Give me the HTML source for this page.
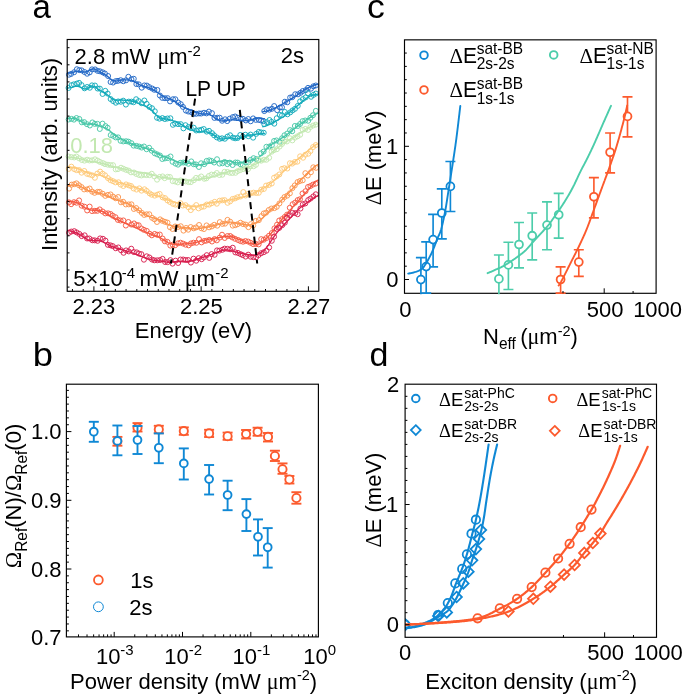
<!DOCTYPE html>
<html><head><meta charset="utf-8"><style>
html,body{margin:0;padding:0;background:#fff;}
body{width:685px;height:694px;overflow:hidden;}
svg{display:block;will-change:transform;}
text{font-family:"Liberation Sans", sans-serif;}
</style></head><body>
<svg width="685" height="694" viewBox="0 0 685 694">
<rect width="685" height="694" fill="#fff"/>
<polyline points="67.6,73.19 68.4,73.16 69.2,73.11 70,73.02 70.8,72.91 71.6,72.76 72.4,72.55 73.2,72.28 74,72.02 74.8,71.77 75.6,71.58 76.4,71.44 77.2,71.34 78,71.3 78.8,71.31 79.6,71.37 80.4,71.48 81.2,71.64 82,71.83 82.8,71.99 83.6,72.06 84.4,72.06 85.2,71.99 86,71.83 86.8,71.6 87.6,71.29 88.4,70.9 89.2,70.44 90,69.94 90.8,69.52 91.6,69.22 92.4,69.03 93.2,68.96 94,69 94.8,69.16 95.6,69.43 96.4,69.81 97.2,70.29 98,70.78 98.8,71.26 99.6,71.73 100.4,72.18 101.2,72.62 102,73.04 102.8,73.45 103.6,73.85 104.4,74.28 105.2,74.75 106,75.27 106.8,75.83 107.6,76.43 108.4,77.08 109.2,77.78 110,78.49 110.8,79.15 111.6,79.71 112.4,80.18 113.2,80.54 114,80.8 114.8,80.95 115.6,81 116.4,80.95 117.2,80.82 118,80.69 118.8,80.56 119.6,80.43 120.4,80.3 121.2,80.17 122,80.05 122.8,79.96 123.6,79.9 124.4,79.86 125.2,79.84 126,79.85 126.8,79.89 127.6,79.94 128.4,80.03 129.2,80.12 130,80.25 130.8,80.43 131.6,80.65 132.4,80.92 133.2,81.24 134,81.6 134.8,82 135.6,82.45 136.4,82.95 137.2,83.45 138,83.91 138.8,84.35 139.6,84.74 140.4,85.11 141.2,85.44 142,85.74 142.8,86 143.6,86.24 144.4,86.44 145.2,86.65 146,86.88 146.8,87.13 147.6,87.4 148.4,87.7 149.2,88.02 150,88.35 150.8,88.72 151.6,89.1 152.4,89.5 153.2,89.91 154,90.35 154.8,90.8 155.6,91.28 156.4,91.78 157.2,92.31 158,92.86 158.8,93.43 159.6,94.02 160.4,94.63 161.2,95.2 162,95.72 162.8,96.2 163.6,96.64 164.4,97.03 165.2,97.37 166,97.67 166.8,97.92 167.6,98.13 168.4,98.32 169.2,98.56 170,98.84 170.8,99.17 171.6,99.55 172.4,99.97 173.2,100.43 174,100.94 174.8,101.49 175.6,102.09 176.4,102.68 177.2,103.25 178,103.81 178.8,104.33 179.6,104.84 180.4,105.33 181.2,105.79 182,106.23 182.8,106.65 183.6,107.05 184.4,107.45 185.2,107.83 186,108.2 186.8,108.56 187.6,108.91 188.4,109.25 189.2,109.58 190,109.9 190.8,110.2 191.6,110.5 192.4,110.8 193.2,111.11 194,111.44 194.8,111.77 195.6,112.11 196.4,112.45 197.2,112.77 198,113.04 198.8,113.29 199.6,113.5 200.4,113.66 201.2,113.78 202,113.86 202.8,113.9 203.6,113.9 204.4,113.9 205.2,113.9 206,113.91 206.8,113.99 207.6,114.12 208.4,114.31 209.2,114.57 210,114.88 210.8,115.25 211.6,115.68 212.4,116.17 213.2,116.7 214,117.23 214.8,117.77 215.6,118.3 216.4,118.83 217.2,119.37 218,119.82 218.8,120.2 219.6,120.5 220.4,120.73 221.2,120.88 222,120.95 222.8,120.94 223.6,120.86 224.4,120.7 225.2,120.54 226,120.38 226.8,120.22 227.6,120.09 228.4,119.99 229.2,119.91 230,119.86 230.8,119.83 231.6,119.84 232.4,119.86 233.2,119.92 234,119.99 234.8,120.07 235.6,120.15 236.4,120.22 237.2,120.28 238,120.34 238.8,120.39 239.6,120.43 240.4,120.46 241.2,120.48 242,120.49 242.8,120.5 243.6,120.5 244.4,120.5 245.2,120.5 246,120.49 246.8,120.45 247.6,120.38 248.4,120.29 249.2,120.17 250,120.03 250.8,119.86 251.6,119.66 252.4,119.44 253.2,119.2 254,118.97 254.8,118.73 255.6,118.52 256.4,118.36 257.2,118.24 258,118.16 258.8,118.12 259.6,118.13 260.4,118.18 261.2,118.28 262,118.4 262.8,118.52 263.6,118.62 264.4,118.71" fill="none" stroke="#2368c6" stroke-width="1.4" stroke-linejoin="round" stroke-linecap="round" />
<polyline points="262.8,111.69 263.6,111.6 264.4,111.47 265.2,111.32 266,111.14 266.8,110.94 267.6,110.73 268.4,110.5 269.2,110.27 270,110.03 270.8,109.78 271.6,109.51 272.4,109.21 273.2,108.9 274,108.56 274.8,108.2 275.6,107.81 276.4,107.4 277.2,106.97 278,106.54 278.8,106.1 279.6,105.66 280.4,105.22 281.2,104.77 282,104.32 282.8,103.86 283.6,103.4 284.4,102.93 285.2,102.46 286,101.98 286.8,101.5 287.6,101.02 288.4,100.53 289.2,100.04 290,99.55 290.8,99.05 291.6,98.56 292.4,98.06 293.2,97.56 294,97.05 294.8,96.55 295.6,96.04 296.4,95.54 297.2,95.03 298,94.51 298.8,93.98 299.6,93.45 300.4,92.9 301.2,92.34 302,91.78 302.8,91.2 303.6,90.62 304.4,90.03 305.2,89.47 306,88.94 306.8,88.45 307.6,87.99 308.4,87.56 309.2,87.16 310,86.8 310.8,86.47 311.6,86.17 312.4,85.87 313.2,85.58 314,85.29 314.8,85.01 315.6,84.77 316.4,84.56 317.2,84.39 318,84.24" fill="none" stroke="#2368c6" stroke-width="1.4" stroke-linejoin="round" stroke-linecap="round" />
<polyline points="67.6,88.05 68.4,87.99 69.2,87.9 70,87.78 70.8,87.63 71.6,87.44 72.4,87.21 73.2,86.93 74,86.66 74.8,86.42 75.6,86.27 76.4,86.2 77.2,86.21 78,86.31 78.8,86.5 79.6,86.77 80.4,87.13 81.2,87.57 82,88.07 82.8,88.5 83.6,88.8 84.4,88.97 85.2,89 86,88.91 86.8,88.69 87.6,88.33 88.4,87.85 89.2,87.23 90,86.7 90.8,86.32 91.6,86.09 92.4,86.01 93.2,86.08 94,86.3 94.8,86.67 95.6,87.19 96.4,87.85 97.2,88.48 98,89.08 98.8,89.65 99.6,90.19 100.4,90.7 101.2,91.18 102,91.63 102.8,92.05 103.6,92.45 104.4,92.88 105.2,93.35 106,93.87 106.8,94.43 107.6,95.03 108.4,95.68 109.2,96.38 110,97.09 110.8,97.77 111.6,98.37 112.4,98.88 113.2,99.3 114,99.63 114.8,99.88 115.6,100.03 116.4,100.1 117.2,100.1 118,100.1 118.8,100.1 119.6,100.1 120.4,100.1 121.2,100.1 122,100.11 122.8,100.13 123.6,100.16 124.4,100.2 125.2,100.25 126,100.31 126.8,100.39 127.6,100.48 128.4,100.57 129.2,100.68 130,100.8 130.8,100.94 131.6,101.11 132.4,101.29 133.2,101.5 134,101.73 134.8,101.98 135.6,102.26 136.4,102.55 137.2,102.85 138,103.15 138.8,103.46 139.6,103.78 140.4,104.1 141.2,104.43 142,104.77 142.8,105.11 143.6,105.46 144.4,105.82 145.2,106.18 146,106.56 146.8,106.98 147.6,107.41 148.4,107.87 149.2,108.36 150,108.89 150.8,109.5 151.6,110.19 152.4,110.96 153.2,111.79 154,112.66 154.8,113.52 155.6,114.38 156.4,115.23 157.2,116.04 158,116.73 158.8,117.3 159.6,117.76 160.4,118.1 161.2,118.34 162,118.52 162.8,118.66 163.6,118.73 164.4,118.79 165.2,118.86 166,118.96 166.8,119.08 167.6,119.22 168.4,119.39 169.2,119.58 170,119.8 170.8,120.04 171.6,120.3 172.4,120.57 173.2,120.85 174,121.15 174.8,121.46 175.6,121.78 176.4,122.12 177.2,122.48 178,122.85 178.8,123.23 179.6,123.62 180.4,124.02 181.2,124.44 182,124.87 182.8,125.32 183.6,125.79 184.4,126.27 185.2,126.77 186,127.29 186.8,127.82 187.6,128.32 188.4,128.78 189.2,129.2 190,129.57 190.8,129.9 191.6,130.19 192.4,130.44 193.2,130.64 194,130.8 194.8,130.96 195.6,131.12 196.4,131.28 197.2,131.42 198,131.54 198.8,131.64 199.6,131.73 200.4,131.8 201.2,131.85 202,131.88 202.8,131.9 203.6,131.9 204.4,131.9 205.2,131.9 206,131.91 206.8,131.99 207.6,132.12 208.4,132.31 209.2,132.57 210,132.88 210.8,133.25 211.6,133.68 212.4,134.17 213.2,134.7 214,135.23 214.8,135.77 215.6,136.3 216.4,136.83 217.2,137.37 218,137.82 218.8,138.2 219.6,138.5 220.4,138.73 221.2,138.88 222,138.95 222.8,138.94 223.6,138.86 224.4,138.7 225.2,138.54 226,138.38 226.8,138.23 227.6,138.11 228.4,138.04 229.2,138 230,138.01 230.8,138.05 231.6,138.14 232.4,138.27 233.2,138.44 234,138.64 234.8,138.79 235.6,138.88 236.4,138.9 237.2,138.85 238,138.73 238.8,138.55 239.6,138.3 240.4,137.98 241.2,137.6 242,137.21 242.8,136.85 243.6,136.53 244.4,136.24 245.2,135.98 246,135.76 246.8,135.57 247.6,135.42 248.4,135.3 249.2,135.2 250,135.1 250.8,135 251.6,134.89 252.4,134.77 253.2,134.65 254,134.53 254.8,134.39 255.6,134.26 256.4,134.11 257.2,133.97 258,133.82 258.8,133.68 259.6,133.53 260.4,133.44 261.2,133.43 262,133.43 262.8,133.45 263.6,133.49 264.4,133.54" fill="none" stroke="#14abba" stroke-width="1.4" stroke-linejoin="round" stroke-linecap="round" />
<polyline points="262.8,126.67 263.6,126.54 264.4,126.36 265.2,126.15 266,125.89 266.8,125.59 267.6,125.26 268.4,124.9 269.2,124.53 270,124.15 270.8,123.77 271.6,123.37 272.4,122.97 273.2,122.56 274,122.14 274.8,121.71 275.6,121.27 276.4,120.82 277.2,120.36 278,119.89 278.8,119.43 279.6,118.97 280.4,118.5 281.2,118.01 282,117.51 282.8,117 283.6,116.47 284.4,115.93 285.2,115.38 286,114.82 286.8,114.24 287.6,113.66 288.4,113.08 289.2,112.5 290,111.9 290.8,111.29 291.6,110.67 292.4,110.03 293.2,109.38 294,108.71 294.8,108.02 295.6,107.32 296.4,106.61 297.2,105.89 298,105.18 298.8,104.46 299.6,103.76 300.4,103.07 301.2,102.39 302,101.73 302.8,101.08 303.6,100.44 304.4,99.81 305.2,99.2 306,98.6 306.8,98.02 307.6,97.49 308.4,97 309.2,96.56 310,96.17 310.8,95.82 311.6,95.51 312.4,95.25 313.2,95.03 314,94.84 314.8,94.66 315.6,94.51 316.4,94.37 317.2,94.25 318,94.16" fill="none" stroke="#14abba" stroke-width="1.4" stroke-linejoin="round" stroke-linecap="round" />
<polyline points="67.6,118.52 68.4,118.53 69.2,118.54 70,118.55 70.8,118.56 71.6,118.58 72.4,118.6 73.2,118.61 74,118.63 74.8,118.67 75.6,118.77 76.4,118.94 77.2,119.18 78,119.47 78.8,119.84 79.6,120.26 80.4,120.76 81.2,121.31 82,121.91 82.8,122.47 83.6,122.95 84.4,123.35 85.2,123.68 86,123.93 86.8,124.1 87.6,124.19 88.4,124.2 89.2,124.14 90,124.04 90.8,123.97 91.6,123.94 92.4,123.96 93.2,124.03 94,124.13 94.8,124.29 95.6,124.48 96.4,124.73 97.2,125.01 98,125.31 98.8,125.6 99.6,125.9 100.4,126.19 101.2,126.47 102,126.75 102.8,127.03 103.6,127.31 104.4,127.61 105.2,127.96 106,128.36 106.8,128.8 107.6,129.29 108.4,129.83 109.2,130.41 110,131.05 110.8,131.73 111.6,132.42 112.4,133.1 113.2,133.77 114,134.41 114.8,135.03 115.6,135.64 116.4,136.21 117.2,136.76 118,137.27 118.8,137.74 119.6,138.2 120.4,138.65 121.2,139.08 122,139.5 122.8,139.9 123.6,140.3 124.4,140.7 125.2,141.1 126,141.5 126.8,141.9 127.6,142.28 128.4,142.65 129.2,143 130,143.33 130.8,143.64 131.6,143.94 132.4,144.22 133.2,144.48 134,144.73 134.8,144.98 135.6,145.22 136.4,145.47 137.2,145.72 138,145.96 138.8,146.21 139.6,146.45 140.4,146.7 141.2,146.95 142,147.19 142.8,147.44 143.6,147.68 144.4,147.93 145.2,148.18 146,148.42 146.8,148.68 147.6,148.96 148.4,149.25 149.2,149.56 150,149.89 150.8,150.24 151.6,150.61 152.4,151 153.2,151.4 154,151.81 154.8,152.23 155.6,152.64 156.4,153.05 157.2,153.45 158,153.85 158.8,154.24 159.6,154.61 160.4,154.98 161.2,155.33 162,155.67 162.8,156.01 163.6,156.33 164.4,156.65 165.2,156.96 166,157.28 166.8,157.6 167.6,157.92 168.4,158.23 169.2,158.55 170,158.87 170.8,159.19 171.6,159.51 172.4,159.82 173.2,160.14 174,160.46 174.8,160.78 175.6,161.09 176.4,161.41 177.2,161.71 178,161.98 178.8,162.21 179.6,162.42 180.4,162.59 181.2,162.74 182,162.85 182.8,162.93 183.6,162.98 184.4,163.02 185.2,163.06 186,163.1 186.8,163.14 187.6,163.19 188.4,163.26 189.2,163.34 190,163.43 190.8,163.54 191.6,163.66 192.4,163.79 193.2,163.94 194,164.1 194.8,164.26 195.6,164.42 196.4,164.58 197.2,164.7 198,164.78 198.8,164.83 199.6,164.84 200.4,164.82 201.2,164.76 202,164.67 202.8,164.54 203.6,164.38 204.4,164.22 205.2,164.06 206,163.9 206.8,163.74 207.6,163.58 208.4,163.42 209.2,163.26 210,163.1 210.8,162.94 211.6,162.78 212.4,162.62 213.2,162.46 214,162.3 214.8,162.14 215.6,161.98 216.4,161.83 217.2,161.69 218,161.56 218.8,161.44 219.6,161.33 220.4,161.22 221.2,161.12 222,161.03 222.8,160.95 223.6,160.86 224.4,160.78 225.2,160.71 226,160.68 226.8,160.69 227.6,160.74 228.4,160.82 229.2,160.94 230,161.09 230.8,161.28 231.6,161.51 232.4,161.76 233.2,162 234,162.25 234.8,162.46 235.6,162.63 236.4,162.75 237.2,162.83 238,162.86 238.8,162.85 239.6,162.79 240.4,162.69 241.2,162.54 242,162.38 242.8,162.22 243.6,162.06 244.4,161.89 245.2,161.71 246,161.53 246.8,161.33 247.6,161.13 248.4,160.91 249.2,160.69 250,160.45 250.8,160.21 251.6,159.97 252.4,159.72 253.2,159.48 254,159.22 254.8,158.96 255.6,158.68 256.4,158.4 257.2,158.07 258,157.66 258.8,157.16 259.6,156.57 260.4,155.91 261.2,155.17 262,154.37 262.8,153.51 263.6,152.58 264.4,151.62 265.2,150.68 266,149.74 266.8,148.83 267.6,147.98 268.4,147.18 269.2,146.44 270,145.74 270.8,145.09 271.6,144.48 272.4,143.93 273.2,143.43 274,142.95 274.8,142.48 275.6,141.99 276.4,141.5 277.2,141.01 278,140.51 278.8,140 279.6,139.49 280.4,138.98 281.2,138.45 282,137.93 282.8,137.41 283.6,136.89 284.4,136.35 285.2,135.8 286,135.23 286.8,134.65 287.6,134.05 288.4,133.44 289.2,132.81 290,132.17 290.8,131.52 291.6,130.86 292.4,130.2 293.2,129.55 294,128.9 294.8,128.27 295.6,127.64 296.4,127.03 297.2,126.42 298,125.83 298.8,125.25 299.6,124.67 300.4,124.11 301.2,123.54 302,122.98 302.8,122.42 303.6,121.86 304.4,121.31 305.2,120.77 306,120.24 306.8,119.71 307.6,119.19 308.4,118.68 309.2,118.18 310,117.68 310.8,117.18 311.6,116.68 312.4,116.18 313.2,115.68 314,115.18 314.8,114.72 315.6,114.31 316.4,113.96 317.2,113.66 318,113.42" fill="none" stroke="#48c7a8" stroke-width="1.4" stroke-linejoin="round" stroke-linecap="round" />
<polyline points="67.6,157.1 68.4,157.14 69.2,157.2 70,157.26 70.8,157.33 71.6,157.41 72.4,157.49 73.2,157.58 74,157.66 74.8,157.75 75.6,157.86 76.4,157.98 77.2,158.12 78,158.28 78.8,158.45 79.6,158.64 80.4,158.85 81.2,159.07 82,159.29 82.8,159.52 83.6,159.74 84.4,159.96 85.2,160.19 86,160.41 86.8,160.61 87.6,160.81 88.4,160.99 89.2,161.16 90,161.31 90.8,161.46 91.6,161.59 92.4,161.71 93.2,161.82 94,161.93 94.8,162.04 95.6,162.15 96.4,162.27 97.2,162.38 98,162.51 98.8,162.65 99.6,162.81 100.4,162.98 101.2,163.16 102,163.35 102.8,163.56 103.6,163.78 104.4,164.01 105.2,164.24 106,164.47 106.8,164.7 107.6,164.93 108.4,165.16 109.2,165.39 110,165.62 110.8,165.85 111.6,166.07 112.4,166.28 113.2,166.5 114,166.7 114.8,166.9 115.6,167.1 116.4,167.29 117.2,167.47 118,167.65 118.8,167.84 119.6,168.02 120.4,168.2 121.2,168.39 122,168.57 122.8,168.75 123.6,168.93 124.4,169.12 125.2,169.3 126,169.48 126.8,169.67 127.6,169.85 128.4,170.02 129.2,170.19 130,170.36 130.8,170.52 131.6,170.67 132.4,170.82 133.2,170.97 134,171.11 134.8,171.26 135.6,171.4 136.4,171.54 137.2,171.68 138,171.83 138.8,171.97 139.6,172.11 140.4,172.25 141.2,172.4 142,172.54 142.8,172.69 143.6,172.84 144.4,173 145.2,173.17 146,173.35 146.8,173.53 147.6,173.72 148.4,173.92 149.2,174.13 150,174.34 150.8,174.56 151.6,174.77 152.4,174.98 153.2,175.19 154,175.41 154.8,175.62 155.6,175.83 156.4,176.04 157.2,176.25 158,176.44 158.8,176.62 159.6,176.79 160.4,176.94 161.2,177.08 162,177.21 162.8,177.32 163.6,177.42 164.4,177.52 165.2,177.61 166,177.71 166.8,177.8 167.6,177.9 168.4,177.99 169.2,178.09 170,178.18 170.8,178.27 171.6,178.37 172.4,178.46 173.2,178.56 174,178.66 174.8,178.75 175.6,178.85 176.4,178.96 177.2,179.06 178,179.17 178.8,179.27 179.6,179.38 180.4,179.49 181.2,179.6 182,179.71 182.8,179.82 183.6,179.93 184.4,180.04 185.2,180.15 186,180.26 186.8,180.37 187.6,180.45 188.4,180.51 189.2,180.53 190,180.54 190.8,180.52 191.6,180.47 192.4,180.39 193.2,180.29 194,180.17 194.8,180.04 195.6,179.92 196.4,179.8 197.2,179.67 198,179.55 198.8,179.43 199.6,179.3 200.4,179.18 201.2,179.06 202,178.93 202.8,178.81 203.6,178.69 204.4,178.56 205.2,178.44 206,178.32 206.8,178.19 207.6,178.05 208.4,177.9 209.2,177.73 210,177.55 210.8,177.35 211.6,177.13 212.4,176.9 213.2,176.65 214,176.39 214.8,176.13 215.6,175.86 216.4,175.6 217.2,175.34 218,175.08 218.8,174.82 219.6,174.55 220.4,174.29 221.2,174.03 222,173.77 222.8,173.5 223.6,173.24 224.4,172.98 225.2,172.72 226,172.48 226.8,172.24 227.6,172.02 228.4,171.81 229.2,171.61 230,171.42 230.8,171.24 231.6,171.08 232.4,170.92 233.2,170.75 234,170.59 234.8,170.43 235.6,170.27 236.4,170.11 237.2,169.95 238,169.79 238.8,169.63 239.6,169.47 240.4,169.31 241.2,169.15 242,168.99 242.8,168.82 243.6,168.66 244.4,168.48 245.2,168.28 246,168.06 246.8,167.81 247.6,167.55 248.4,167.26 249.2,166.95 250,166.62 250.8,166.27 251.6,165.91 252.4,165.56 253.2,165.2 254,164.84 254.8,164.49 255.6,164.13 256.4,163.78 257.2,163.42 258,163.07 258.8,162.71 259.6,162.36 260.4,162 261.2,161.62 262,161.19 262.8,160.71 263.6,160.18 264.4,159.6 265.2,158.98 266,158.3 266.8,157.58 267.6,156.8 268.4,156 269.2,155.2 270,154.4 270.8,153.61 271.6,152.85 272.4,152.11 273.2,151.39 274,150.7 274.8,150.02 275.6,149.37 276.4,148.75 277.2,148.14 278,147.54 278.8,146.95 279.6,146.35 280.4,145.76 281.2,145.16 282,144.57 282.8,143.99 283.6,143.43 284.4,142.88 285.2,142.34 286,141.82 286.8,141.31 287.6,140.82 288.4,140.34 289.2,139.87 290,139.4 290.8,138.93 291.6,138.46 292.4,137.99 293.2,137.52 294,137.04 294.8,136.56 295.6,136.07 296.4,135.57 297.2,135.06 298,134.55 298.8,134.03 299.6,133.5 300.4,132.97 301.2,132.43 302,131.9 302.8,131.37 303.6,130.83 304.4,130.3 305.2,129.78 306,129.28 306.8,128.79 307.6,128.32 308.4,127.87 309.2,127.44 310,127.02 310.8,126.62 311.6,126.23 312.4,125.85 313.2,125.46 314,125.08 314.8,124.72 315.6,124.41 316.4,124.14 317.2,123.91 318,123.72" fill="none" stroke="#c2e8b0" stroke-width="1.4" stroke-linejoin="round" stroke-linecap="round" />
<polyline points="67.6,166.67 68.4,166.75 69.2,166.84 70,166.94 70.8,167.07 71.6,167.2 72.4,167.34 73.2,167.48 74,167.62 74.8,167.77 75.6,167.95 76.4,168.16 77.2,168.39 78,168.65 78.8,168.93 79.6,169.24 80.4,169.57 81.2,169.93 82,170.3 82.8,170.66 83.6,171.03 84.4,171.39 85.2,171.76 86,172.11 86.8,172.43 87.6,172.73 88.4,173 89.2,173.24 90,173.46 90.8,173.64 91.6,173.8 92.4,173.94 93.2,174.06 94,174.18 94.8,174.29 95.6,174.41 96.4,174.53 97.2,174.66 98,174.81 98.8,174.99 99.6,175.19 100.4,175.41 101.2,175.66 102,175.94 102.8,176.24 103.6,176.57 104.4,176.91 105.2,177.26 106,177.6 106.8,177.95 107.6,178.3 108.4,178.64 109.2,178.99 110,179.33 110.8,179.67 111.6,179.99 112.4,180.3 113.2,180.59 114,180.88 114.8,181.15 115.6,181.4 116.4,181.65 117.2,181.88 118,182.1 118.8,182.33 119.6,182.56 120.4,182.78 121.2,183.01 122,183.23 122.8,183.46 123.6,183.69 124.4,183.91 125.2,184.14 126,184.37 126.8,184.59 127.6,184.83 128.4,185.07 129.2,185.32 130,185.57 130.8,185.83 131.6,186.1 132.4,186.38 133.2,186.66 134,186.95 134.8,187.24 135.6,187.53 136.4,187.82 137.2,188.11 138,188.4 138.8,188.69 139.6,188.99 140.4,189.28 141.2,189.57 142,189.86 142.8,190.16 143.6,190.49 144.4,190.85 145.2,191.24 146,191.66 146.8,192.11 147.6,192.55 148.4,192.98 149.2,193.39 150,193.78 150.8,194.13 151.6,194.44 152.4,194.71 153.2,194.94 154,195.12 154.8,195.3 155.6,195.49 156.4,195.67 157.2,195.87 158,196.08 158.8,196.31 159.6,196.56 160.4,196.83 161.2,197.11 162,197.42 162.8,197.74 163.6,198.08 164.4,198.44 165.2,198.79 166,199.14 166.8,199.49 167.6,199.83 168.4,200.15 169.2,200.45 170,200.74 170.8,201.02 171.6,201.27 172.4,201.51 173.2,201.74 174,201.95 174.8,202.17 175.6,202.38 176.4,202.6 177.2,202.82 178,203.04 178.8,203.26 179.6,203.48 180.4,203.71 181.2,203.93 182,204.16 182.8,204.39 183.6,204.62 184.4,204.86 185.2,205.1 186,205.34 186.8,205.58 187.6,205.8 188.4,205.99 189.2,206.16 190,206.29 190.8,206.38 191.6,206.45 192.4,206.49 193.2,206.48 194,206.43 194.8,206.35 195.6,206.25 196.4,206.14 197.2,206 198,205.85 198.8,205.67 199.6,205.47 200.4,205.27 201.2,205.06 202,204.86 202.8,204.65 203.6,204.45 204.4,204.24 205.2,204.03 206,203.83 206.8,203.62 207.6,203.43 208.4,203.24 209.2,203.07 210,202.9 210.8,202.74 211.6,202.6 212.4,202.46 213.2,202.34 214,202.22 214.8,202.1 215.6,201.99 216.4,201.87 217.2,201.76 218,201.64 218.8,201.52 219.6,201.41 220.4,201.29 221.2,201.18 222,201.06 222.8,200.94 223.6,200.83 224.4,200.71 225.2,200.6 226,200.48 226.8,200.36 227.6,200.24 228.4,200.11 229.2,199.97 230,199.82 230.8,199.66 231.6,199.5 232.4,199.33 233.2,199.15 234,198.96 234.8,198.77 235.6,198.58 236.4,198.4 237.2,198.21 238,198.02 238.8,197.83 239.6,197.64 240.4,197.46 241.2,197.27 242,197.08 242.8,196.89 243.6,196.7 244.4,196.52 245.2,196.33 246,196.14 246.8,195.95 247.6,195.74 248.4,195.5 249.2,195.24 250,194.96 250.8,194.65 251.6,194.32 252.4,193.96 253.2,193.58 254,193.17 254.8,192.77 255.6,192.36 256.4,191.96 257.2,191.55 258,191.15 258.8,190.74 259.6,190.34 260.4,189.93 261.2,189.53 262,189.11 262.8,188.68 263.6,188.22 264.4,187.75 265.2,187.25 266,186.72 266.8,186.18 267.6,185.61 268.4,185.02 269.2,184.41 270,183.8 270.8,183.19 271.6,182.58 272.4,181.96 273.2,181.31 274,180.64 274.8,179.95 275.6,179.24 276.4,178.5 277.2,177.74 278,176.96 278.8,176.16 279.6,175.35 280.4,174.55 281.2,173.74 282,172.93 282.8,172.15 283.6,171.37 284.4,170.62 285.2,169.87 286,169.15 286.8,168.43 287.6,167.74 288.4,167.05 289.2,166.38 290,165.71 290.8,165.03 291.6,164.36 292.4,163.68 293.2,163.01 294,162.34 294.8,161.67 295.6,160.99 296.4,160.32 297.2,159.65 298,158.99 298.8,158.32 299.6,157.65 300.4,156.98 301.2,156.32 302,155.65 302.8,154.98 303.6,154.32 304.4,153.65 305.2,152.99 306,152.33 306.8,151.68 307.6,151.03 308.4,150.39 309.2,149.75 310,149.12 310.8,148.5 311.6,147.88 312.4,147.26 313.2,146.63 314,146.01 314.8,145.44 315.6,144.93 316.4,144.49 317.2,144.12 318,143.82" fill="none" stroke="#fec979" stroke-width="1.4" stroke-linejoin="round" stroke-linecap="round" />
<polyline points="67.6,185.41 68.4,185.37 69.2,185.32 70,185.26 70.8,185.2 71.6,185.13 72.4,185.05 73.2,184.98 74,184.91 74.8,184.88 75.6,184.91 76.4,185 77.2,185.15 78,185.36 78.8,185.63 79.6,185.96 80.4,186.35 81.2,186.8 82,187.26 82.8,187.73 83.6,188.19 84.4,188.65 85.2,189.12 86,189.56 86.8,189.97 87.6,190.34 88.4,190.68 89.2,190.97 90,191.24 90.8,191.46 91.6,191.65 92.4,191.8 93.2,191.93 94,192.07 94.8,192.2 95.6,192.33 96.4,192.47 97.2,192.61 98,192.77 98.8,192.96 99.6,193.16 100.4,193.4 101.2,193.66 102,193.94 102.8,194.24 103.6,194.57 104.4,194.91 105.2,195.26 106,195.6 106.8,195.95 107.6,196.3 108.4,196.64 109.2,196.99 110,197.33 110.8,197.67 111.6,198 112.4,198.33 113.2,198.64 114,198.95 114.8,199.25 115.6,199.54 116.4,199.83 117.2,200.1 118,200.38 118.8,200.65 119.6,200.93 120.4,201.2 121.2,201.48 122,201.75 122.8,202.03 123.6,202.3 124.4,202.58 125.2,202.85 126,203.13 126.8,203.4 127.6,203.7 128.4,204.04 129.2,204.4 130,204.79 130.8,205.21 131.6,205.66 132.4,206.13 133.2,206.64 134,207.18 134.8,207.71 135.6,208.25 136.4,208.78 137.2,209.32 138,209.85 138.8,210.39 139.6,210.92 140.4,211.46 141.2,211.99 142,212.53 142.8,213.05 143.6,213.56 144.4,214.06 145.2,214.53 146,214.99 146.8,215.42 147.6,215.83 148.4,216.19 149.2,216.52 150,216.83 150.8,217.11 151.6,217.38 152.4,217.63 153.2,217.86 154,218.08 154.8,218.3 155.6,218.51 156.4,218.73 157.2,218.96 158,219.22 158.8,219.5 159.6,219.81 160.4,220.15 161.2,220.52 162,220.92 162.8,221.34 163.6,221.79 164.4,222.25 165.2,222.72 166,223.18 166.8,223.64 167.6,224.07 168.4,224.46 169.2,224.81 170,225.12 170.8,225.39 171.6,225.62 172.4,225.82 173.2,225.97 174,226.09 174.8,226.21 175.6,226.32 176.4,226.44 177.2,226.56 178,226.67 178.8,226.79 179.6,226.9 180.4,227.02 181.2,227.13 182,227.25 182.8,227.36 183.6,227.48 184.4,227.59 185.2,227.71 186,227.82 186.8,227.94 187.6,228.05 188.4,228.17 189.2,228.28 190,228.39 190.8,228.5 191.6,228.61 192.4,228.72 193.2,228.81 194,228.88 194.8,228.91 195.6,228.91 196.4,228.89 197.2,228.84 198,228.76 198.8,228.65 199.6,228.51 200.4,228.35 201.2,228.2 202,228.04 202.8,227.89 203.6,227.73 204.4,227.58 205.2,227.43 206,227.27 206.8,227.12 207.6,226.96 208.4,226.8 209.2,226.63 210,226.46 210.8,226.29 211.6,226.11 212.4,225.93 213.2,225.75 214,225.56 214.8,225.37 215.6,225.18 216.4,225 217.2,224.81 218,224.62 218.8,224.43 219.6,224.24 220.4,224.06 221.2,223.87 222,223.68 222.8,223.49 223.6,223.3 224.4,223.12 225.2,222.93 226,222.74 226.8,222.55 227.6,222.4 228.4,222.29 229.2,222.21 230,222.17 230.8,222.17 231.6,222.21 232.4,222.28 233.2,222.39 234,222.54 234.8,222.69 235.6,222.84 236.4,222.98 237.2,223.13 238,223.28 238.8,223.43 239.6,223.58 240.4,223.72 241.2,223.87 242,224.02 242.8,224.17 243.6,224.32 244.4,224.46 245.2,224.61 246,224.76 246.8,224.91 247.6,225 248.4,225.03 249.2,225 250,224.92 250.8,224.77 251.6,224.57 252.4,224.31 253.2,224 254,223.62 254.8,223.24 255.6,222.87 256.4,222.49 257.2,222.09 258,221.64 258.8,221.14 259.6,220.58 260.4,219.98 261.2,219.32 262,218.62 262.8,217.86 263.6,217.06 264.4,216.22 265.2,215.39 266,214.56 266.8,213.73 267.6,212.91 268.4,212.12 269.2,211.34 270,210.58 270.8,209.83 271.6,209.11 272.4,208.4 273.2,207.71 274,207.04 274.8,206.37 275.6,205.7 276.4,205.02 277.2,204.34 278,203.64 278.8,202.92 279.6,202.19 280.4,201.43 281.2,200.66 282,199.86 282.8,199.05 283.6,198.22 284.4,197.38 285.2,196.54 286,195.7 286.8,194.86 287.6,194.02 288.4,193.17 289.2,192.32 290,191.46 290.8,190.61 291.6,189.75 292.4,188.88 293.2,188.01 294,187.14 294.8,186.27 295.6,185.4 296.4,184.52 297.2,183.66 298,182.81 298.8,181.96 299.6,181.14 300.4,180.32 301.2,179.52 302,178.73 302.8,177.95 303.6,177.19 304.4,176.43 305.2,175.67 306,174.91 306.8,174.15 307.6,173.39 308.4,172.63 309.2,171.87 310,171.11 310.8,170.36 311.6,169.6 312.4,168.84 313.2,168.08 314,167.32 314.8,166.61 315.6,165.99 316.4,165.45 317.2,165 318,164.63" fill="none" stroke="#fb954f" stroke-width="1.4" stroke-linejoin="round" stroke-linecap="round" />
<polyline points="67.6,200.89 68.4,200.98 69.2,201.08 70,201.2 70.8,201.33 71.6,201.49 72.4,201.64 73.2,201.79 74,201.95 74.8,202.13 75.6,202.36 76.4,202.63 77.2,202.94 78,203.3 78.8,203.69 79.6,204.13 80.4,204.61 81.2,205.13 82,205.67 82.8,206.2 83.6,206.73 84.4,207.27 85.2,207.8 86,208.3 86.8,208.75 87.6,209.13 88.4,209.46 89.2,209.73 90,209.93 90.8,210.08 91.6,210.17 92.4,210.2 93.2,210.2 94,210.2 94.8,210.2 95.6,210.2 96.4,210.2 97.2,210.21 98,210.28 98.8,210.39 99.6,210.56 100.4,210.78 101.2,211.04 102,211.36 102.8,211.74 103.6,212.16 104.4,212.62 105.2,213.08 106,213.54 106.8,214 107.6,214.46 108.4,214.92 109.2,215.38 110,215.84 110.8,216.3 111.6,216.74 112.4,217.17 113.2,217.59 114,218 114.8,218.4 115.6,218.79 116.4,219.17 117.2,219.54 118,219.91 118.8,220.27 119.6,220.64 120.4,221 121.2,221.37 122,221.74 122.8,222.1 123.6,222.47 124.4,222.84 125.2,223.2 126,223.57 126.8,223.93 127.6,224.3 128.4,224.66 129.2,225.01 130,225.37 130.8,225.72 131.6,226.06 132.4,226.41 133.2,226.75 134,227.08 134.8,227.42 135.6,227.75 136.4,228.09 137.2,228.43 138,228.76 138.8,229.1 139.6,229.44 140.4,229.77 141.2,230.11 142,230.44 142.8,230.78 143.6,231.12 144.4,231.47 145.2,231.82 146,232.17 146.8,232.53 147.6,232.88 148.4,233.23 149.2,233.57 150,233.9 150.8,234.22 151.6,234.53 152.4,234.83 153.2,235.12 154,235.4 154.8,235.68 155.6,235.96 156.4,236.24 157.2,236.53 158,236.85 158.8,237.2 159.6,237.57 160.4,237.97 161.2,238.4 162,238.85 162.8,239.33 163.6,239.84 164.4,240.36 165.2,240.88 166,241.4 166.8,241.92 167.6,242.39 168.4,242.81 169.2,243.18 170,243.49 170.8,243.76 171.6,243.97 172.4,244.13 173.2,244.22 174,244.26 174.8,244.28 175.6,244.29 176.4,244.28 177.2,244.27 178,244.24 178.8,244.2 179.6,244.16 180.4,244.12 181.2,244.07 182,244.03 182.8,243.99 183.6,243.94 184.4,243.9 185.2,243.86 186,243.81 186.8,243.77 187.6,243.72 188.4,243.65 189.2,243.57 190,243.48 190.8,243.38 191.6,243.27 192.4,243.15 193.2,243.01 194,242.85 194.8,242.69 195.6,242.52 196.4,242.34 197.2,242.15 198,241.96 198.8,241.76 199.6,241.55 200.4,241.34 201.2,241.13 202,240.91 202.8,240.7 203.6,240.49 204.4,240.28 205.2,240.07 206,239.86 206.8,239.65 207.6,239.45 208.4,239.26 209.2,239.08 210,238.91 210.8,238.75 211.6,238.61 212.4,238.48 213.2,238.35 214,238.24 214.8,238.13 215.6,238.02 216.4,237.9 217.2,237.79 218,237.68 218.8,237.57 219.6,237.46 220.4,237.34 221.2,237.23 222,237.12 222.8,237.01 223.6,236.9 224.4,236.78 225.2,236.67 226,236.56 226.8,236.45 227.6,236.38 228.4,236.36 229.2,236.39 230,236.46 230.8,236.58 231.6,236.75 232.4,236.96 233.2,237.22 234,237.52 234.8,237.82 235.6,238.13 236.4,238.43 237.2,238.74 238,239.04 238.8,239.34 239.6,239.65 240.4,239.95 241.2,240.26 242,240.56 242.8,240.86 243.6,241.17 244.4,241.47 245.2,241.78 246,242.08 246.8,242.38 247.6,242.66 248.4,242.91 249.2,243.14 250,243.34 250.8,243.52 251.6,243.67 252.4,243.79 253.2,243.89 254,243.96 254.8,244.03 255.6,244.1 256.4,244.18 257.2,244.2 258,244.14 258.8,243.98 259.6,243.72 260.4,243.38 261.2,242.94 262,242.42 262.8,241.79 263.6,241.08 264.4,240.32 265.2,239.56 266,238.8 266.8,238.04 267.6,237.24 268.4,236.41 269.2,235.55 270,234.64 270.8,233.71 271.6,232.73 272.4,231.72 273.2,230.68 274,229.6 274.8,228.52 275.6,227.44 276.4,226.36 277.2,225.29 278,224.24 278.8,223.21 279.6,222.2 280.4,221.21 281.2,220.24 282,219.29 282.8,218.36 283.6,217.45 284.4,216.55 285.2,215.65 286,214.75 286.8,213.85 287.6,212.95 288.4,212.05 289.2,211.15 290,210.25 290.8,209.35 291.6,208.45 292.4,207.55 293.2,206.65 294,205.75 294.8,204.85 295.6,203.95 296.4,203.05 297.2,202.15 298,201.25 298.8,200.35 299.6,199.45 300.4,198.56 301.2,197.66 302,196.76 302.8,195.86 303.6,194.97 304.4,194.07 305.2,193.18 306,192.28 306.8,191.38 307.6,190.49 308.4,189.59 309.2,188.7 310,187.8 310.8,186.9 311.6,186.01 312.4,185.11 313.2,184.22 314,183.32 314.8,182.49 315.6,181.75 316.4,181.12 317.2,180.58 318,180.15" fill="none" stroke="#f55a43" stroke-width="1.4" stroke-linejoin="round" stroke-linecap="round" />
<polyline points="67.6,230.39 68.4,230.52 69.2,230.68 70,230.86 70.8,231.07 71.6,231.3 72.4,231.54 73.2,231.77 74,232 74.8,232.26 75.6,232.56 76.4,232.88 77.2,233.24 78,233.63 78.8,234.06 79.6,234.52 80.4,235.01 81.2,235.53 82,236.07 82.8,236.6 83.6,237.13 84.4,237.67 85.2,238.2 86,238.7 86.8,239.15 87.6,239.53 88.4,239.86 89.2,240.13 90,240.33 90.8,240.48 91.6,240.57 92.4,240.6 93.2,240.6 94,240.6 94.8,240.6 95.6,240.6 96.4,240.6 97.2,240.61 98,240.67 98.8,240.77 99.6,240.91 100.4,241.1 101.2,241.33 102,241.61 102.8,241.93 103.6,242.3 104.4,242.7 105.2,243.1 106,243.5 106.8,243.9 107.6,244.3 108.4,244.7 109.2,245.1 110,245.5 110.8,245.89 111.6,246.25 112.4,246.6 113.2,246.93 114,247.24 114.8,247.53 115.6,247.81 116.4,248.06 117.2,248.3 118,248.53 118.8,248.76 119.6,248.99 120.4,249.22 121.2,249.46 122,249.69 122.8,249.92 123.6,250.15 124.4,250.38 125.2,250.61 126,250.84 126.8,251.07 127.6,251.31 128.4,251.56 129.2,251.82 130,252.08 130.8,252.35 131.6,252.64 132.4,252.92 133.2,253.22 134,253.53 134.8,253.83 135.6,254.14 136.4,254.44 137.2,254.75 138,255.06 138.8,255.36 139.6,255.67 140.4,255.97 141.2,256.28 142,256.58 142.8,256.89 143.6,257.19 144.4,257.5 145.2,257.81 146,258.11 146.8,258.41 147.6,258.7 148.4,258.96 149.2,259.2 150,259.42 150.8,259.62 151.6,259.8 152.4,259.96 153.2,260.09 154,260.21 154.8,260.33 155.6,260.45 156.4,260.57 157.2,260.69 158,260.81 158.8,260.93 159.6,261.05 160.4,261.17 161.2,261.29 162,261.41 162.8,261.53 163.6,261.64 164.4,261.76 165.2,261.88 166,262 166.8,262.12 167.6,262.21 168.4,262.26 169.2,262.29 170,262.28 170.8,262.23 171.6,262.16 172.4,262.06 173.2,261.95 174,261.83 174.8,261.73 175.6,261.65 176.4,261.59 177.2,261.55 178,261.53 178.8,261.52 179.6,261.53 180.4,261.54 181.2,261.54 182,261.55 182.8,261.55 183.6,261.56 184.4,261.56 185.2,261.57 186,261.57 186.8,261.58 187.6,261.55 188.4,261.5 189.2,261.41 190,261.3 190.8,261.15 191.6,260.98 192.4,260.77 193.2,260.53 194,260.27 194.8,260 195.6,259.74 196.4,259.47 197.2,259.21 198,258.94 198.8,258.68 199.6,258.42 200.4,258.15 201.2,257.89 202,257.63 202.8,257.37 203.6,257.1 204.4,256.84 205.2,256.58 206,256.31 206.8,256.05 207.6,255.78 208.4,255.51 209.2,255.24 210,254.95 210.8,254.67 211.6,254.38 212.4,254.08 213.2,253.78 214,253.48 214.8,253.18 215.6,252.87 216.4,252.57 217.2,252.26 218,251.96 218.8,251.66 219.6,251.35 220.4,251.05 221.2,250.74 222,250.45 222.8,250.22 223.6,250.04 224.4,249.92 225.2,249.86 226,249.85 226.8,249.9 227.6,250 228.4,250.16 229.2,250.36 230,250.57 230.8,250.77 231.6,250.97 232.4,251.17 233.2,251.38 234,251.58 234.8,251.78 235.6,251.99 236.4,252.19 237.2,252.39 238,252.58 238.8,252.77 239.6,252.95 240.4,253.13 241.2,253.3 242,253.46 242.8,253.62 243.6,253.77 244.4,253.92 245.2,254.07 246,254.22 246.8,254.37 247.6,254.52 248.4,254.67 249.2,254.82 250,254.97 250.8,255.12 251.6,255.27 252.4,255.36 253.2,255.4 254,255.36 254.8,255.26 255.6,255.09 256.4,254.85 257.2,254.55 258,254.17 258.8,253.73 259.6,253.28 260.4,252.82 261.2,252.37 262,251.89 262.8,251.33 263.6,250.68 264.4,249.95 265.2,249.14 266,248.24 266.8,247.25 267.6,246.18 268.4,245.03 269.2,243.82 270,242.6 270.8,241.38 271.6,240.17 272.4,238.97 273.2,237.81 274,236.67 274.8,235.56 275.6,234.48 276.4,233.43 277.2,232.41 278,231.43 278.8,230.49 279.6,229.57 280.4,228.66 281.2,227.77 282,226.88 282.8,226.01 283.6,225.15 284.4,224.29 285.2,223.44 286,222.58 286.8,221.72 287.6,220.87 288.4,220.01 289.2,219.16 290,218.3 290.8,217.44 291.6,216.59 292.4,215.73 293.2,214.88 294,214.02 294.8,213.16 295.6,212.31 296.4,211.45 297.2,210.61 298,209.81 298.8,209.03 299.6,208.29 300.4,207.58 301.2,206.9 302,206.26 302.8,205.65 303.6,205.07 304.4,204.51 305.2,203.95 306,203.38 306.8,202.82 307.6,202.26 308.4,201.7 309.2,201.13 310,200.57 310.8,200.01 311.6,199.45 312.4,198.88 313.2,198.32 314,197.76 314.8,197.24 315.6,196.78 316.4,196.38 317.2,196.04 318,195.77" fill="none" stroke="#d8204f" stroke-width="1.4" stroke-linejoin="round" stroke-linecap="round" />
<circle cx="68.95" cy="74.74" r="2.5" fill="none" stroke="#2368c6" stroke-width="0.95"/>
<circle cx="71.14" cy="73.9" r="2.5" fill="none" stroke="#2368c6" stroke-width="0.95"/>
<circle cx="74.15" cy="72.22" r="2.5" fill="none" stroke="#2368c6" stroke-width="0.95"/>
<circle cx="76.87" cy="69.22" r="2.5" fill="none" stroke="#2368c6" stroke-width="0.95"/>
<circle cx="79.26" cy="70.11" r="2.5" fill="none" stroke="#2368c6" stroke-width="0.95"/>
<circle cx="81.67" cy="70.36" r="2.5" fill="none" stroke="#2368c6" stroke-width="0.95"/>
<circle cx="84.5" cy="72.04" r="2.5" fill="none" stroke="#2368c6" stroke-width="0.95"/>
<circle cx="87.13" cy="73.73" r="2.5" fill="none" stroke="#2368c6" stroke-width="0.95"/>
<circle cx="89.69" cy="72.37" r="2.5" fill="none" stroke="#2368c6" stroke-width="0.95"/>
<circle cx="91.99" cy="69.36" r="2.5" fill="none" stroke="#2368c6" stroke-width="0.95"/>
<circle cx="95.08" cy="69.41" r="2.5" fill="none" stroke="#2368c6" stroke-width="0.95"/>
<circle cx="97.67" cy="70.91" r="2.5" fill="none" stroke="#2368c6" stroke-width="0.95"/>
<circle cx="99.95" cy="71.29" r="2.5" fill="none" stroke="#2368c6" stroke-width="0.95"/>
<circle cx="102.66" cy="72.32" r="2.5" fill="none" stroke="#2368c6" stroke-width="0.95"/>
<circle cx="104.92" cy="73.51" r="2.5" fill="none" stroke="#2368c6" stroke-width="0.95"/>
<circle cx="108.09" cy="76" r="2.5" fill="none" stroke="#2368c6" stroke-width="0.95"/>
<circle cx="110.59" cy="82" r="2.5" fill="none" stroke="#2368c6" stroke-width="0.95"/>
<circle cx="113.08" cy="82.57" r="2.5" fill="none" stroke="#2368c6" stroke-width="0.95"/>
<circle cx="115.76" cy="81.12" r="2.5" fill="none" stroke="#2368c6" stroke-width="0.95"/>
<circle cx="118.01" cy="80.85" r="2.5" fill="none" stroke="#2368c6" stroke-width="0.95"/>
<circle cx="120.68" cy="80.21" r="2.5" fill="none" stroke="#2368c6" stroke-width="0.95"/>
<circle cx="123.25" cy="81.25" r="2.5" fill="none" stroke="#2368c6" stroke-width="0.95"/>
<circle cx="126.06" cy="80.33" r="2.5" fill="none" stroke="#2368c6" stroke-width="0.95"/>
<circle cx="128.36" cy="76.79" r="2.5" fill="none" stroke="#2368c6" stroke-width="0.95"/>
<circle cx="131.44" cy="79.17" r="2.5" fill="none" stroke="#2368c6" stroke-width="0.95"/>
<circle cx="133.78" cy="78.77" r="2.5" fill="none" stroke="#2368c6" stroke-width="0.95"/>
<circle cx="136.37" cy="84.06" r="2.5" fill="none" stroke="#2368c6" stroke-width="0.95"/>
<circle cx="138.76" cy="84.35" r="2.5" fill="none" stroke="#2368c6" stroke-width="0.95"/>
<circle cx="141.71" cy="87.69" r="2.5" fill="none" stroke="#2368c6" stroke-width="0.95"/>
<circle cx="144.39" cy="85.42" r="2.5" fill="none" stroke="#2368c6" stroke-width="0.95"/>
<circle cx="146.88" cy="85.57" r="2.5" fill="none" stroke="#2368c6" stroke-width="0.95"/>
<circle cx="149.25" cy="87.11" r="2.5" fill="none" stroke="#2368c6" stroke-width="0.95"/>
<circle cx="152.17" cy="88.5" r="2.5" fill="none" stroke="#2368c6" stroke-width="0.95"/>
<circle cx="154.39" cy="89.81" r="2.5" fill="none" stroke="#2368c6" stroke-width="0.95"/>
<circle cx="157.4" cy="89.99" r="2.5" fill="none" stroke="#2368c6" stroke-width="0.95"/>
<circle cx="159.85" cy="95.5" r="2.5" fill="none" stroke="#2368c6" stroke-width="0.95"/>
<circle cx="162.27" cy="97.89" r="2.5" fill="none" stroke="#2368c6" stroke-width="0.95"/>
<circle cx="165.01" cy="98.23" r="2.5" fill="none" stroke="#2368c6" stroke-width="0.95"/>
<circle cx="167.68" cy="98.17" r="2.5" fill="none" stroke="#2368c6" stroke-width="0.95"/>
<circle cx="170.06" cy="101.4" r="2.5" fill="none" stroke="#2368c6" stroke-width="0.95"/>
<circle cx="173.01" cy="99.22" r="2.5" fill="none" stroke="#2368c6" stroke-width="0.95"/>
<circle cx="175.35" cy="99.24" r="2.5" fill="none" stroke="#2368c6" stroke-width="0.95"/>
<circle cx="178.24" cy="102.52" r="2.5" fill="none" stroke="#2368c6" stroke-width="0.95"/>
<circle cx="180.8" cy="104.16" r="2.5" fill="none" stroke="#2368c6" stroke-width="0.95"/>
<circle cx="182.96" cy="106.89" r="2.5" fill="none" stroke="#2368c6" stroke-width="0.95"/>
<circle cx="185.89" cy="110.57" r="2.5" fill="none" stroke="#2368c6" stroke-width="0.95"/>
<circle cx="188.29" cy="111.53" r="2.5" fill="none" stroke="#2368c6" stroke-width="0.95"/>
<circle cx="191.15" cy="112.02" r="2.5" fill="none" stroke="#2368c6" stroke-width="0.95"/>
<circle cx="193.63" cy="113.86" r="2.5" fill="none" stroke="#2368c6" stroke-width="0.95"/>
<circle cx="196.17" cy="113.77" r="2.5" fill="none" stroke="#2368c6" stroke-width="0.95"/>
<circle cx="199.04" cy="113.46" r="2.5" fill="none" stroke="#2368c6" stroke-width="0.95"/>
<circle cx="201.13" cy="113.56" r="2.5" fill="none" stroke="#2368c6" stroke-width="0.95"/>
<circle cx="204.03" cy="112.76" r="2.5" fill="none" stroke="#2368c6" stroke-width="0.95"/>
<circle cx="206.5" cy="113.39" r="2.5" fill="none" stroke="#2368c6" stroke-width="0.95"/>
<circle cx="208.92" cy="111.59" r="2.5" fill="none" stroke="#2368c6" stroke-width="0.95"/>
<circle cx="211.95" cy="113.13" r="2.5" fill="none" stroke="#2368c6" stroke-width="0.95"/>
<circle cx="214.44" cy="117.93" r="2.5" fill="none" stroke="#2368c6" stroke-width="0.95"/>
<circle cx="217.24" cy="117.73" r="2.5" fill="none" stroke="#2368c6" stroke-width="0.95"/>
<circle cx="219.66" cy="117.68" r="2.5" fill="none" stroke="#2368c6" stroke-width="0.95"/>
<circle cx="222.1" cy="120.75" r="2.5" fill="none" stroke="#2368c6" stroke-width="0.95"/>
<circle cx="225.09" cy="119.31" r="2.5" fill="none" stroke="#2368c6" stroke-width="0.95"/>
<circle cx="227.17" cy="121.09" r="2.5" fill="none" stroke="#2368c6" stroke-width="0.95"/>
<circle cx="229.73" cy="118.7" r="2.5" fill="none" stroke="#2368c6" stroke-width="0.95"/>
<circle cx="232.74" cy="117.11" r="2.5" fill="none" stroke="#2368c6" stroke-width="0.95"/>
<circle cx="235.12" cy="116.48" r="2.5" fill="none" stroke="#2368c6" stroke-width="0.95"/>
<circle cx="237.72" cy="117.7" r="2.5" fill="none" stroke="#2368c6" stroke-width="0.95"/>
<circle cx="240.63" cy="118.92" r="2.5" fill="none" stroke="#2368c6" stroke-width="0.95"/>
<circle cx="242.9" cy="118.8" r="2.5" fill="none" stroke="#2368c6" stroke-width="0.95"/>
<circle cx="245.83" cy="120.45" r="2.5" fill="none" stroke="#2368c6" stroke-width="0.95"/>
<circle cx="248.29" cy="119.05" r="2.5" fill="none" stroke="#2368c6" stroke-width="0.95"/>
<circle cx="250.7" cy="121.28" r="2.5" fill="none" stroke="#2368c6" stroke-width="0.95"/>
<circle cx="253.14" cy="118.4" r="2.5" fill="none" stroke="#2368c6" stroke-width="0.95"/>
<circle cx="255.85" cy="119.88" r="2.5" fill="none" stroke="#2368c6" stroke-width="0.95"/>
<circle cx="258.88" cy="119.94" r="2.5" fill="none" stroke="#2368c6" stroke-width="0.95"/>
<circle cx="261.14" cy="120.54" r="2.5" fill="none" stroke="#2368c6" stroke-width="0.95"/>
<circle cx="263.6" cy="121.2" r="2.5" fill="none" stroke="#2368c6" stroke-width="0.95"/>
<circle cx="264.27" cy="111.07" r="2.5" fill="none" stroke="#2368c6" stroke-width="0.95"/>
<circle cx="266.59" cy="109.46" r="2.5" fill="none" stroke="#2368c6" stroke-width="0.95"/>
<circle cx="269.29" cy="109.65" r="2.5" fill="none" stroke="#2368c6" stroke-width="0.95"/>
<circle cx="271.94" cy="108.76" r="2.5" fill="none" stroke="#2368c6" stroke-width="0.95"/>
<circle cx="274.17" cy="106.05" r="2.5" fill="none" stroke="#2368c6" stroke-width="0.95"/>
<circle cx="277.2" cy="110.18" r="2.5" fill="none" stroke="#2368c6" stroke-width="0.95"/>
<circle cx="279.85" cy="107.56" r="2.5" fill="none" stroke="#2368c6" stroke-width="0.95"/>
<circle cx="281.99" cy="107.38" r="2.5" fill="none" stroke="#2368c6" stroke-width="0.95"/>
<circle cx="284.83" cy="101.72" r="2.5" fill="none" stroke="#2368c6" stroke-width="0.95"/>
<circle cx="287.27" cy="102.31" r="2.5" fill="none" stroke="#2368c6" stroke-width="0.95"/>
<circle cx="290.14" cy="97.57" r="2.5" fill="none" stroke="#2368c6" stroke-width="0.95"/>
<circle cx="292.32" cy="97.16" r="2.5" fill="none" stroke="#2368c6" stroke-width="0.95"/>
<circle cx="295.21" cy="94.22" r="2.5" fill="none" stroke="#2368c6" stroke-width="0.95"/>
<circle cx="297.98" cy="94.34" r="2.5" fill="none" stroke="#2368c6" stroke-width="0.95"/>
<circle cx="300.54" cy="92.81" r="2.5" fill="none" stroke="#2368c6" stroke-width="0.95"/>
<circle cx="302.76" cy="91.02" r="2.5" fill="none" stroke="#2368c6" stroke-width="0.95"/>
<circle cx="305.8" cy="90.11" r="2.5" fill="none" stroke="#2368c6" stroke-width="0.95"/>
<circle cx="308.04" cy="87.87" r="2.5" fill="none" stroke="#2368c6" stroke-width="0.95"/>
<circle cx="310.98" cy="88.69" r="2.5" fill="none" stroke="#2368c6" stroke-width="0.95"/>
<circle cx="313.4" cy="86.31" r="2.5" fill="none" stroke="#2368c6" stroke-width="0.95"/>
<circle cx="315.8" cy="85.49" r="2.5" fill="none" stroke="#2368c6" stroke-width="0.95"/>
<circle cx="68.57" cy="87.96" r="2.5" fill="none" stroke="#14abba" stroke-width="0.95"/>
<circle cx="71.57" cy="85.15" r="2.5" fill="none" stroke="#14abba" stroke-width="0.95"/>
<circle cx="73.87" cy="84.34" r="2.5" fill="none" stroke="#14abba" stroke-width="0.95"/>
<circle cx="76.87" cy="83.56" r="2.5" fill="none" stroke="#14abba" stroke-width="0.95"/>
<circle cx="79.14" cy="82.87" r="2.5" fill="none" stroke="#14abba" stroke-width="0.95"/>
<circle cx="81.59" cy="85.08" r="2.5" fill="none" stroke="#14abba" stroke-width="0.95"/>
<circle cx="84.52" cy="88.32" r="2.5" fill="none" stroke="#14abba" stroke-width="0.95"/>
<circle cx="87.14" cy="86.98" r="2.5" fill="none" stroke="#14abba" stroke-width="0.95"/>
<circle cx="89.83" cy="87.74" r="2.5" fill="none" stroke="#14abba" stroke-width="0.95"/>
<circle cx="91.98" cy="85.37" r="2.5" fill="none" stroke="#14abba" stroke-width="0.95"/>
<circle cx="94.97" cy="85.53" r="2.5" fill="none" stroke="#14abba" stroke-width="0.95"/>
<circle cx="97.62" cy="88.52" r="2.5" fill="none" stroke="#14abba" stroke-width="0.95"/>
<circle cx="99.88" cy="88.64" r="2.5" fill="none" stroke="#14abba" stroke-width="0.95"/>
<circle cx="102.57" cy="93.96" r="2.5" fill="none" stroke="#14abba" stroke-width="0.95"/>
<circle cx="105.27" cy="90.82" r="2.5" fill="none" stroke="#14abba" stroke-width="0.95"/>
<circle cx="107.65" cy="93.56" r="2.5" fill="none" stroke="#14abba" stroke-width="0.95"/>
<circle cx="110.62" cy="99.04" r="2.5" fill="none" stroke="#14abba" stroke-width="0.95"/>
<circle cx="113.12" cy="101.06" r="2.5" fill="none" stroke="#14abba" stroke-width="0.95"/>
<circle cx="115.81" cy="102.72" r="2.5" fill="none" stroke="#14abba" stroke-width="0.95"/>
<circle cx="118.17" cy="101.44" r="2.5" fill="none" stroke="#14abba" stroke-width="0.95"/>
<circle cx="120.81" cy="101.75" r="2.5" fill="none" stroke="#14abba" stroke-width="0.95"/>
<circle cx="123.22" cy="100.66" r="2.5" fill="none" stroke="#14abba" stroke-width="0.95"/>
<circle cx="125.89" cy="104.57" r="2.5" fill="none" stroke="#14abba" stroke-width="0.95"/>
<circle cx="128.74" cy="101.61" r="2.5" fill="none" stroke="#14abba" stroke-width="0.95"/>
<circle cx="131.48" cy="101.63" r="2.5" fill="none" stroke="#14abba" stroke-width="0.95"/>
<circle cx="133.59" cy="102.23" r="2.5" fill="none" stroke="#14abba" stroke-width="0.95"/>
<circle cx="136.13" cy="99.23" r="2.5" fill="none" stroke="#14abba" stroke-width="0.95"/>
<circle cx="138.74" cy="101.14" r="2.5" fill="none" stroke="#14abba" stroke-width="0.95"/>
<circle cx="141.56" cy="103.21" r="2.5" fill="none" stroke="#14abba" stroke-width="0.95"/>
<circle cx="144.38" cy="100.49" r="2.5" fill="none" stroke="#14abba" stroke-width="0.95"/>
<circle cx="146.63" cy="103.82" r="2.5" fill="none" stroke="#14abba" stroke-width="0.95"/>
<circle cx="149.39" cy="106.93" r="2.5" fill="none" stroke="#14abba" stroke-width="0.95"/>
<circle cx="152.01" cy="108.22" r="2.5" fill="none" stroke="#14abba" stroke-width="0.95"/>
<circle cx="154.8" cy="111.27" r="2.5" fill="none" stroke="#14abba" stroke-width="0.95"/>
<circle cx="157" cy="117.75" r="2.5" fill="none" stroke="#14abba" stroke-width="0.95"/>
<circle cx="159.51" cy="118.67" r="2.5" fill="none" stroke="#14abba" stroke-width="0.95"/>
<circle cx="162.4" cy="118.07" r="2.5" fill="none" stroke="#14abba" stroke-width="0.95"/>
<circle cx="164.91" cy="119.03" r="2.5" fill="none" stroke="#14abba" stroke-width="0.95"/>
<circle cx="167.48" cy="118.47" r="2.5" fill="none" stroke="#14abba" stroke-width="0.95"/>
<circle cx="170.36" cy="118.25" r="2.5" fill="none" stroke="#14abba" stroke-width="0.95"/>
<circle cx="172.91" cy="124.81" r="2.5" fill="none" stroke="#14abba" stroke-width="0.95"/>
<circle cx="175.15" cy="123.52" r="2.5" fill="none" stroke="#14abba" stroke-width="0.95"/>
<circle cx="178.03" cy="124.12" r="2.5" fill="none" stroke="#14abba" stroke-width="0.95"/>
<circle cx="180.78" cy="124.17" r="2.5" fill="none" stroke="#14abba" stroke-width="0.95"/>
<circle cx="183.45" cy="128.35" r="2.5" fill="none" stroke="#14abba" stroke-width="0.95"/>
<circle cx="185.5" cy="125.2" r="2.5" fill="none" stroke="#14abba" stroke-width="0.95"/>
<circle cx="188.58" cy="126.91" r="2.5" fill="none" stroke="#14abba" stroke-width="0.95"/>
<circle cx="190.73" cy="127.91" r="2.5" fill="none" stroke="#14abba" stroke-width="0.95"/>
<circle cx="193.71" cy="127.68" r="2.5" fill="none" stroke="#14abba" stroke-width="0.95"/>
<circle cx="196.26" cy="130.48" r="2.5" fill="none" stroke="#14abba" stroke-width="0.95"/>
<circle cx="199.07" cy="130.31" r="2.5" fill="none" stroke="#14abba" stroke-width="0.95"/>
<circle cx="201.48" cy="129.75" r="2.5" fill="none" stroke="#14abba" stroke-width="0.95"/>
<circle cx="203.74" cy="129.02" r="2.5" fill="none" stroke="#14abba" stroke-width="0.95"/>
<circle cx="206.7" cy="131.6" r="2.5" fill="none" stroke="#14abba" stroke-width="0.95"/>
<circle cx="209.05" cy="130.84" r="2.5" fill="none" stroke="#14abba" stroke-width="0.95"/>
<circle cx="212" cy="133.14" r="2.5" fill="none" stroke="#14abba" stroke-width="0.95"/>
<circle cx="214.12" cy="135.33" r="2.5" fill="none" stroke="#14abba" stroke-width="0.95"/>
<circle cx="216.89" cy="137.42" r="2.5" fill="none" stroke="#14abba" stroke-width="0.95"/>
<circle cx="219.71" cy="138.77" r="2.5" fill="none" stroke="#14abba" stroke-width="0.95"/>
<circle cx="221.99" cy="138.28" r="2.5" fill="none" stroke="#14abba" stroke-width="0.95"/>
<circle cx="224.89" cy="138.74" r="2.5" fill="none" stroke="#14abba" stroke-width="0.95"/>
<circle cx="227.52" cy="136.58" r="2.5" fill="none" stroke="#14abba" stroke-width="0.95"/>
<circle cx="230.14" cy="135.27" r="2.5" fill="none" stroke="#14abba" stroke-width="0.95"/>
<circle cx="232.83" cy="137.64" r="2.5" fill="none" stroke="#14abba" stroke-width="0.95"/>
<circle cx="235.15" cy="138.31" r="2.5" fill="none" stroke="#14abba" stroke-width="0.95"/>
<circle cx="237.59" cy="138" r="2.5" fill="none" stroke="#14abba" stroke-width="0.95"/>
<circle cx="240.26" cy="134.99" r="2.5" fill="none" stroke="#14abba" stroke-width="0.95"/>
<circle cx="242.93" cy="136.53" r="2.5" fill="none" stroke="#14abba" stroke-width="0.95"/>
<circle cx="245.33" cy="134.73" r="2.5" fill="none" stroke="#14abba" stroke-width="0.95"/>
<circle cx="248.33" cy="136.19" r="2.5" fill="none" stroke="#14abba" stroke-width="0.95"/>
<circle cx="250.54" cy="134.57" r="2.5" fill="none" stroke="#14abba" stroke-width="0.95"/>
<circle cx="253.13" cy="137.66" r="2.5" fill="none" stroke="#14abba" stroke-width="0.95"/>
<circle cx="256.26" cy="133.83" r="2.5" fill="none" stroke="#14abba" stroke-width="0.95"/>
<circle cx="258.78" cy="131.9" r="2.5" fill="none" stroke="#14abba" stroke-width="0.95"/>
<circle cx="261.05" cy="132.39" r="2.5" fill="none" stroke="#14abba" stroke-width="0.95"/>
<circle cx="263.71" cy="132.75" r="2.5" fill="none" stroke="#14abba" stroke-width="0.95"/>
<circle cx="264.25" cy="124.09" r="2.5" fill="none" stroke="#14abba" stroke-width="0.95"/>
<circle cx="266.72" cy="122.1" r="2.5" fill="none" stroke="#14abba" stroke-width="0.95"/>
<circle cx="269.45" cy="120.02" r="2.5" fill="none" stroke="#14abba" stroke-width="0.95"/>
<circle cx="271.67" cy="121.9" r="2.5" fill="none" stroke="#14abba" stroke-width="0.95"/>
<circle cx="274.3" cy="123.7" r="2.5" fill="none" stroke="#14abba" stroke-width="0.95"/>
<circle cx="276.74" cy="118.25" r="2.5" fill="none" stroke="#14abba" stroke-width="0.95"/>
<circle cx="279.82" cy="114.88" r="2.5" fill="none" stroke="#14abba" stroke-width="0.95"/>
<circle cx="281.99" cy="115.27" r="2.5" fill="none" stroke="#14abba" stroke-width="0.95"/>
<circle cx="284.83" cy="111.94" r="2.5" fill="none" stroke="#14abba" stroke-width="0.95"/>
<circle cx="287.41" cy="114.31" r="2.5" fill="none" stroke="#14abba" stroke-width="0.95"/>
<circle cx="290.19" cy="112.38" r="2.5" fill="none" stroke="#14abba" stroke-width="0.95"/>
<circle cx="292.53" cy="110.43" r="2.5" fill="none" stroke="#14abba" stroke-width="0.95"/>
<circle cx="294.99" cy="108.82" r="2.5" fill="none" stroke="#14abba" stroke-width="0.95"/>
<circle cx="297.73" cy="105.91" r="2.5" fill="none" stroke="#14abba" stroke-width="0.95"/>
<circle cx="300.13" cy="101.34" r="2.5" fill="none" stroke="#14abba" stroke-width="0.95"/>
<circle cx="302.88" cy="99.1" r="2.5" fill="none" stroke="#14abba" stroke-width="0.95"/>
<circle cx="305.68" cy="97.4" r="2.5" fill="none" stroke="#14abba" stroke-width="0.95"/>
<circle cx="307.93" cy="93.3" r="2.5" fill="none" stroke="#14abba" stroke-width="0.95"/>
<circle cx="311.09" cy="96.77" r="2.5" fill="none" stroke="#14abba" stroke-width="0.95"/>
<circle cx="313.42" cy="94.9" r="2.5" fill="none" stroke="#14abba" stroke-width="0.95"/>
<circle cx="315.88" cy="93.54" r="2.5" fill="none" stroke="#14abba" stroke-width="0.95"/>
<circle cx="68.66" cy="119.47" r="2.5" fill="none" stroke="#48c7a8" stroke-width="0.95"/>
<circle cx="71.54" cy="118.85" r="2.5" fill="none" stroke="#48c7a8" stroke-width="0.95"/>
<circle cx="73.98" cy="119.65" r="2.5" fill="none" stroke="#48c7a8" stroke-width="0.95"/>
<circle cx="76.53" cy="118" r="2.5" fill="none" stroke="#48c7a8" stroke-width="0.95"/>
<circle cx="79.29" cy="118.93" r="2.5" fill="none" stroke="#48c7a8" stroke-width="0.95"/>
<circle cx="81.82" cy="122.34" r="2.5" fill="none" stroke="#48c7a8" stroke-width="0.95"/>
<circle cx="84.22" cy="122.14" r="2.5" fill="none" stroke="#48c7a8" stroke-width="0.95"/>
<circle cx="86.95" cy="124.17" r="2.5" fill="none" stroke="#48c7a8" stroke-width="0.95"/>
<circle cx="89.87" cy="125.49" r="2.5" fill="none" stroke="#48c7a8" stroke-width="0.95"/>
<circle cx="92.38" cy="122.44" r="2.5" fill="none" stroke="#48c7a8" stroke-width="0.95"/>
<circle cx="94.81" cy="123.86" r="2.5" fill="none" stroke="#48c7a8" stroke-width="0.95"/>
<circle cx="97.5" cy="123.83" r="2.5" fill="none" stroke="#48c7a8" stroke-width="0.95"/>
<circle cx="99.79" cy="128.97" r="2.5" fill="none" stroke="#48c7a8" stroke-width="0.95"/>
<circle cx="102.55" cy="123.61" r="2.5" fill="none" stroke="#48c7a8" stroke-width="0.95"/>
<circle cx="105.44" cy="126.05" r="2.5" fill="none" stroke="#48c7a8" stroke-width="0.95"/>
<circle cx="107.61" cy="127.74" r="2.5" fill="none" stroke="#48c7a8" stroke-width="0.95"/>
<circle cx="110.69" cy="135.1" r="2.5" fill="none" stroke="#48c7a8" stroke-width="0.95"/>
<circle cx="113.21" cy="135.92" r="2.5" fill="none" stroke="#48c7a8" stroke-width="0.95"/>
<circle cx="115.71" cy="137.43" r="2.5" fill="none" stroke="#48c7a8" stroke-width="0.95"/>
<circle cx="118.12" cy="137.36" r="2.5" fill="none" stroke="#48c7a8" stroke-width="0.95"/>
<circle cx="120.56" cy="140.81" r="2.5" fill="none" stroke="#48c7a8" stroke-width="0.95"/>
<circle cx="123.28" cy="141.42" r="2.5" fill="none" stroke="#48c7a8" stroke-width="0.95"/>
<circle cx="126.14" cy="141.22" r="2.5" fill="none" stroke="#48c7a8" stroke-width="0.95"/>
<circle cx="128.55" cy="141.66" r="2.5" fill="none" stroke="#48c7a8" stroke-width="0.95"/>
<circle cx="131.38" cy="143.16" r="2.5" fill="none" stroke="#48c7a8" stroke-width="0.95"/>
<circle cx="133.63" cy="145.63" r="2.5" fill="none" stroke="#48c7a8" stroke-width="0.95"/>
<circle cx="136.59" cy="145.9" r="2.5" fill="none" stroke="#48c7a8" stroke-width="0.95"/>
<circle cx="139.22" cy="146.56" r="2.5" fill="none" stroke="#48c7a8" stroke-width="0.95"/>
<circle cx="141.73" cy="147.56" r="2.5" fill="none" stroke="#48c7a8" stroke-width="0.95"/>
<circle cx="144.02" cy="146.49" r="2.5" fill="none" stroke="#48c7a8" stroke-width="0.95"/>
<circle cx="146.63" cy="149.24" r="2.5" fill="none" stroke="#48c7a8" stroke-width="0.95"/>
<circle cx="149.14" cy="147.76" r="2.5" fill="none" stroke="#48c7a8" stroke-width="0.95"/>
<circle cx="151.73" cy="150.66" r="2.5" fill="none" stroke="#48c7a8" stroke-width="0.95"/>
<circle cx="154.74" cy="153.29" r="2.5" fill="none" stroke="#48c7a8" stroke-width="0.95"/>
<circle cx="157.19" cy="154.39" r="2.5" fill="none" stroke="#48c7a8" stroke-width="0.95"/>
<circle cx="159.96" cy="155.54" r="2.5" fill="none" stroke="#48c7a8" stroke-width="0.95"/>
<circle cx="162.27" cy="159.01" r="2.5" fill="none" stroke="#48c7a8" stroke-width="0.95"/>
<circle cx="164.91" cy="158.42" r="2.5" fill="none" stroke="#48c7a8" stroke-width="0.95"/>
<circle cx="167.84" cy="158.07" r="2.5" fill="none" stroke="#48c7a8" stroke-width="0.95"/>
<circle cx="170.5" cy="156.49" r="2.5" fill="none" stroke="#48c7a8" stroke-width="0.95"/>
<circle cx="172.56" cy="161.82" r="2.5" fill="none" stroke="#48c7a8" stroke-width="0.95"/>
<circle cx="175.57" cy="163.61" r="2.5" fill="none" stroke="#48c7a8" stroke-width="0.95"/>
<circle cx="178.03" cy="164.65" r="2.5" fill="none" stroke="#48c7a8" stroke-width="0.95"/>
<circle cx="180.3" cy="162.83" r="2.5" fill="none" stroke="#48c7a8" stroke-width="0.95"/>
<circle cx="183.27" cy="162.54" r="2.5" fill="none" stroke="#48c7a8" stroke-width="0.95"/>
<circle cx="185.67" cy="162.55" r="2.5" fill="none" stroke="#48c7a8" stroke-width="0.95"/>
<circle cx="188.31" cy="163.79" r="2.5" fill="none" stroke="#48c7a8" stroke-width="0.95"/>
<circle cx="191.28" cy="161.41" r="2.5" fill="none" stroke="#48c7a8" stroke-width="0.95"/>
<circle cx="193.75" cy="164.26" r="2.5" fill="none" stroke="#48c7a8" stroke-width="0.95"/>
<circle cx="195.93" cy="164.42" r="2.5" fill="none" stroke="#48c7a8" stroke-width="0.95"/>
<circle cx="198.91" cy="166.97" r="2.5" fill="none" stroke="#48c7a8" stroke-width="0.95"/>
<circle cx="201.11" cy="163.25" r="2.5" fill="none" stroke="#48c7a8" stroke-width="0.95"/>
<circle cx="204.23" cy="164.15" r="2.5" fill="none" stroke="#48c7a8" stroke-width="0.95"/>
<circle cx="206.66" cy="160.9" r="2.5" fill="none" stroke="#48c7a8" stroke-width="0.95"/>
<circle cx="209.28" cy="160.32" r="2.5" fill="none" stroke="#48c7a8" stroke-width="0.95"/>
<circle cx="211.51" cy="160.93" r="2.5" fill="none" stroke="#48c7a8" stroke-width="0.95"/>
<circle cx="214.15" cy="162.5" r="2.5" fill="none" stroke="#48c7a8" stroke-width="0.95"/>
<circle cx="217.02" cy="159.24" r="2.5" fill="none" stroke="#48c7a8" stroke-width="0.95"/>
<circle cx="219.53" cy="163.61" r="2.5" fill="none" stroke="#48c7a8" stroke-width="0.95"/>
<circle cx="222.39" cy="163.31" r="2.5" fill="none" stroke="#48c7a8" stroke-width="0.95"/>
<circle cx="224.67" cy="161.94" r="2.5" fill="none" stroke="#48c7a8" stroke-width="0.95"/>
<circle cx="227.34" cy="164.14" r="2.5" fill="none" stroke="#48c7a8" stroke-width="0.95"/>
<circle cx="229.77" cy="162.65" r="2.5" fill="none" stroke="#48c7a8" stroke-width="0.95"/>
<circle cx="232.6" cy="165.01" r="2.5" fill="none" stroke="#48c7a8" stroke-width="0.95"/>
<circle cx="235.47" cy="162.49" r="2.5" fill="none" stroke="#48c7a8" stroke-width="0.95"/>
<circle cx="237.66" cy="162.6" r="2.5" fill="none" stroke="#48c7a8" stroke-width="0.95"/>
<circle cx="240.57" cy="164.27" r="2.5" fill="none" stroke="#48c7a8" stroke-width="0.95"/>
<circle cx="242.8" cy="165.08" r="2.5" fill="none" stroke="#48c7a8" stroke-width="0.95"/>
<circle cx="245.83" cy="162.35" r="2.5" fill="none" stroke="#48c7a8" stroke-width="0.95"/>
<circle cx="248.21" cy="162.39" r="2.5" fill="none" stroke="#48c7a8" stroke-width="0.95"/>
<circle cx="250.58" cy="159.92" r="2.5" fill="none" stroke="#48c7a8" stroke-width="0.95"/>
<circle cx="253.57" cy="158.16" r="2.5" fill="none" stroke="#48c7a8" stroke-width="0.95"/>
<circle cx="256.23" cy="159.04" r="2.5" fill="none" stroke="#48c7a8" stroke-width="0.95"/>
<circle cx="258.39" cy="160.19" r="2.5" fill="none" stroke="#48c7a8" stroke-width="0.95"/>
<circle cx="260.97" cy="153.37" r="2.5" fill="none" stroke="#48c7a8" stroke-width="0.95"/>
<circle cx="263.65" cy="151.57" r="2.5" fill="none" stroke="#48c7a8" stroke-width="0.95"/>
<circle cx="266.41" cy="146.75" r="2.5" fill="none" stroke="#48c7a8" stroke-width="0.95"/>
<circle cx="269.27" cy="146.6" r="2.5" fill="none" stroke="#48c7a8" stroke-width="0.95"/>
<circle cx="271.82" cy="145.34" r="2.5" fill="none" stroke="#48c7a8" stroke-width="0.95"/>
<circle cx="274.09" cy="140.94" r="2.5" fill="none" stroke="#48c7a8" stroke-width="0.95"/>
<circle cx="276.52" cy="140.43" r="2.5" fill="none" stroke="#48c7a8" stroke-width="0.95"/>
<circle cx="279.46" cy="141.78" r="2.5" fill="none" stroke="#48c7a8" stroke-width="0.95"/>
<circle cx="282.04" cy="138.27" r="2.5" fill="none" stroke="#48c7a8" stroke-width="0.95"/>
<circle cx="284.44" cy="135.28" r="2.5" fill="none" stroke="#48c7a8" stroke-width="0.95"/>
<circle cx="287.26" cy="133.54" r="2.5" fill="none" stroke="#48c7a8" stroke-width="0.95"/>
<circle cx="290.09" cy="130.11" r="2.5" fill="none" stroke="#48c7a8" stroke-width="0.95"/>
<circle cx="292.19" cy="131.26" r="2.5" fill="none" stroke="#48c7a8" stroke-width="0.95"/>
<circle cx="294.89" cy="125.95" r="2.5" fill="none" stroke="#48c7a8" stroke-width="0.95"/>
<circle cx="297.81" cy="126.01" r="2.5" fill="none" stroke="#48c7a8" stroke-width="0.95"/>
<circle cx="300" cy="124.03" r="2.5" fill="none" stroke="#48c7a8" stroke-width="0.95"/>
<circle cx="302.58" cy="121.12" r="2.5" fill="none" stroke="#48c7a8" stroke-width="0.95"/>
<circle cx="305.2" cy="120.5" r="2.5" fill="none" stroke="#48c7a8" stroke-width="0.95"/>
<circle cx="308.16" cy="120.77" r="2.5" fill="none" stroke="#48c7a8" stroke-width="0.95"/>
<circle cx="310.38" cy="117.79" r="2.5" fill="none" stroke="#48c7a8" stroke-width="0.95"/>
<circle cx="312.95" cy="115.25" r="2.5" fill="none" stroke="#48c7a8" stroke-width="0.95"/>
<circle cx="315.88" cy="110.83" r="2.5" fill="none" stroke="#48c7a8" stroke-width="0.95"/>
<circle cx="68.6" cy="156.53" r="2.5" fill="none" stroke="#c2e8b0" stroke-width="0.95"/>
<circle cx="71.43" cy="157.09" r="2.5" fill="none" stroke="#c2e8b0" stroke-width="0.95"/>
<circle cx="74.22" cy="157.45" r="2.5" fill="none" stroke="#c2e8b0" stroke-width="0.95"/>
<circle cx="76.45" cy="156.55" r="2.5" fill="none" stroke="#c2e8b0" stroke-width="0.95"/>
<circle cx="79.14" cy="158.33" r="2.5" fill="none" stroke="#c2e8b0" stroke-width="0.95"/>
<circle cx="81.84" cy="160.01" r="2.5" fill="none" stroke="#c2e8b0" stroke-width="0.95"/>
<circle cx="84.49" cy="160.64" r="2.5" fill="none" stroke="#c2e8b0" stroke-width="0.95"/>
<circle cx="87.13" cy="159.73" r="2.5" fill="none" stroke="#c2e8b0" stroke-width="0.95"/>
<circle cx="89.49" cy="160.46" r="2.5" fill="none" stroke="#c2e8b0" stroke-width="0.95"/>
<circle cx="92.12" cy="160.31" r="2.5" fill="none" stroke="#c2e8b0" stroke-width="0.95"/>
<circle cx="95.02" cy="159.34" r="2.5" fill="none" stroke="#c2e8b0" stroke-width="0.95"/>
<circle cx="97.64" cy="160.59" r="2.5" fill="none" stroke="#c2e8b0" stroke-width="0.95"/>
<circle cx="99.95" cy="161.92" r="2.5" fill="none" stroke="#c2e8b0" stroke-width="0.95"/>
<circle cx="102.9" cy="163.08" r="2.5" fill="none" stroke="#c2e8b0" stroke-width="0.95"/>
<circle cx="105.01" cy="164.15" r="2.5" fill="none" stroke="#c2e8b0" stroke-width="0.95"/>
<circle cx="107.99" cy="164.72" r="2.5" fill="none" stroke="#c2e8b0" stroke-width="0.95"/>
<circle cx="110.65" cy="165.11" r="2.5" fill="none" stroke="#c2e8b0" stroke-width="0.95"/>
<circle cx="113.04" cy="165.16" r="2.5" fill="none" stroke="#c2e8b0" stroke-width="0.95"/>
<circle cx="115.72" cy="169.36" r="2.5" fill="none" stroke="#c2e8b0" stroke-width="0.95"/>
<circle cx="117.94" cy="169.15" r="2.5" fill="none" stroke="#c2e8b0" stroke-width="0.95"/>
<circle cx="121.01" cy="167.73" r="2.5" fill="none" stroke="#c2e8b0" stroke-width="0.95"/>
<circle cx="123.51" cy="168.77" r="2.5" fill="none" stroke="#c2e8b0" stroke-width="0.95"/>
<circle cx="126.05" cy="169.85" r="2.5" fill="none" stroke="#c2e8b0" stroke-width="0.95"/>
<circle cx="128.65" cy="170.6" r="2.5" fill="none" stroke="#c2e8b0" stroke-width="0.95"/>
<circle cx="131" cy="172.35" r="2.5" fill="none" stroke="#c2e8b0" stroke-width="0.95"/>
<circle cx="134.01" cy="172.49" r="2.5" fill="none" stroke="#c2e8b0" stroke-width="0.95"/>
<circle cx="136.42" cy="174.01" r="2.5" fill="none" stroke="#c2e8b0" stroke-width="0.95"/>
<circle cx="139.06" cy="174.96" r="2.5" fill="none" stroke="#c2e8b0" stroke-width="0.95"/>
<circle cx="141.4" cy="175.46" r="2.5" fill="none" stroke="#c2e8b0" stroke-width="0.95"/>
<circle cx="144.28" cy="174.81" r="2.5" fill="none" stroke="#c2e8b0" stroke-width="0.95"/>
<circle cx="146.64" cy="175.08" r="2.5" fill="none" stroke="#c2e8b0" stroke-width="0.95"/>
<circle cx="149.56" cy="175.18" r="2.5" fill="none" stroke="#c2e8b0" stroke-width="0.95"/>
<circle cx="151.72" cy="173.75" r="2.5" fill="none" stroke="#c2e8b0" stroke-width="0.95"/>
<circle cx="154.37" cy="176.42" r="2.5" fill="none" stroke="#c2e8b0" stroke-width="0.95"/>
<circle cx="157.03" cy="179.67" r="2.5" fill="none" stroke="#c2e8b0" stroke-width="0.95"/>
<circle cx="159.74" cy="176.87" r="2.5" fill="none" stroke="#c2e8b0" stroke-width="0.95"/>
<circle cx="162.62" cy="176.4" r="2.5" fill="none" stroke="#c2e8b0" stroke-width="0.95"/>
<circle cx="164.7" cy="178.16" r="2.5" fill="none" stroke="#c2e8b0" stroke-width="0.95"/>
<circle cx="167.63" cy="176.79" r="2.5" fill="none" stroke="#c2e8b0" stroke-width="0.95"/>
<circle cx="169.92" cy="176.99" r="2.5" fill="none" stroke="#c2e8b0" stroke-width="0.95"/>
<circle cx="172.73" cy="181.15" r="2.5" fill="none" stroke="#c2e8b0" stroke-width="0.95"/>
<circle cx="175.28" cy="181.54" r="2.5" fill="none" stroke="#c2e8b0" stroke-width="0.95"/>
<circle cx="177.8" cy="182.39" r="2.5" fill="none" stroke="#c2e8b0" stroke-width="0.95"/>
<circle cx="180.59" cy="180.46" r="2.5" fill="none" stroke="#c2e8b0" stroke-width="0.95"/>
<circle cx="183.11" cy="181.4" r="2.5" fill="none" stroke="#c2e8b0" stroke-width="0.95"/>
<circle cx="185.66" cy="181.42" r="2.5" fill="none" stroke="#c2e8b0" stroke-width="0.95"/>
<circle cx="188.47" cy="182.07" r="2.5" fill="none" stroke="#c2e8b0" stroke-width="0.95"/>
<circle cx="190.85" cy="182.15" r="2.5" fill="none" stroke="#c2e8b0" stroke-width="0.95"/>
<circle cx="193.88" cy="180.16" r="2.5" fill="none" stroke="#c2e8b0" stroke-width="0.95"/>
<circle cx="196.05" cy="177.88" r="2.5" fill="none" stroke="#c2e8b0" stroke-width="0.95"/>
<circle cx="199.09" cy="178.21" r="2.5" fill="none" stroke="#c2e8b0" stroke-width="0.95"/>
<circle cx="201.2" cy="176.47" r="2.5" fill="none" stroke="#c2e8b0" stroke-width="0.95"/>
<circle cx="204.27" cy="178.78" r="2.5" fill="none" stroke="#c2e8b0" stroke-width="0.95"/>
<circle cx="206.34" cy="178.32" r="2.5" fill="none" stroke="#c2e8b0" stroke-width="0.95"/>
<circle cx="208.9" cy="175.93" r="2.5" fill="none" stroke="#c2e8b0" stroke-width="0.95"/>
<circle cx="211.56" cy="174.59" r="2.5" fill="none" stroke="#c2e8b0" stroke-width="0.95"/>
<circle cx="214.52" cy="174.75" r="2.5" fill="none" stroke="#c2e8b0" stroke-width="0.95"/>
<circle cx="216.84" cy="173.03" r="2.5" fill="none" stroke="#c2e8b0" stroke-width="0.95"/>
<circle cx="219.47" cy="175.03" r="2.5" fill="none" stroke="#c2e8b0" stroke-width="0.95"/>
<circle cx="222.3" cy="174.76" r="2.5" fill="none" stroke="#c2e8b0" stroke-width="0.95"/>
<circle cx="224.52" cy="171.82" r="2.5" fill="none" stroke="#c2e8b0" stroke-width="0.95"/>
<circle cx="227.42" cy="171.97" r="2.5" fill="none" stroke="#c2e8b0" stroke-width="0.95"/>
<circle cx="229.94" cy="172.79" r="2.5" fill="none" stroke="#c2e8b0" stroke-width="0.95"/>
<circle cx="232.4" cy="173" r="2.5" fill="none" stroke="#c2e8b0" stroke-width="0.95"/>
<circle cx="235.45" cy="172.82" r="2.5" fill="none" stroke="#c2e8b0" stroke-width="0.95"/>
<circle cx="237.72" cy="171.11" r="2.5" fill="none" stroke="#c2e8b0" stroke-width="0.95"/>
<circle cx="240.27" cy="170.12" r="2.5" fill="none" stroke="#c2e8b0" stroke-width="0.95"/>
<circle cx="243.12" cy="169.07" r="2.5" fill="none" stroke="#c2e8b0" stroke-width="0.95"/>
<circle cx="245.81" cy="168.32" r="2.5" fill="none" stroke="#c2e8b0" stroke-width="0.95"/>
<circle cx="248.04" cy="169.1" r="2.5" fill="none" stroke="#c2e8b0" stroke-width="0.95"/>
<circle cx="250.58" cy="166.36" r="2.5" fill="none" stroke="#c2e8b0" stroke-width="0.95"/>
<circle cx="253.68" cy="166.22" r="2.5" fill="none" stroke="#c2e8b0" stroke-width="0.95"/>
<circle cx="255.96" cy="164.79" r="2.5" fill="none" stroke="#c2e8b0" stroke-width="0.95"/>
<circle cx="258.62" cy="159.86" r="2.5" fill="none" stroke="#c2e8b0" stroke-width="0.95"/>
<circle cx="261.17" cy="160.69" r="2.5" fill="none" stroke="#c2e8b0" stroke-width="0.95"/>
<circle cx="264" cy="159.67" r="2.5" fill="none" stroke="#c2e8b0" stroke-width="0.95"/>
<circle cx="266.36" cy="159.78" r="2.5" fill="none" stroke="#c2e8b0" stroke-width="0.95"/>
<circle cx="269.15" cy="157.75" r="2.5" fill="none" stroke="#c2e8b0" stroke-width="0.95"/>
<circle cx="271.61" cy="151.71" r="2.5" fill="none" stroke="#c2e8b0" stroke-width="0.95"/>
<circle cx="273.95" cy="150.16" r="2.5" fill="none" stroke="#c2e8b0" stroke-width="0.95"/>
<circle cx="276.81" cy="149.24" r="2.5" fill="none" stroke="#c2e8b0" stroke-width="0.95"/>
<circle cx="279.61" cy="146.56" r="2.5" fill="none" stroke="#c2e8b0" stroke-width="0.95"/>
<circle cx="282.02" cy="143.96" r="2.5" fill="none" stroke="#c2e8b0" stroke-width="0.95"/>
<circle cx="284.54" cy="141.37" r="2.5" fill="none" stroke="#c2e8b0" stroke-width="0.95"/>
<circle cx="286.92" cy="141.47" r="2.5" fill="none" stroke="#c2e8b0" stroke-width="0.95"/>
<circle cx="289.92" cy="138.27" r="2.5" fill="none" stroke="#c2e8b0" stroke-width="0.95"/>
<circle cx="292.34" cy="140.36" r="2.5" fill="none" stroke="#c2e8b0" stroke-width="0.95"/>
<circle cx="294.89" cy="137.69" r="2.5" fill="none" stroke="#c2e8b0" stroke-width="0.95"/>
<circle cx="297.52" cy="136.31" r="2.5" fill="none" stroke="#c2e8b0" stroke-width="0.95"/>
<circle cx="300.15" cy="134.77" r="2.5" fill="none" stroke="#c2e8b0" stroke-width="0.95"/>
<circle cx="302.7" cy="129.87" r="2.5" fill="none" stroke="#c2e8b0" stroke-width="0.95"/>
<circle cx="305.28" cy="128.95" r="2.5" fill="none" stroke="#c2e8b0" stroke-width="0.95"/>
<circle cx="307.98" cy="129.91" r="2.5" fill="none" stroke="#c2e8b0" stroke-width="0.95"/>
<circle cx="310.33" cy="127.04" r="2.5" fill="none" stroke="#c2e8b0" stroke-width="0.95"/>
<circle cx="313.04" cy="125.56" r="2.5" fill="none" stroke="#c2e8b0" stroke-width="0.95"/>
<circle cx="315.76" cy="124.63" r="2.5" fill="none" stroke="#c2e8b0" stroke-width="0.95"/>
<circle cx="68.75" cy="168.88" r="2.5" fill="none" stroke="#fec979" stroke-width="0.95"/>
<circle cx="71.33" cy="166.65" r="2.5" fill="none" stroke="#fec979" stroke-width="0.95"/>
<circle cx="74.28" cy="169.14" r="2.5" fill="none" stroke="#fec979" stroke-width="0.95"/>
<circle cx="76.46" cy="170.12" r="2.5" fill="none" stroke="#fec979" stroke-width="0.95"/>
<circle cx="79.13" cy="170.12" r="2.5" fill="none" stroke="#fec979" stroke-width="0.95"/>
<circle cx="81.59" cy="172.69" r="2.5" fill="none" stroke="#fec979" stroke-width="0.95"/>
<circle cx="84.3" cy="170.99" r="2.5" fill="none" stroke="#fec979" stroke-width="0.95"/>
<circle cx="87.05" cy="173.82" r="2.5" fill="none" stroke="#fec979" stroke-width="0.95"/>
<circle cx="89.42" cy="174.47" r="2.5" fill="none" stroke="#fec979" stroke-width="0.95"/>
<circle cx="92.16" cy="175.33" r="2.5" fill="none" stroke="#fec979" stroke-width="0.95"/>
<circle cx="94.87" cy="177.78" r="2.5" fill="none" stroke="#fec979" stroke-width="0.95"/>
<circle cx="97.33" cy="173.58" r="2.5" fill="none" stroke="#fec979" stroke-width="0.95"/>
<circle cx="100.15" cy="171.63" r="2.5" fill="none" stroke="#fec979" stroke-width="0.95"/>
<circle cx="102.61" cy="173.7" r="2.5" fill="none" stroke="#fec979" stroke-width="0.95"/>
<circle cx="105.1" cy="175.32" r="2.5" fill="none" stroke="#fec979" stroke-width="0.95"/>
<circle cx="107.93" cy="178.07" r="2.5" fill="none" stroke="#fec979" stroke-width="0.95"/>
<circle cx="110.43" cy="180.14" r="2.5" fill="none" stroke="#fec979" stroke-width="0.95"/>
<circle cx="112.97" cy="181.17" r="2.5" fill="none" stroke="#fec979" stroke-width="0.95"/>
<circle cx="115.4" cy="182.39" r="2.5" fill="none" stroke="#fec979" stroke-width="0.95"/>
<circle cx="118.49" cy="182.29" r="2.5" fill="none" stroke="#fec979" stroke-width="0.95"/>
<circle cx="120.6" cy="184.59" r="2.5" fill="none" stroke="#fec979" stroke-width="0.95"/>
<circle cx="123.33" cy="186.01" r="2.5" fill="none" stroke="#fec979" stroke-width="0.95"/>
<circle cx="126.05" cy="184.41" r="2.5" fill="none" stroke="#fec979" stroke-width="0.95"/>
<circle cx="128.86" cy="185.39" r="2.5" fill="none" stroke="#fec979" stroke-width="0.95"/>
<circle cx="131.08" cy="186.05" r="2.5" fill="none" stroke="#fec979" stroke-width="0.95"/>
<circle cx="133.57" cy="188.48" r="2.5" fill="none" stroke="#fec979" stroke-width="0.95"/>
<circle cx="136.52" cy="189.56" r="2.5" fill="none" stroke="#fec979" stroke-width="0.95"/>
<circle cx="139.27" cy="188.38" r="2.5" fill="none" stroke="#fec979" stroke-width="0.95"/>
<circle cx="141.57" cy="190.65" r="2.5" fill="none" stroke="#fec979" stroke-width="0.95"/>
<circle cx="144.5" cy="189.28" r="2.5" fill="none" stroke="#fec979" stroke-width="0.95"/>
<circle cx="146.69" cy="190.93" r="2.5" fill="none" stroke="#fec979" stroke-width="0.95"/>
<circle cx="149.63" cy="193.38" r="2.5" fill="none" stroke="#fec979" stroke-width="0.95"/>
<circle cx="151.7" cy="194.71" r="2.5" fill="none" stroke="#fec979" stroke-width="0.95"/>
<circle cx="154.71" cy="195.64" r="2.5" fill="none" stroke="#fec979" stroke-width="0.95"/>
<circle cx="157.43" cy="194.62" r="2.5" fill="none" stroke="#fec979" stroke-width="0.95"/>
<circle cx="159.67" cy="193.92" r="2.5" fill="none" stroke="#fec979" stroke-width="0.95"/>
<circle cx="162.61" cy="197.39" r="2.5" fill="none" stroke="#fec979" stroke-width="0.95"/>
<circle cx="165.06" cy="198.09" r="2.5" fill="none" stroke="#fec979" stroke-width="0.95"/>
<circle cx="167.49" cy="200.43" r="2.5" fill="none" stroke="#fec979" stroke-width="0.95"/>
<circle cx="169.93" cy="201.99" r="2.5" fill="none" stroke="#fec979" stroke-width="0.95"/>
<circle cx="172.9" cy="203.81" r="2.5" fill="none" stroke="#fec979" stroke-width="0.95"/>
<circle cx="175.33" cy="204.63" r="2.5" fill="none" stroke="#fec979" stroke-width="0.95"/>
<circle cx="178.03" cy="204.7" r="2.5" fill="none" stroke="#fec979" stroke-width="0.95"/>
<circle cx="180.42" cy="203.15" r="2.5" fill="none" stroke="#fec979" stroke-width="0.95"/>
<circle cx="182.91" cy="205.53" r="2.5" fill="none" stroke="#fec979" stroke-width="0.95"/>
<circle cx="185.56" cy="205.15" r="2.5" fill="none" stroke="#fec979" stroke-width="0.95"/>
<circle cx="188.48" cy="207.24" r="2.5" fill="none" stroke="#fec979" stroke-width="0.95"/>
<circle cx="190.78" cy="210.08" r="2.5" fill="none" stroke="#fec979" stroke-width="0.95"/>
<circle cx="193.48" cy="207.45" r="2.5" fill="none" stroke="#fec979" stroke-width="0.95"/>
<circle cx="196.26" cy="205.09" r="2.5" fill="none" stroke="#fec979" stroke-width="0.95"/>
<circle cx="198.66" cy="208.39" r="2.5" fill="none" stroke="#fec979" stroke-width="0.95"/>
<circle cx="201.38" cy="206.96" r="2.5" fill="none" stroke="#fec979" stroke-width="0.95"/>
<circle cx="203.95" cy="206.58" r="2.5" fill="none" stroke="#fec979" stroke-width="0.95"/>
<circle cx="206.77" cy="204.5" r="2.5" fill="none" stroke="#fec979" stroke-width="0.95"/>
<circle cx="209.14" cy="204.64" r="2.5" fill="none" stroke="#fec979" stroke-width="0.95"/>
<circle cx="211.67" cy="203.26" r="2.5" fill="none" stroke="#fec979" stroke-width="0.95"/>
<circle cx="214.69" cy="201.85" r="2.5" fill="none" stroke="#fec979" stroke-width="0.95"/>
<circle cx="216.8" cy="203.73" r="2.5" fill="none" stroke="#fec979" stroke-width="0.95"/>
<circle cx="219.68" cy="200.69" r="2.5" fill="none" stroke="#fec979" stroke-width="0.95"/>
<circle cx="222.27" cy="200.33" r="2.5" fill="none" stroke="#fec979" stroke-width="0.95"/>
<circle cx="224.71" cy="200.16" r="2.5" fill="none" stroke="#fec979" stroke-width="0.95"/>
<circle cx="227.55" cy="202.82" r="2.5" fill="none" stroke="#fec979" stroke-width="0.95"/>
<circle cx="230.15" cy="201.33" r="2.5" fill="none" stroke="#fec979" stroke-width="0.95"/>
<circle cx="232.59" cy="198.96" r="2.5" fill="none" stroke="#fec979" stroke-width="0.95"/>
<circle cx="235.09" cy="198.4" r="2.5" fill="none" stroke="#fec979" stroke-width="0.95"/>
<circle cx="237.57" cy="197.24" r="2.5" fill="none" stroke="#fec979" stroke-width="0.95"/>
<circle cx="240.62" cy="196.47" r="2.5" fill="none" stroke="#fec979" stroke-width="0.95"/>
<circle cx="243.29" cy="192.09" r="2.5" fill="none" stroke="#fec979" stroke-width="0.95"/>
<circle cx="245.47" cy="195.51" r="2.5" fill="none" stroke="#fec979" stroke-width="0.95"/>
<circle cx="248.09" cy="193.9" r="2.5" fill="none" stroke="#fec979" stroke-width="0.95"/>
<circle cx="250.89" cy="193.34" r="2.5" fill="none" stroke="#fec979" stroke-width="0.95"/>
<circle cx="253.57" cy="192.63" r="2.5" fill="none" stroke="#fec979" stroke-width="0.95"/>
<circle cx="256.21" cy="192.98" r="2.5" fill="none" stroke="#fec979" stroke-width="0.95"/>
<circle cx="258.76" cy="192.81" r="2.5" fill="none" stroke="#fec979" stroke-width="0.95"/>
<circle cx="261.31" cy="189.63" r="2.5" fill="none" stroke="#fec979" stroke-width="0.95"/>
<circle cx="263.87" cy="188.98" r="2.5" fill="none" stroke="#fec979" stroke-width="0.95"/>
<circle cx="266.11" cy="185.58" r="2.5" fill="none" stroke="#fec979" stroke-width="0.95"/>
<circle cx="268.99" cy="184.91" r="2.5" fill="none" stroke="#fec979" stroke-width="0.95"/>
<circle cx="271.73" cy="183.52" r="2.5" fill="none" stroke="#fec979" stroke-width="0.95"/>
<circle cx="274.08" cy="177.69" r="2.5" fill="none" stroke="#fec979" stroke-width="0.95"/>
<circle cx="276.65" cy="176.4" r="2.5" fill="none" stroke="#fec979" stroke-width="0.95"/>
<circle cx="279.35" cy="174.44" r="2.5" fill="none" stroke="#fec979" stroke-width="0.95"/>
<circle cx="282.03" cy="168.84" r="2.5" fill="none" stroke="#fec979" stroke-width="0.95"/>
<circle cx="284.31" cy="168.19" r="2.5" fill="none" stroke="#fec979" stroke-width="0.95"/>
<circle cx="287.35" cy="168.51" r="2.5" fill="none" stroke="#fec979" stroke-width="0.95"/>
<circle cx="289.93" cy="163.18" r="2.5" fill="none" stroke="#fec979" stroke-width="0.95"/>
<circle cx="292.23" cy="163.61" r="2.5" fill="none" stroke="#fec979" stroke-width="0.95"/>
<circle cx="294.85" cy="161.99" r="2.5" fill="none" stroke="#fec979" stroke-width="0.95"/>
<circle cx="297.4" cy="161.7" r="2.5" fill="none" stroke="#fec979" stroke-width="0.95"/>
<circle cx="300.15" cy="156.32" r="2.5" fill="none" stroke="#fec979" stroke-width="0.95"/>
<circle cx="303.08" cy="157.74" r="2.5" fill="none" stroke="#fec979" stroke-width="0.95"/>
<circle cx="305.33" cy="154.69" r="2.5" fill="none" stroke="#fec979" stroke-width="0.95"/>
<circle cx="308.26" cy="153.73" r="2.5" fill="none" stroke="#fec979" stroke-width="0.95"/>
<circle cx="310.41" cy="151.09" r="2.5" fill="none" stroke="#fec979" stroke-width="0.95"/>
<circle cx="313.04" cy="147.07" r="2.5" fill="none" stroke="#fec979" stroke-width="0.95"/>
<circle cx="315.8" cy="145.04" r="2.5" fill="none" stroke="#fec979" stroke-width="0.95"/>
<circle cx="69.09" cy="188.58" r="2.5" fill="none" stroke="#fb954f" stroke-width="0.95"/>
<circle cx="71.61" cy="184.68" r="2.5" fill="none" stroke="#fb954f" stroke-width="0.95"/>
<circle cx="74.28" cy="184.21" r="2.5" fill="none" stroke="#fb954f" stroke-width="0.95"/>
<circle cx="76.53" cy="183.37" r="2.5" fill="none" stroke="#fb954f" stroke-width="0.95"/>
<circle cx="79.09" cy="185.32" r="2.5" fill="none" stroke="#fb954f" stroke-width="0.95"/>
<circle cx="81.51" cy="187.06" r="2.5" fill="none" stroke="#fb954f" stroke-width="0.95"/>
<circle cx="84.15" cy="189.42" r="2.5" fill="none" stroke="#fb954f" stroke-width="0.95"/>
<circle cx="87.27" cy="189.39" r="2.5" fill="none" stroke="#fb954f" stroke-width="0.95"/>
<circle cx="89.65" cy="188.53" r="2.5" fill="none" stroke="#fb954f" stroke-width="0.95"/>
<circle cx="92.17" cy="191.68" r="2.5" fill="none" stroke="#fb954f" stroke-width="0.95"/>
<circle cx="94.59" cy="192.83" r="2.5" fill="none" stroke="#fb954f" stroke-width="0.95"/>
<circle cx="97.66" cy="191.83" r="2.5" fill="none" stroke="#fb954f" stroke-width="0.95"/>
<circle cx="99.72" cy="191.89" r="2.5" fill="none" stroke="#fb954f" stroke-width="0.95"/>
<circle cx="102.69" cy="193.74" r="2.5" fill="none" stroke="#fb954f" stroke-width="0.95"/>
<circle cx="105.26" cy="195.85" r="2.5" fill="none" stroke="#fb954f" stroke-width="0.95"/>
<circle cx="107.94" cy="194.88" r="2.5" fill="none" stroke="#fb954f" stroke-width="0.95"/>
<circle cx="110.55" cy="194.43" r="2.5" fill="none" stroke="#fb954f" stroke-width="0.95"/>
<circle cx="113.1" cy="196.68" r="2.5" fill="none" stroke="#fb954f" stroke-width="0.95"/>
<circle cx="115.63" cy="198.25" r="2.5" fill="none" stroke="#fb954f" stroke-width="0.95"/>
<circle cx="118.16" cy="197.04" r="2.5" fill="none" stroke="#fb954f" stroke-width="0.95"/>
<circle cx="120.98" cy="202.32" r="2.5" fill="none" stroke="#fb954f" stroke-width="0.95"/>
<circle cx="123.18" cy="201.77" r="2.5" fill="none" stroke="#fb954f" stroke-width="0.95"/>
<circle cx="125.87" cy="204.44" r="2.5" fill="none" stroke="#fb954f" stroke-width="0.95"/>
<circle cx="128.77" cy="204.39" r="2.5" fill="none" stroke="#fb954f" stroke-width="0.95"/>
<circle cx="131.43" cy="204.32" r="2.5" fill="none" stroke="#fb954f" stroke-width="0.95"/>
<circle cx="133.9" cy="208.97" r="2.5" fill="none" stroke="#fb954f" stroke-width="0.95"/>
<circle cx="136.13" cy="208.04" r="2.5" fill="none" stroke="#fb954f" stroke-width="0.95"/>
<circle cx="139.2" cy="210.42" r="2.5" fill="none" stroke="#fb954f" stroke-width="0.95"/>
<circle cx="141.88" cy="212.96" r="2.5" fill="none" stroke="#fb954f" stroke-width="0.95"/>
<circle cx="144.18" cy="214.93" r="2.5" fill="none" stroke="#fb954f" stroke-width="0.95"/>
<circle cx="146.73" cy="214.3" r="2.5" fill="none" stroke="#fb954f" stroke-width="0.95"/>
<circle cx="149.31" cy="214.26" r="2.5" fill="none" stroke="#fb954f" stroke-width="0.95"/>
<circle cx="152.06" cy="217.83" r="2.5" fill="none" stroke="#fb954f" stroke-width="0.95"/>
<circle cx="154.4" cy="219.28" r="2.5" fill="none" stroke="#fb954f" stroke-width="0.95"/>
<circle cx="156.98" cy="221.97" r="2.5" fill="none" stroke="#fb954f" stroke-width="0.95"/>
<circle cx="160.09" cy="219.36" r="2.5" fill="none" stroke="#fb954f" stroke-width="0.95"/>
<circle cx="162.4" cy="220.82" r="2.5" fill="none" stroke="#fb954f" stroke-width="0.95"/>
<circle cx="165.01" cy="221.79" r="2.5" fill="none" stroke="#fb954f" stroke-width="0.95"/>
<circle cx="167.48" cy="222.59" r="2.5" fill="none" stroke="#fb954f" stroke-width="0.95"/>
<circle cx="169.93" cy="227.19" r="2.5" fill="none" stroke="#fb954f" stroke-width="0.95"/>
<circle cx="172.54" cy="228.96" r="2.5" fill="none" stroke="#fb954f" stroke-width="0.95"/>
<circle cx="175.14" cy="226.47" r="2.5" fill="none" stroke="#fb954f" stroke-width="0.95"/>
<circle cx="178.12" cy="226.94" r="2.5" fill="none" stroke="#fb954f" stroke-width="0.95"/>
<circle cx="180.77" cy="226.25" r="2.5" fill="none" stroke="#fb954f" stroke-width="0.95"/>
<circle cx="183.47" cy="230.61" r="2.5" fill="none" stroke="#fb954f" stroke-width="0.95"/>
<circle cx="186.09" cy="227.97" r="2.5" fill="none" stroke="#fb954f" stroke-width="0.95"/>
<circle cx="188.19" cy="229.71" r="2.5" fill="none" stroke="#fb954f" stroke-width="0.95"/>
<circle cx="190.71" cy="227.07" r="2.5" fill="none" stroke="#fb954f" stroke-width="0.95"/>
<circle cx="193.71" cy="228.35" r="2.5" fill="none" stroke="#fb954f" stroke-width="0.95"/>
<circle cx="196.08" cy="227.42" r="2.5" fill="none" stroke="#fb954f" stroke-width="0.95"/>
<circle cx="199.05" cy="224.97" r="2.5" fill="none" stroke="#fb954f" stroke-width="0.95"/>
<circle cx="201.39" cy="228.32" r="2.5" fill="none" stroke="#fb954f" stroke-width="0.95"/>
<circle cx="203.96" cy="229.06" r="2.5" fill="none" stroke="#fb954f" stroke-width="0.95"/>
<circle cx="206.55" cy="225.41" r="2.5" fill="none" stroke="#fb954f" stroke-width="0.95"/>
<circle cx="209.08" cy="227.32" r="2.5" fill="none" stroke="#fb954f" stroke-width="0.95"/>
<circle cx="211.84" cy="226.42" r="2.5" fill="none" stroke="#fb954f" stroke-width="0.95"/>
<circle cx="214.21" cy="224.82" r="2.5" fill="none" stroke="#fb954f" stroke-width="0.95"/>
<circle cx="217.29" cy="225.66" r="2.5" fill="none" stroke="#fb954f" stroke-width="0.95"/>
<circle cx="219.78" cy="222.12" r="2.5" fill="none" stroke="#fb954f" stroke-width="0.95"/>
<circle cx="222.41" cy="223.9" r="2.5" fill="none" stroke="#fb954f" stroke-width="0.95"/>
<circle cx="225.07" cy="223.65" r="2.5" fill="none" stroke="#fb954f" stroke-width="0.95"/>
<circle cx="227.51" cy="219.86" r="2.5" fill="none" stroke="#fb954f" stroke-width="0.95"/>
<circle cx="230.24" cy="221.75" r="2.5" fill="none" stroke="#fb954f" stroke-width="0.95"/>
<circle cx="232.74" cy="225.65" r="2.5" fill="none" stroke="#fb954f" stroke-width="0.95"/>
<circle cx="235.18" cy="225.22" r="2.5" fill="none" stroke="#fb954f" stroke-width="0.95"/>
<circle cx="237.51" cy="224.25" r="2.5" fill="none" stroke="#fb954f" stroke-width="0.95"/>
<circle cx="240.41" cy="222.73" r="2.5" fill="none" stroke="#fb954f" stroke-width="0.95"/>
<circle cx="243.02" cy="224.05" r="2.5" fill="none" stroke="#fb954f" stroke-width="0.95"/>
<circle cx="245.74" cy="224.6" r="2.5" fill="none" stroke="#fb954f" stroke-width="0.95"/>
<circle cx="248.42" cy="227.18" r="2.5" fill="none" stroke="#fb954f" stroke-width="0.95"/>
<circle cx="250.88" cy="224.15" r="2.5" fill="none" stroke="#fb954f" stroke-width="0.95"/>
<circle cx="253.15" cy="225.59" r="2.5" fill="none" stroke="#fb954f" stroke-width="0.95"/>
<circle cx="255.75" cy="220.91" r="2.5" fill="none" stroke="#fb954f" stroke-width="0.95"/>
<circle cx="258.82" cy="220.18" r="2.5" fill="none" stroke="#fb954f" stroke-width="0.95"/>
<circle cx="261.43" cy="216.1" r="2.5" fill="none" stroke="#fb954f" stroke-width="0.95"/>
<circle cx="263.74" cy="213.45" r="2.5" fill="none" stroke="#fb954f" stroke-width="0.95"/>
<circle cx="266.14" cy="212.63" r="2.5" fill="none" stroke="#fb954f" stroke-width="0.95"/>
<circle cx="268.76" cy="210.01" r="2.5" fill="none" stroke="#fb954f" stroke-width="0.95"/>
<circle cx="271.37" cy="208.54" r="2.5" fill="none" stroke="#fb954f" stroke-width="0.95"/>
<circle cx="274.45" cy="208.1" r="2.5" fill="none" stroke="#fb954f" stroke-width="0.95"/>
<circle cx="276.74" cy="206.84" r="2.5" fill="none" stroke="#fb954f" stroke-width="0.95"/>
<circle cx="279.38" cy="203.48" r="2.5" fill="none" stroke="#fb954f" stroke-width="0.95"/>
<circle cx="282.19" cy="199.68" r="2.5" fill="none" stroke="#fb954f" stroke-width="0.95"/>
<circle cx="284.45" cy="197.02" r="2.5" fill="none" stroke="#fb954f" stroke-width="0.95"/>
<circle cx="287.22" cy="195.63" r="2.5" fill="none" stroke="#fb954f" stroke-width="0.95"/>
<circle cx="289.85" cy="193.33" r="2.5" fill="none" stroke="#fb954f" stroke-width="0.95"/>
<circle cx="292.35" cy="188.15" r="2.5" fill="none" stroke="#fb954f" stroke-width="0.95"/>
<circle cx="294.77" cy="185.42" r="2.5" fill="none" stroke="#fb954f" stroke-width="0.95"/>
<circle cx="297.55" cy="182.05" r="2.5" fill="none" stroke="#fb954f" stroke-width="0.95"/>
<circle cx="299.97" cy="181" r="2.5" fill="none" stroke="#fb954f" stroke-width="0.95"/>
<circle cx="302.69" cy="180.3" r="2.5" fill="none" stroke="#fb954f" stroke-width="0.95"/>
<circle cx="305.34" cy="173.18" r="2.5" fill="none" stroke="#fb954f" stroke-width="0.95"/>
<circle cx="307.81" cy="175.53" r="2.5" fill="none" stroke="#fb954f" stroke-width="0.95"/>
<circle cx="310.9" cy="172.28" r="2.5" fill="none" stroke="#fb954f" stroke-width="0.95"/>
<circle cx="313.31" cy="167.3" r="2.5" fill="none" stroke="#fb954f" stroke-width="0.95"/>
<circle cx="316.06" cy="167.84" r="2.5" fill="none" stroke="#fb954f" stroke-width="0.95"/>
<circle cx="68.9" cy="202.3" r="2.5" fill="none" stroke="#f55a43" stroke-width="0.95"/>
<circle cx="71.16" cy="204.18" r="2.5" fill="none" stroke="#f55a43" stroke-width="0.95"/>
<circle cx="73.97" cy="202.19" r="2.5" fill="none" stroke="#f55a43" stroke-width="0.95"/>
<circle cx="76.54" cy="202.73" r="2.5" fill="none" stroke="#f55a43" stroke-width="0.95"/>
<circle cx="79.08" cy="200.43" r="2.5" fill="none" stroke="#f55a43" stroke-width="0.95"/>
<circle cx="81.61" cy="205.67" r="2.5" fill="none" stroke="#f55a43" stroke-width="0.95"/>
<circle cx="84.62" cy="206.73" r="2.5" fill="none" stroke="#f55a43" stroke-width="0.95"/>
<circle cx="87.15" cy="210.44" r="2.5" fill="none" stroke="#f55a43" stroke-width="0.95"/>
<circle cx="89.64" cy="206.6" r="2.5" fill="none" stroke="#f55a43" stroke-width="0.95"/>
<circle cx="92.06" cy="211.1" r="2.5" fill="none" stroke="#f55a43" stroke-width="0.95"/>
<circle cx="94.88" cy="210.81" r="2.5" fill="none" stroke="#f55a43" stroke-width="0.95"/>
<circle cx="97.35" cy="210.84" r="2.5" fill="none" stroke="#f55a43" stroke-width="0.95"/>
<circle cx="99.7" cy="209.43" r="2.5" fill="none" stroke="#f55a43" stroke-width="0.95"/>
<circle cx="102.67" cy="211.52" r="2.5" fill="none" stroke="#f55a43" stroke-width="0.95"/>
<circle cx="105.3" cy="213.39" r="2.5" fill="none" stroke="#f55a43" stroke-width="0.95"/>
<circle cx="108.08" cy="213.33" r="2.5" fill="none" stroke="#f55a43" stroke-width="0.95"/>
<circle cx="110.6" cy="213.99" r="2.5" fill="none" stroke="#f55a43" stroke-width="0.95"/>
<circle cx="112.75" cy="215.7" r="2.5" fill="none" stroke="#f55a43" stroke-width="0.95"/>
<circle cx="115.49" cy="217.19" r="2.5" fill="none" stroke="#f55a43" stroke-width="0.95"/>
<circle cx="117.93" cy="219.93" r="2.5" fill="none" stroke="#f55a43" stroke-width="0.95"/>
<circle cx="120.54" cy="220.52" r="2.5" fill="none" stroke="#f55a43" stroke-width="0.95"/>
<circle cx="123.38" cy="220.41" r="2.5" fill="none" stroke="#f55a43" stroke-width="0.95"/>
<circle cx="125.83" cy="225.52" r="2.5" fill="none" stroke="#f55a43" stroke-width="0.95"/>
<circle cx="128.34" cy="221.99" r="2.5" fill="none" stroke="#f55a43" stroke-width="0.95"/>
<circle cx="131.28" cy="224.53" r="2.5" fill="none" stroke="#f55a43" stroke-width="0.95"/>
<circle cx="134.05" cy="223.43" r="2.5" fill="none" stroke="#f55a43" stroke-width="0.95"/>
<circle cx="136.6" cy="225.06" r="2.5" fill="none" stroke="#f55a43" stroke-width="0.95"/>
<circle cx="138.73" cy="225.28" r="2.5" fill="none" stroke="#f55a43" stroke-width="0.95"/>
<circle cx="141.48" cy="228.49" r="2.5" fill="none" stroke="#f55a43" stroke-width="0.95"/>
<circle cx="143.92" cy="229.82" r="2.5" fill="none" stroke="#f55a43" stroke-width="0.95"/>
<circle cx="146.75" cy="230.89" r="2.5" fill="none" stroke="#f55a43" stroke-width="0.95"/>
<circle cx="149.66" cy="233.75" r="2.5" fill="none" stroke="#f55a43" stroke-width="0.95"/>
<circle cx="151.82" cy="235.32" r="2.5" fill="none" stroke="#f55a43" stroke-width="0.95"/>
<circle cx="154.74" cy="233.95" r="2.5" fill="none" stroke="#f55a43" stroke-width="0.95"/>
<circle cx="157.2" cy="234.78" r="2.5" fill="none" stroke="#f55a43" stroke-width="0.95"/>
<circle cx="159.81" cy="234.52" r="2.5" fill="none" stroke="#f55a43" stroke-width="0.95"/>
<circle cx="162.6" cy="238.57" r="2.5" fill="none" stroke="#f55a43" stroke-width="0.95"/>
<circle cx="164.89" cy="241.32" r="2.5" fill="none" stroke="#f55a43" stroke-width="0.95"/>
<circle cx="167.5" cy="241.88" r="2.5" fill="none" stroke="#f55a43" stroke-width="0.95"/>
<circle cx="170.34" cy="245.6" r="2.5" fill="none" stroke="#f55a43" stroke-width="0.95"/>
<circle cx="172.58" cy="244.67" r="2.5" fill="none" stroke="#f55a43" stroke-width="0.95"/>
<circle cx="175.16" cy="245.22" r="2.5" fill="none" stroke="#f55a43" stroke-width="0.95"/>
<circle cx="177.95" cy="243.37" r="2.5" fill="none" stroke="#f55a43" stroke-width="0.95"/>
<circle cx="180.54" cy="242.68" r="2.5" fill="none" stroke="#f55a43" stroke-width="0.95"/>
<circle cx="183.08" cy="243.6" r="2.5" fill="none" stroke="#f55a43" stroke-width="0.95"/>
<circle cx="185.65" cy="244.66" r="2.5" fill="none" stroke="#f55a43" stroke-width="0.95"/>
<circle cx="188.63" cy="245.32" r="2.5" fill="none" stroke="#f55a43" stroke-width="0.95"/>
<circle cx="190.95" cy="243.43" r="2.5" fill="none" stroke="#f55a43" stroke-width="0.95"/>
<circle cx="193.49" cy="242.7" r="2.5" fill="none" stroke="#f55a43" stroke-width="0.95"/>
<circle cx="196.37" cy="242.79" r="2.5" fill="none" stroke="#f55a43" stroke-width="0.95"/>
<circle cx="199.01" cy="239.16" r="2.5" fill="none" stroke="#f55a43" stroke-width="0.95"/>
<circle cx="201.52" cy="242.38" r="2.5" fill="none" stroke="#f55a43" stroke-width="0.95"/>
<circle cx="204.28" cy="240.93" r="2.5" fill="none" stroke="#f55a43" stroke-width="0.95"/>
<circle cx="206.37" cy="240.66" r="2.5" fill="none" stroke="#f55a43" stroke-width="0.95"/>
<circle cx="209.17" cy="239.93" r="2.5" fill="none" stroke="#f55a43" stroke-width="0.95"/>
<circle cx="211.99" cy="241.53" r="2.5" fill="none" stroke="#f55a43" stroke-width="0.95"/>
<circle cx="214.68" cy="239.05" r="2.5" fill="none" stroke="#f55a43" stroke-width="0.95"/>
<circle cx="216.82" cy="240.33" r="2.5" fill="none" stroke="#f55a43" stroke-width="0.95"/>
<circle cx="219.75" cy="237.56" r="2.5" fill="none" stroke="#f55a43" stroke-width="0.95"/>
<circle cx="222.03" cy="234.71" r="2.5" fill="none" stroke="#f55a43" stroke-width="0.95"/>
<circle cx="224.74" cy="237.98" r="2.5" fill="none" stroke="#f55a43" stroke-width="0.95"/>
<circle cx="227.55" cy="236.01" r="2.5" fill="none" stroke="#f55a43" stroke-width="0.95"/>
<circle cx="230.16" cy="236" r="2.5" fill="none" stroke="#f55a43" stroke-width="0.95"/>
<circle cx="232.33" cy="237.45" r="2.5" fill="none" stroke="#f55a43" stroke-width="0.95"/>
<circle cx="235.05" cy="238.8" r="2.5" fill="none" stroke="#f55a43" stroke-width="0.95"/>
<circle cx="238.08" cy="240" r="2.5" fill="none" stroke="#f55a43" stroke-width="0.95"/>
<circle cx="240.44" cy="241.11" r="2.5" fill="none" stroke="#f55a43" stroke-width="0.95"/>
<circle cx="243.05" cy="241.72" r="2.5" fill="none" stroke="#f55a43" stroke-width="0.95"/>
<circle cx="245.45" cy="241.07" r="2.5" fill="none" stroke="#f55a43" stroke-width="0.95"/>
<circle cx="248.17" cy="241.56" r="2.5" fill="none" stroke="#f55a43" stroke-width="0.95"/>
<circle cx="250.66" cy="242.81" r="2.5" fill="none" stroke="#f55a43" stroke-width="0.95"/>
<circle cx="253.18" cy="244.14" r="2.5" fill="none" stroke="#f55a43" stroke-width="0.95"/>
<circle cx="255.87" cy="243.97" r="2.5" fill="none" stroke="#f55a43" stroke-width="0.95"/>
<circle cx="258.63" cy="244.39" r="2.5" fill="none" stroke="#f55a43" stroke-width="0.95"/>
<circle cx="261.21" cy="239.13" r="2.5" fill="none" stroke="#f55a43" stroke-width="0.95"/>
<circle cx="263.81" cy="239.72" r="2.5" fill="none" stroke="#f55a43" stroke-width="0.95"/>
<circle cx="266.31" cy="238.09" r="2.5" fill="none" stroke="#f55a43" stroke-width="0.95"/>
<circle cx="268.96" cy="235.8" r="2.5" fill="none" stroke="#f55a43" stroke-width="0.95"/>
<circle cx="271.82" cy="233.03" r="2.5" fill="none" stroke="#f55a43" stroke-width="0.95"/>
<circle cx="274.45" cy="228.37" r="2.5" fill="none" stroke="#f55a43" stroke-width="0.95"/>
<circle cx="277.04" cy="224.7" r="2.5" fill="none" stroke="#f55a43" stroke-width="0.95"/>
<circle cx="279.24" cy="220.5" r="2.5" fill="none" stroke="#f55a43" stroke-width="0.95"/>
<circle cx="282.08" cy="219.14" r="2.5" fill="none" stroke="#f55a43" stroke-width="0.95"/>
<circle cx="284.76" cy="216.9" r="2.5" fill="none" stroke="#f55a43" stroke-width="0.95"/>
<circle cx="287.1" cy="214.6" r="2.5" fill="none" stroke="#f55a43" stroke-width="0.95"/>
<circle cx="289.79" cy="207.78" r="2.5" fill="none" stroke="#f55a43" stroke-width="0.95"/>
<circle cx="292.61" cy="204.23" r="2.5" fill="none" stroke="#f55a43" stroke-width="0.95"/>
<circle cx="295.12" cy="202.62" r="2.5" fill="none" stroke="#f55a43" stroke-width="0.95"/>
<circle cx="297.74" cy="200.05" r="2.5" fill="none" stroke="#f55a43" stroke-width="0.95"/>
<circle cx="299.95" cy="199.23" r="2.5" fill="none" stroke="#f55a43" stroke-width="0.95"/>
<circle cx="302.53" cy="193.47" r="2.5" fill="none" stroke="#f55a43" stroke-width="0.95"/>
<circle cx="305.51" cy="191.21" r="2.5" fill="none" stroke="#f55a43" stroke-width="0.95"/>
<circle cx="308.04" cy="186.95" r="2.5" fill="none" stroke="#f55a43" stroke-width="0.95"/>
<circle cx="310.4" cy="186.05" r="2.5" fill="none" stroke="#f55a43" stroke-width="0.95"/>
<circle cx="312.9" cy="184.62" r="2.5" fill="none" stroke="#f55a43" stroke-width="0.95"/>
<circle cx="315.64" cy="183.6" r="2.5" fill="none" stroke="#f55a43" stroke-width="0.95"/>
<circle cx="69" cy="232.78" r="2.5" fill="none" stroke="#d8204f" stroke-width="0.95"/>
<circle cx="71.25" cy="231.58" r="2.5" fill="none" stroke="#d8204f" stroke-width="0.95"/>
<circle cx="74.2" cy="231.17" r="2.5" fill="none" stroke="#d8204f" stroke-width="0.95"/>
<circle cx="76.65" cy="232.4" r="2.5" fill="none" stroke="#d8204f" stroke-width="0.95"/>
<circle cx="79.32" cy="233.88" r="2.5" fill="none" stroke="#d8204f" stroke-width="0.95"/>
<circle cx="81.68" cy="236.11" r="2.5" fill="none" stroke="#d8204f" stroke-width="0.95"/>
<circle cx="84.68" cy="235.34" r="2.5" fill="none" stroke="#d8204f" stroke-width="0.95"/>
<circle cx="87.09" cy="238.46" r="2.5" fill="none" stroke="#d8204f" stroke-width="0.95"/>
<circle cx="89.35" cy="238.49" r="2.5" fill="none" stroke="#d8204f" stroke-width="0.95"/>
<circle cx="92.38" cy="240.28" r="2.5" fill="none" stroke="#d8204f" stroke-width="0.95"/>
<circle cx="94.78" cy="240.34" r="2.5" fill="none" stroke="#d8204f" stroke-width="0.95"/>
<circle cx="97.6" cy="240.82" r="2.5" fill="none" stroke="#d8204f" stroke-width="0.95"/>
<circle cx="100.12" cy="238.4" r="2.5" fill="none" stroke="#d8204f" stroke-width="0.95"/>
<circle cx="102.88" cy="238.78" r="2.5" fill="none" stroke="#d8204f" stroke-width="0.95"/>
<circle cx="105.45" cy="240.61" r="2.5" fill="none" stroke="#d8204f" stroke-width="0.95"/>
<circle cx="107.9" cy="244.83" r="2.5" fill="none" stroke="#d8204f" stroke-width="0.95"/>
<circle cx="110.56" cy="245.35" r="2.5" fill="none" stroke="#d8204f" stroke-width="0.95"/>
<circle cx="112.74" cy="246.1" r="2.5" fill="none" stroke="#d8204f" stroke-width="0.95"/>
<circle cx="115.78" cy="248.27" r="2.5" fill="none" stroke="#d8204f" stroke-width="0.95"/>
<circle cx="118.34" cy="247.46" r="2.5" fill="none" stroke="#d8204f" stroke-width="0.95"/>
<circle cx="121.07" cy="250.25" r="2.5" fill="none" stroke="#d8204f" stroke-width="0.95"/>
<circle cx="123.55" cy="252.79" r="2.5" fill="none" stroke="#d8204f" stroke-width="0.95"/>
<circle cx="126.07" cy="250.42" r="2.5" fill="none" stroke="#d8204f" stroke-width="0.95"/>
<circle cx="128.77" cy="251.42" r="2.5" fill="none" stroke="#d8204f" stroke-width="0.95"/>
<circle cx="131.26" cy="248.69" r="2.5" fill="none" stroke="#d8204f" stroke-width="0.95"/>
<circle cx="133.79" cy="252.05" r="2.5" fill="none" stroke="#d8204f" stroke-width="0.95"/>
<circle cx="136.69" cy="252.37" r="2.5" fill="none" stroke="#d8204f" stroke-width="0.95"/>
<circle cx="139" cy="253.61" r="2.5" fill="none" stroke="#d8204f" stroke-width="0.95"/>
<circle cx="141.36" cy="254.15" r="2.5" fill="none" stroke="#d8204f" stroke-width="0.95"/>
<circle cx="143.93" cy="259.69" r="2.5" fill="none" stroke="#d8204f" stroke-width="0.95"/>
<circle cx="146.72" cy="256.3" r="2.5" fill="none" stroke="#d8204f" stroke-width="0.95"/>
<circle cx="149.37" cy="257.45" r="2.5" fill="none" stroke="#d8204f" stroke-width="0.95"/>
<circle cx="152.03" cy="259.55" r="2.5" fill="none" stroke="#d8204f" stroke-width="0.95"/>
<circle cx="154.34" cy="260.3" r="2.5" fill="none" stroke="#d8204f" stroke-width="0.95"/>
<circle cx="157.23" cy="260.3" r="2.5" fill="none" stroke="#d8204f" stroke-width="0.95"/>
<circle cx="160.08" cy="260.06" r="2.5" fill="none" stroke="#d8204f" stroke-width="0.95"/>
<circle cx="162.55" cy="258.86" r="2.5" fill="none" stroke="#d8204f" stroke-width="0.95"/>
<circle cx="165.12" cy="262.02" r="2.5" fill="none" stroke="#d8204f" stroke-width="0.95"/>
<circle cx="167.61" cy="262.14" r="2.5" fill="none" stroke="#d8204f" stroke-width="0.95"/>
<circle cx="170.43" cy="260.13" r="2.5" fill="none" stroke="#d8204f" stroke-width="0.95"/>
<circle cx="172.55" cy="263.65" r="2.5" fill="none" stroke="#d8204f" stroke-width="0.95"/>
<circle cx="175.57" cy="260.65" r="2.5" fill="none" stroke="#d8204f" stroke-width="0.95"/>
<circle cx="178.13" cy="263.02" r="2.5" fill="none" stroke="#d8204f" stroke-width="0.95"/>
<circle cx="180.53" cy="259.53" r="2.5" fill="none" stroke="#d8204f" stroke-width="0.95"/>
<circle cx="183.19" cy="259.5" r="2.5" fill="none" stroke="#d8204f" stroke-width="0.95"/>
<circle cx="185.59" cy="259.98" r="2.5" fill="none" stroke="#d8204f" stroke-width="0.95"/>
<circle cx="188.1" cy="260" r="2.5" fill="none" stroke="#d8204f" stroke-width="0.95"/>
<circle cx="190.9" cy="262.57" r="2.5" fill="none" stroke="#d8204f" stroke-width="0.95"/>
<circle cx="193.5" cy="258.65" r="2.5" fill="none" stroke="#d8204f" stroke-width="0.95"/>
<circle cx="196.21" cy="260.72" r="2.5" fill="none" stroke="#d8204f" stroke-width="0.95"/>
<circle cx="198.71" cy="258.16" r="2.5" fill="none" stroke="#d8204f" stroke-width="0.95"/>
<circle cx="201.63" cy="259.21" r="2.5" fill="none" stroke="#d8204f" stroke-width="0.95"/>
<circle cx="203.79" cy="257.39" r="2.5" fill="none" stroke="#d8204f" stroke-width="0.95"/>
<circle cx="206.79" cy="255.17" r="2.5" fill="none" stroke="#d8204f" stroke-width="0.95"/>
<circle cx="209.23" cy="257.9" r="2.5" fill="none" stroke="#d8204f" stroke-width="0.95"/>
<circle cx="211.63" cy="254.08" r="2.5" fill="none" stroke="#d8204f" stroke-width="0.95"/>
<circle cx="214.63" cy="254.77" r="2.5" fill="none" stroke="#d8204f" stroke-width="0.95"/>
<circle cx="217.03" cy="250.39" r="2.5" fill="none" stroke="#d8204f" stroke-width="0.95"/>
<circle cx="219.36" cy="250.67" r="2.5" fill="none" stroke="#d8204f" stroke-width="0.95"/>
<circle cx="222.42" cy="249.76" r="2.5" fill="none" stroke="#d8204f" stroke-width="0.95"/>
<circle cx="224.66" cy="248.63" r="2.5" fill="none" stroke="#d8204f" stroke-width="0.95"/>
<circle cx="227.44" cy="248.82" r="2.5" fill="none" stroke="#d8204f" stroke-width="0.95"/>
<circle cx="230.11" cy="249.29" r="2.5" fill="none" stroke="#d8204f" stroke-width="0.95"/>
<circle cx="232.75" cy="247.73" r="2.5" fill="none" stroke="#d8204f" stroke-width="0.95"/>
<circle cx="235.33" cy="252.41" r="2.5" fill="none" stroke="#d8204f" stroke-width="0.95"/>
<circle cx="238" cy="252.96" r="2.5" fill="none" stroke="#d8204f" stroke-width="0.95"/>
<circle cx="240.56" cy="254.13" r="2.5" fill="none" stroke="#d8204f" stroke-width="0.95"/>
<circle cx="242.81" cy="255.12" r="2.5" fill="none" stroke="#d8204f" stroke-width="0.95"/>
<circle cx="245.63" cy="256.59" r="2.5" fill="none" stroke="#d8204f" stroke-width="0.95"/>
<circle cx="248.2" cy="254.67" r="2.5" fill="none" stroke="#d8204f" stroke-width="0.95"/>
<circle cx="250.58" cy="256.72" r="2.5" fill="none" stroke="#d8204f" stroke-width="0.95"/>
<circle cx="253.36" cy="257.18" r="2.5" fill="none" stroke="#d8204f" stroke-width="0.95"/>
<circle cx="256.17" cy="257.23" r="2.5" fill="none" stroke="#d8204f" stroke-width="0.95"/>
<circle cx="258.57" cy="255.12" r="2.5" fill="none" stroke="#d8204f" stroke-width="0.95"/>
<circle cx="261.14" cy="253.21" r="2.5" fill="none" stroke="#d8204f" stroke-width="0.95"/>
<circle cx="263.79" cy="252.19" r="2.5" fill="none" stroke="#d8204f" stroke-width="0.95"/>
<circle cx="266.44" cy="250.68" r="2.5" fill="none" stroke="#d8204f" stroke-width="0.95"/>
<circle cx="269.16" cy="247.45" r="2.5" fill="none" stroke="#d8204f" stroke-width="0.95"/>
<circle cx="271.81" cy="240.8" r="2.5" fill="none" stroke="#d8204f" stroke-width="0.95"/>
<circle cx="274.07" cy="236.66" r="2.5" fill="none" stroke="#d8204f" stroke-width="0.95"/>
<circle cx="276.66" cy="229.03" r="2.5" fill="none" stroke="#d8204f" stroke-width="0.95"/>
<circle cx="279.29" cy="227.87" r="2.5" fill="none" stroke="#d8204f" stroke-width="0.95"/>
<circle cx="282.22" cy="225.18" r="2.5" fill="none" stroke="#d8204f" stroke-width="0.95"/>
<circle cx="284.84" cy="222.65" r="2.5" fill="none" stroke="#d8204f" stroke-width="0.95"/>
<circle cx="287.11" cy="217.7" r="2.5" fill="none" stroke="#d8204f" stroke-width="0.95"/>
<circle cx="290" cy="215.27" r="2.5" fill="none" stroke="#d8204f" stroke-width="0.95"/>
<circle cx="292.43" cy="212.89" r="2.5" fill="none" stroke="#d8204f" stroke-width="0.95"/>
<circle cx="295.27" cy="213.09" r="2.5" fill="none" stroke="#d8204f" stroke-width="0.95"/>
<circle cx="297.64" cy="214.23" r="2.5" fill="none" stroke="#d8204f" stroke-width="0.95"/>
<circle cx="300.44" cy="208.55" r="2.5" fill="none" stroke="#d8204f" stroke-width="0.95"/>
<circle cx="302.83" cy="204.26" r="2.5" fill="none" stroke="#d8204f" stroke-width="0.95"/>
<circle cx="305.31" cy="203.42" r="2.5" fill="none" stroke="#d8204f" stroke-width="0.95"/>
<circle cx="308.21" cy="200.05" r="2.5" fill="none" stroke="#d8204f" stroke-width="0.95"/>
<circle cx="310.5" cy="198.57" r="2.5" fill="none" stroke="#d8204f" stroke-width="0.95"/>
<circle cx="313.37" cy="196.37" r="2.5" fill="none" stroke="#d8204f" stroke-width="0.95"/>
<circle cx="315.82" cy="194.29" r="2.5" fill="none" stroke="#d8204f" stroke-width="0.95"/>
<line x1="195.1" y1="98.6" x2="170.9" y2="263.5" stroke="#000" stroke-width="2.0" stroke-dasharray="7 4.6"/>
<line x1="239.8" y1="109.9" x2="257.2" y2="263.5" stroke="#000" stroke-width="2.0" stroke-dasharray="7 4.6"/>
<rect x="67.2" y="39.5" width="251.6" height="251.8" fill="none" stroke="#000" stroke-width="1.15"/>
<line x1="67.2" y1="47.7" x2="69.5" y2="47.7" stroke="#000" stroke-width="1.0" />
<line x1="67.2" y1="64.8" x2="69.5" y2="64.8" stroke="#000" stroke-width="1.0" />
<line x1="67.2" y1="81.9" x2="69.5" y2="81.9" stroke="#000" stroke-width="1.0" />
<line x1="67.2" y1="99" x2="69.5" y2="99" stroke="#000" stroke-width="1.0" />
<line x1="67.2" y1="116.1" x2="69.5" y2="116.1" stroke="#000" stroke-width="1.0" />
<line x1="67.2" y1="133.2" x2="69.5" y2="133.2" stroke="#000" stroke-width="1.0" />
<line x1="67.2" y1="150.3" x2="69.5" y2="150.3" stroke="#000" stroke-width="1.0" />
<line x1="67.2" y1="167.4" x2="69.5" y2="167.4" stroke="#000" stroke-width="1.0" />
<line x1="67.2" y1="184.5" x2="69.5" y2="184.5" stroke="#000" stroke-width="1.0" />
<line x1="67.2" y1="201.6" x2="69.5" y2="201.6" stroke="#000" stroke-width="1.0" />
<line x1="67.2" y1="218.7" x2="69.5" y2="218.7" stroke="#000" stroke-width="1.0" />
<line x1="67.2" y1="235.8" x2="69.5" y2="235.8" stroke="#000" stroke-width="1.0" />
<line x1="67.2" y1="252.9" x2="69.5" y2="252.9" stroke="#000" stroke-width="1.0" />
<line x1="67.2" y1="270" x2="69.5" y2="270" stroke="#000" stroke-width="1.0" />
<line x1="67.2" y1="287.1" x2="69.5" y2="287.1" stroke="#000" stroke-width="1.0" />
<line x1="72.45" y1="291.3" x2="72.45" y2="289" stroke="#000" stroke-width="1.0" />
<line x1="83.18" y1="291.3" x2="83.18" y2="289" stroke="#000" stroke-width="1.0" />
<line x1="93.9" y1="291.3" x2="93.9" y2="286.3" stroke="#000" stroke-width="1.0" />
<line x1="104.62" y1="291.3" x2="104.62" y2="289" stroke="#000" stroke-width="1.0" />
<line x1="115.35" y1="291.3" x2="115.35" y2="289" stroke="#000" stroke-width="1.0" />
<line x1="126.08" y1="291.3" x2="126.08" y2="289" stroke="#000" stroke-width="1.0" />
<line x1="136.8" y1="291.3" x2="136.8" y2="289" stroke="#000" stroke-width="1.0" />
<line x1="147.53" y1="291.3" x2="147.53" y2="289" stroke="#000" stroke-width="1.0" />
<line x1="158.25" y1="291.3" x2="158.25" y2="289" stroke="#000" stroke-width="1.0" />
<line x1="168.98" y1="291.3" x2="168.98" y2="289" stroke="#000" stroke-width="1.0" />
<line x1="179.7" y1="291.3" x2="179.7" y2="289" stroke="#000" stroke-width="1.0" />
<line x1="190.43" y1="291.3" x2="190.43" y2="289" stroke="#000" stroke-width="1.0" />
<line x1="201.15" y1="291.3" x2="201.15" y2="286.3" stroke="#000" stroke-width="1.0" />
<line x1="211.88" y1="291.3" x2="211.88" y2="289" stroke="#000" stroke-width="1.0" />
<line x1="222.6" y1="291.3" x2="222.6" y2="289" stroke="#000" stroke-width="1.0" />
<line x1="233.32" y1="291.3" x2="233.32" y2="289" stroke="#000" stroke-width="1.0" />
<line x1="244.05" y1="291.3" x2="244.05" y2="289" stroke="#000" stroke-width="1.0" />
<line x1="254.78" y1="291.3" x2="254.78" y2="289" stroke="#000" stroke-width="1.0" />
<line x1="265.5" y1="291.3" x2="265.5" y2="289" stroke="#000" stroke-width="1.0" />
<line x1="276.23" y1="291.3" x2="276.23" y2="289" stroke="#000" stroke-width="1.0" />
<line x1="286.95" y1="291.3" x2="286.95" y2="289" stroke="#000" stroke-width="1.0" />
<line x1="297.68" y1="291.3" x2="297.68" y2="289" stroke="#000" stroke-width="1.0" />
<line x1="308.4" y1="291.3" x2="308.4" y2="286.3" stroke="#000" stroke-width="1.0" />
<text transform="translate(93.9 314) scale(1 1.03)" font-size="22" text-anchor="middle" fill="#000" >2.23</text>
<text transform="translate(201.4 314) scale(1 1.03)" font-size="22" text-anchor="middle" fill="#000" >2.25</text>
<text transform="translate(308.9 314) scale(1 1.03)" font-size="22" text-anchor="middle" fill="#000" >2.27</text>
<text transform="translate(193.5 338.2) scale(1 1.03)" font-size="22" text-anchor="middle" fill="#000" >Energy (eV)</text>
<text transform="translate(57 154.4) rotate(-90) scale(1 1.03)" font-size="22" text-anchor="middle" fill="#000" >Intensity (arb. units)</text>
<text transform="translate(74.6 64.2) scale(1 1.03)" font-size="22" text-anchor="start" fill="#000" >2.8 mW</text>
<text transform="translate(157.5 64.2) scale(1 1.03)" font-size="22" text-anchor="start" fill="#000" ><tspan font-family="Liberation Serif">μ</tspan>m</text>
<text transform="translate(187.6 55.9) scale(1 1.03)" font-size="15" text-anchor="start" fill="#000" >-2</text>
<text transform="translate(280.8 63.4) scale(1 1.03)" font-size="22" text-anchor="start" fill="#000" >2s</text>
<text transform="translate(185.4 95.8) scale(1 1.03)" font-size="21" text-anchor="start" fill="#000" >LP UP</text>
<text transform="translate(70.2 152.9) scale(1 1.03)" font-size="22" text-anchor="start" fill="#c2e8b0" >0.18</text>
<text transform="translate(73.2 286.2) scale(1 1.03)" font-size="22" text-anchor="start" fill="#000" >5×10</text>
<text transform="translate(121.8 277.8) scale(1 1.03)" font-size="15" text-anchor="start" fill="#000" >-4</text>
<text transform="translate(139.5 286.2) scale(1 1.03)" font-size="22" text-anchor="start" fill="#000" >mW <tspan font-family="Liberation Serif">μ</tspan>m</text>
<text transform="translate(215.2 278.1) scale(1 1.03)" font-size="15" text-anchor="start" fill="#000" >-2</text>
<text transform="translate(32.6 17.6) scale(1.0 1.03)" font-size="33" text-anchor="start" fill="#000" >a</text>
<line x1="117.4" y1="436.9" x2="117.4" y2="445.7" stroke="#fc5a2d" stroke-width="1.9" />
<line x1="112.4" y1="436.9" x2="122.4" y2="436.9" stroke="#fc5a2d" stroke-width="1.9" />
<line x1="112.4" y1="445.7" x2="122.4" y2="445.7" stroke="#fc5a2d" stroke-width="1.9" />
<circle cx="117.4" cy="441.3" r="4.1" fill="#fff" stroke="#fc5a2d" stroke-width="1.9"/>
<line x1="137.5" y1="423.1" x2="137.5" y2="431.5" stroke="#fc5a2d" stroke-width="1.9" />
<line x1="132.5" y1="423.1" x2="142.5" y2="423.1" stroke="#fc5a2d" stroke-width="1.9" />
<line x1="132.5" y1="431.5" x2="142.5" y2="431.5" stroke="#fc5a2d" stroke-width="1.9" />
<circle cx="137.5" cy="427.7" r="4.1" fill="#fff" stroke="#fc5a2d" stroke-width="1.9"/>
<line x1="158.8" y1="425.8" x2="158.8" y2="433.2" stroke="#fc5a2d" stroke-width="1.9" />
<line x1="153.8" y1="425.8" x2="163.8" y2="425.8" stroke="#fc5a2d" stroke-width="1.9" />
<line x1="153.8" y1="433.2" x2="163.8" y2="433.2" stroke="#fc5a2d" stroke-width="1.9" />
<circle cx="158.8" cy="429.4" r="4.1" fill="#fff" stroke="#fc5a2d" stroke-width="1.9"/>
<line x1="183.8" y1="427.4" x2="183.8" y2="434.8" stroke="#fc5a2d" stroke-width="1.9" />
<line x1="178.8" y1="427.4" x2="188.8" y2="427.4" stroke="#fc5a2d" stroke-width="1.9" />
<line x1="178.8" y1="434.8" x2="188.8" y2="434.8" stroke="#fc5a2d" stroke-width="1.9" />
<circle cx="183.8" cy="431.1" r="4.1" fill="#fff" stroke="#fc5a2d" stroke-width="1.9"/>
<line x1="209.1" y1="429.8" x2="209.1" y2="437" stroke="#fc5a2d" stroke-width="1.9" />
<line x1="204.1" y1="429.8" x2="214.1" y2="429.8" stroke="#fc5a2d" stroke-width="1.9" />
<line x1="204.1" y1="437" x2="214.1" y2="437" stroke="#fc5a2d" stroke-width="1.9" />
<circle cx="209.1" cy="433.4" r="4.1" fill="#fff" stroke="#fc5a2d" stroke-width="1.9"/>
<line x1="227.6" y1="432.6" x2="227.6" y2="439.8" stroke="#fc5a2d" stroke-width="1.9" />
<line x1="222.6" y1="432.6" x2="232.6" y2="432.6" stroke="#fc5a2d" stroke-width="1.9" />
<line x1="222.6" y1="439.8" x2="232.6" y2="439.8" stroke="#fc5a2d" stroke-width="1.9" />
<circle cx="227.6" cy="436.2" r="4.1" fill="#fff" stroke="#fc5a2d" stroke-width="1.9"/>
<line x1="246.1" y1="430" x2="246.1" y2="438.5" stroke="#fc5a2d" stroke-width="1.9" />
<line x1="241.1" y1="430" x2="251.1" y2="430" stroke="#fc5a2d" stroke-width="1.9" />
<line x1="241.1" y1="438.5" x2="251.1" y2="438.5" stroke="#fc5a2d" stroke-width="1.9" />
<circle cx="246.1" cy="434.1" r="4.1" fill="#fff" stroke="#fc5a2d" stroke-width="1.9"/>
<line x1="257.6" y1="427.7" x2="257.6" y2="435.7" stroke="#fc5a2d" stroke-width="1.9" />
<line x1="252.6" y1="427.7" x2="262.6" y2="427.7" stroke="#fc5a2d" stroke-width="1.9" />
<line x1="252.6" y1="435.7" x2="262.6" y2="435.7" stroke="#fc5a2d" stroke-width="1.9" />
<circle cx="257.6" cy="431.8" r="4.1" fill="#fff" stroke="#fc5a2d" stroke-width="1.9"/>
<line x1="268" y1="433" x2="268" y2="441.5" stroke="#fc5a2d" stroke-width="1.9" />
<line x1="263" y1="433" x2="273" y2="433" stroke="#fc5a2d" stroke-width="1.9" />
<line x1="263" y1="441.5" x2="273" y2="441.5" stroke="#fc5a2d" stroke-width="1.9" />
<circle cx="268" cy="436.9" r="4.1" fill="#fff" stroke="#fc5a2d" stroke-width="1.9"/>
<line x1="274.9" y1="450.7" x2="274.9" y2="461" stroke="#fc5a2d" stroke-width="1.9" />
<line x1="269.9" y1="450.7" x2="279.9" y2="450.7" stroke="#fc5a2d" stroke-width="1.9" />
<line x1="269.9" y1="461" x2="279.9" y2="461" stroke="#fc5a2d" stroke-width="1.9" />
<circle cx="274.9" cy="456" r="4.1" fill="#fff" stroke="#fc5a2d" stroke-width="1.9"/>
<line x1="282.5" y1="463.4" x2="282.5" y2="473.8" stroke="#fc5a2d" stroke-width="1.9" />
<line x1="277.5" y1="463.4" x2="287.5" y2="463.4" stroke="#fc5a2d" stroke-width="1.9" />
<line x1="277.5" y1="473.8" x2="287.5" y2="473.8" stroke="#fc5a2d" stroke-width="1.9" />
<circle cx="282.5" cy="469.2" r="4.1" fill="#fff" stroke="#fc5a2d" stroke-width="1.9"/>
<line x1="289.4" y1="476" x2="289.4" y2="483.5" stroke="#fc5a2d" stroke-width="1.9" />
<line x1="284.4" y1="476" x2="294.4" y2="476" stroke="#fc5a2d" stroke-width="1.9" />
<line x1="284.4" y1="483.5" x2="294.4" y2="483.5" stroke="#fc5a2d" stroke-width="1.9" />
<circle cx="289.4" cy="479.5" r="4.1" fill="#fff" stroke="#fc5a2d" stroke-width="1.9"/>
<line x1="296.4" y1="492.2" x2="296.4" y2="503.7" stroke="#fc5a2d" stroke-width="1.9" />
<line x1="291.4" y1="492.2" x2="301.4" y2="492.2" stroke="#fc5a2d" stroke-width="1.9" />
<line x1="291.4" y1="503.7" x2="301.4" y2="503.7" stroke="#fc5a2d" stroke-width="1.9" />
<circle cx="296.4" cy="498" r="4.1" fill="#fff" stroke="#fc5a2d" stroke-width="1.9"/>
<line x1="93.8" y1="421.8" x2="93.8" y2="441.8" stroke="#0f88d5" stroke-width="1.9" />
<line x1="88.8" y1="421.8" x2="98.8" y2="421.8" stroke="#0f88d5" stroke-width="1.9" />
<line x1="88.8" y1="441.8" x2="98.8" y2="441.8" stroke="#0f88d5" stroke-width="1.9" />
<circle cx="93.8" cy="431.7" r="3.9" fill="#fff" stroke="#0f88d5" stroke-width="1.9"/>
<line x1="117.4" y1="425.5" x2="117.4" y2="455.3" stroke="#0f88d5" stroke-width="1.9" />
<line x1="112.4" y1="425.5" x2="122.4" y2="425.5" stroke="#0f88d5" stroke-width="1.9" />
<line x1="112.4" y1="455.3" x2="122.4" y2="455.3" stroke="#0f88d5" stroke-width="1.9" />
<circle cx="117.4" cy="440.9" r="3.9" fill="#fff" stroke="#0f88d5" stroke-width="1.9"/>
<line x1="137.5" y1="426" x2="137.5" y2="454" stroke="#0f88d5" stroke-width="1.9" />
<line x1="132.5" y1="426" x2="142.5" y2="426" stroke="#0f88d5" stroke-width="1.9" />
<line x1="132.5" y1="454" x2="142.5" y2="454" stroke="#0f88d5" stroke-width="1.9" />
<circle cx="137.5" cy="440" r="3.9" fill="#fff" stroke="#0f88d5" stroke-width="1.9"/>
<line x1="158.8" y1="433.4" x2="158.8" y2="463.2" stroke="#0f88d5" stroke-width="1.9" />
<line x1="153.8" y1="433.4" x2="163.8" y2="433.4" stroke="#0f88d5" stroke-width="1.9" />
<line x1="153.8" y1="463.2" x2="163.8" y2="463.2" stroke="#0f88d5" stroke-width="1.9" />
<circle cx="158.8" cy="447.8" r="3.9" fill="#fff" stroke="#0f88d5" stroke-width="1.9"/>
<line x1="183.8" y1="448.4" x2="183.8" y2="479.5" stroke="#0f88d5" stroke-width="1.9" />
<line x1="178.8" y1="448.4" x2="188.8" y2="448.4" stroke="#0f88d5" stroke-width="1.9" />
<line x1="178.8" y1="479.5" x2="188.8" y2="479.5" stroke="#0f88d5" stroke-width="1.9" />
<circle cx="183.8" cy="463.4" r="3.9" fill="#fff" stroke="#0f88d5" stroke-width="1.9"/>
<line x1="209.1" y1="465" x2="209.1" y2="494.5" stroke="#0f88d5" stroke-width="1.9" />
<line x1="204.1" y1="465" x2="214.1" y2="465" stroke="#0f88d5" stroke-width="1.9" />
<line x1="204.1" y1="494.5" x2="214.1" y2="494.5" stroke="#0f88d5" stroke-width="1.9" />
<circle cx="209.1" cy="479.1" r="3.9" fill="#fff" stroke="#0f88d5" stroke-width="1.9"/>
<line x1="227.6" y1="480.7" x2="227.6" y2="510.2" stroke="#0f88d5" stroke-width="1.9" />
<line x1="222.6" y1="480.7" x2="232.6" y2="480.7" stroke="#0f88d5" stroke-width="1.9" />
<line x1="222.6" y1="510.2" x2="232.6" y2="510.2" stroke="#0f88d5" stroke-width="1.9" />
<circle cx="227.6" cy="495" r="3.9" fill="#fff" stroke="#0f88d5" stroke-width="1.9"/>
<line x1="246.4" y1="499.1" x2="246.4" y2="531" stroke="#0f88d5" stroke-width="1.9" />
<line x1="241.4" y1="499.1" x2="251.4" y2="499.1" stroke="#0f88d5" stroke-width="1.9" />
<line x1="241.4" y1="531" x2="251.4" y2="531" stroke="#0f88d5" stroke-width="1.9" />
<circle cx="246.4" cy="514.1" r="3.9" fill="#fff" stroke="#0f88d5" stroke-width="1.9"/>
<line x1="258" y1="519.4" x2="258" y2="555.5" stroke="#0f88d5" stroke-width="1.9" />
<line x1="253" y1="519.4" x2="263" y2="519.4" stroke="#0f88d5" stroke-width="1.9" />
<line x1="253" y1="555.5" x2="263" y2="555.5" stroke="#0f88d5" stroke-width="1.9" />
<circle cx="258" cy="536.8" r="3.9" fill="#fff" stroke="#0f88d5" stroke-width="1.9"/>
<line x1="267.7" y1="528.1" x2="267.7" y2="567.6" stroke="#0f88d5" stroke-width="1.9" />
<line x1="262.7" y1="528.1" x2="272.7" y2="528.1" stroke="#0f88d5" stroke-width="1.9" />
<line x1="262.7" y1="567.6" x2="272.7" y2="567.6" stroke="#0f88d5" stroke-width="1.9" />
<circle cx="267.7" cy="547.3" r="3.9" fill="#fff" stroke="#0f88d5" stroke-width="1.9"/>
<rect x="66.4" y="384.2" width="252" height="252.7" fill="none" stroke="#000" stroke-width="1.15"/>
<line x1="66.4" y1="630.83" x2="68.9" y2="630.83" stroke="#000" stroke-width="1.0" />
<line x1="66.4" y1="623.96" x2="68.9" y2="623.96" stroke="#000" stroke-width="1.0" />
<line x1="66.4" y1="617.09" x2="68.9" y2="617.09" stroke="#000" stroke-width="1.0" />
<line x1="66.4" y1="610.22" x2="68.9" y2="610.22" stroke="#000" stroke-width="1.0" />
<line x1="66.4" y1="603.35" x2="68.9" y2="603.35" stroke="#000" stroke-width="1.0" />
<line x1="66.4" y1="596.48" x2="68.9" y2="596.48" stroke="#000" stroke-width="1.0" />
<line x1="66.4" y1="589.61" x2="68.9" y2="589.61" stroke="#000" stroke-width="1.0" />
<line x1="66.4" y1="582.74" x2="68.9" y2="582.74" stroke="#000" stroke-width="1.0" />
<line x1="66.4" y1="575.87" x2="68.9" y2="575.87" stroke="#000" stroke-width="1.0" />
<line x1="66.4" y1="569" x2="71.4" y2="569" stroke="#000" stroke-width="1.0" />
<line x1="66.4" y1="562.13" x2="68.9" y2="562.13" stroke="#000" stroke-width="1.0" />
<line x1="66.4" y1="555.26" x2="68.9" y2="555.26" stroke="#000" stroke-width="1.0" />
<line x1="66.4" y1="548.39" x2="68.9" y2="548.39" stroke="#000" stroke-width="1.0" />
<line x1="66.4" y1="541.52" x2="68.9" y2="541.52" stroke="#000" stroke-width="1.0" />
<line x1="66.4" y1="534.65" x2="68.9" y2="534.65" stroke="#000" stroke-width="1.0" />
<line x1="66.4" y1="527.78" x2="68.9" y2="527.78" stroke="#000" stroke-width="1.0" />
<line x1="66.4" y1="520.91" x2="68.9" y2="520.91" stroke="#000" stroke-width="1.0" />
<line x1="66.4" y1="514.04" x2="68.9" y2="514.04" stroke="#000" stroke-width="1.0" />
<line x1="66.4" y1="507.17" x2="68.9" y2="507.17" stroke="#000" stroke-width="1.0" />
<line x1="66.4" y1="500.3" x2="71.4" y2="500.3" stroke="#000" stroke-width="1.0" />
<line x1="66.4" y1="493.43" x2="68.9" y2="493.43" stroke="#000" stroke-width="1.0" />
<line x1="66.4" y1="486.56" x2="68.9" y2="486.56" stroke="#000" stroke-width="1.0" />
<line x1="66.4" y1="479.69" x2="68.9" y2="479.69" stroke="#000" stroke-width="1.0" />
<line x1="66.4" y1="472.82" x2="68.9" y2="472.82" stroke="#000" stroke-width="1.0" />
<line x1="66.4" y1="465.95" x2="68.9" y2="465.95" stroke="#000" stroke-width="1.0" />
<line x1="66.4" y1="459.08" x2="68.9" y2="459.08" stroke="#000" stroke-width="1.0" />
<line x1="66.4" y1="452.21" x2="68.9" y2="452.21" stroke="#000" stroke-width="1.0" />
<line x1="66.4" y1="445.34" x2="68.9" y2="445.34" stroke="#000" stroke-width="1.0" />
<line x1="66.4" y1="438.47" x2="68.9" y2="438.47" stroke="#000" stroke-width="1.0" />
<line x1="66.4" y1="431.6" x2="71.4" y2="431.6" stroke="#000" stroke-width="1.0" />
<line x1="66.4" y1="424.73" x2="68.9" y2="424.73" stroke="#000" stroke-width="1.0" />
<line x1="66.4" y1="417.86" x2="68.9" y2="417.86" stroke="#000" stroke-width="1.0" />
<line x1="66.4" y1="410.99" x2="68.9" y2="410.99" stroke="#000" stroke-width="1.0" />
<line x1="66.4" y1="404.12" x2="68.9" y2="404.12" stroke="#000" stroke-width="1.0" />
<line x1="66.4" y1="397.25" x2="68.9" y2="397.25" stroke="#000" stroke-width="1.0" />
<line x1="66.4" y1="390.38" x2="68.9" y2="390.38" stroke="#000" stroke-width="1.0" />
<text transform="translate(61.5 439.2) scale(1 1.03)" font-size="22" text-anchor="end" fill="#000" >1.0</text>
<text transform="translate(61.5 507.9) scale(1 1.03)" font-size="22" text-anchor="end" fill="#000" >0.9</text>
<text transform="translate(61.5 576.6) scale(1 1.03)" font-size="22" text-anchor="end" fill="#000" >0.8</text>
<text transform="translate(61.5 645.3) scale(1 1.03)" font-size="22" text-anchor="end" fill="#000" >0.7</text>
<line x1="78.49" y1="636.9" x2="78.49" y2="634.4" stroke="#000" stroke-width="1.0" />
<line x1="87.02" y1="636.9" x2="87.02" y2="634.4" stroke="#000" stroke-width="1.0" />
<line x1="93.64" y1="636.9" x2="93.64" y2="634.4" stroke="#000" stroke-width="1.0" />
<line x1="99.05" y1="636.9" x2="99.05" y2="634.4" stroke="#000" stroke-width="1.0" />
<line x1="103.62" y1="636.9" x2="103.62" y2="634.4" stroke="#000" stroke-width="1.0" />
<line x1="107.58" y1="636.9" x2="107.58" y2="634.4" stroke="#000" stroke-width="1.0" />
<line x1="111.07" y1="636.9" x2="111.07" y2="634.4" stroke="#000" stroke-width="1.0" />
<line x1="114.2" y1="636.9" x2="114.2" y2="631.9" stroke="#000" stroke-width="1.0" />
<line x1="134.76" y1="636.9" x2="134.76" y2="634.4" stroke="#000" stroke-width="1.0" />
<line x1="146.79" y1="636.9" x2="146.79" y2="634.4" stroke="#000" stroke-width="1.0" />
<line x1="155.32" y1="636.9" x2="155.32" y2="634.4" stroke="#000" stroke-width="1.0" />
<line x1="161.94" y1="636.9" x2="161.94" y2="634.4" stroke="#000" stroke-width="1.0" />
<line x1="167.35" y1="636.9" x2="167.35" y2="634.4" stroke="#000" stroke-width="1.0" />
<line x1="171.92" y1="636.9" x2="171.92" y2="634.4" stroke="#000" stroke-width="1.0" />
<line x1="175.88" y1="636.9" x2="175.88" y2="634.4" stroke="#000" stroke-width="1.0" />
<line x1="179.37" y1="636.9" x2="179.37" y2="634.4" stroke="#000" stroke-width="1.0" />
<line x1="182.5" y1="636.9" x2="182.5" y2="631.9" stroke="#000" stroke-width="1.0" />
<line x1="203.06" y1="636.9" x2="203.06" y2="634.4" stroke="#000" stroke-width="1.0" />
<line x1="215.09" y1="636.9" x2="215.09" y2="634.4" stroke="#000" stroke-width="1.0" />
<line x1="223.62" y1="636.9" x2="223.62" y2="634.4" stroke="#000" stroke-width="1.0" />
<line x1="230.24" y1="636.9" x2="230.24" y2="634.4" stroke="#000" stroke-width="1.0" />
<line x1="235.65" y1="636.9" x2="235.65" y2="634.4" stroke="#000" stroke-width="1.0" />
<line x1="240.22" y1="636.9" x2="240.22" y2="634.4" stroke="#000" stroke-width="1.0" />
<line x1="244.18" y1="636.9" x2="244.18" y2="634.4" stroke="#000" stroke-width="1.0" />
<line x1="247.67" y1="636.9" x2="247.67" y2="634.4" stroke="#000" stroke-width="1.0" />
<line x1="250.8" y1="636.9" x2="250.8" y2="631.9" stroke="#000" stroke-width="1.0" />
<line x1="271.36" y1="636.9" x2="271.36" y2="634.4" stroke="#000" stroke-width="1.0" />
<line x1="283.39" y1="636.9" x2="283.39" y2="634.4" stroke="#000" stroke-width="1.0" />
<line x1="291.92" y1="636.9" x2="291.92" y2="634.4" stroke="#000" stroke-width="1.0" />
<line x1="298.54" y1="636.9" x2="298.54" y2="634.4" stroke="#000" stroke-width="1.0" />
<line x1="303.95" y1="636.9" x2="303.95" y2="634.4" stroke="#000" stroke-width="1.0" />
<line x1="308.52" y1="636.9" x2="308.52" y2="634.4" stroke="#000" stroke-width="1.0" />
<line x1="312.48" y1="636.9" x2="312.48" y2="634.4" stroke="#000" stroke-width="1.0" />
<line x1="315.97" y1="636.9" x2="315.97" y2="634.4" stroke="#000" stroke-width="1.0" />
<text transform="translate(114.8 663.6) scale(1 1.03)" font-size="22" text-anchor="middle" fill="#000" >10<tspan font-size="15" dy="-8.6">-3</tspan></text>
<text transform="translate(183.1 663.6) scale(1 1.03)" font-size="22" text-anchor="middle" fill="#000" >10<tspan font-size="15" dy="-8.6">-2</tspan></text>
<text transform="translate(251.4 663.6) scale(1 1.03)" font-size="22" text-anchor="middle" fill="#000" >10<tspan font-size="15" dy="-8.6">-1</tspan></text>
<text transform="translate(319.7 663.6) scale(1 1.03)" font-size="22" text-anchor="middle" fill="#000" >10<tspan font-size="15" dy="-8.6">0</tspan></text>
<text transform="translate(70 688.8) scale(1 1.03)" font-size="22" text-anchor="start" fill="#000" >Power density (mW <tspan font-family="Liberation Serif">μ</tspan>m<tspan font-size="14.5" dy="-8.4">-2</tspan><tspan dy="8.4">)</tspan></text>
<text transform="translate(20.6 496) rotate(-90) scale(1 1.03)" font-size="22" text-anchor="middle" fill="#000" ><tspan font-family="Liberation Serif">Ω</tspan><tspan font-size="15.5" dy="6.3">Ref</tspan><tspan dy="-6.3">(N)/<tspan font-family="Liberation Serif">Ω</tspan></tspan><tspan font-size="15.5" dy="6.3">Ref</tspan><tspan dy="-6.3">(0)</tspan></text>
<circle cx="98.4" cy="579.9" r="4.4" fill="none" stroke="#fc5a2d" stroke-width="1.8"/>
<text transform="translate(130.2 588.4) scale(1 1.03)" font-size="22" text-anchor="start" fill="#000" >1s</text>
<circle cx="98.4" cy="606.8" r="4.9" fill="none" stroke="#0f88d5" stroke-width="1.0"/>
<text transform="translate(129.3 615.3) scale(1 1.03)" font-size="22" text-anchor="start" fill="#000" >2s</text>
<text transform="translate(32.8 366) scale(1.1 1.03)" font-size="33" text-anchor="start" fill="#000" >b</text>
<rect x="404.5" y="39.85" width="251.6" height="253.45" fill="none" stroke="#000" stroke-width="1.15"/>
<clipPath id="clipc"><rect x="404.5" y="39.85" width="251.6" height="254.35"/></clipPath>
<g clip-path="url(#clipc)">
<line x1="498.9" y1="255" x2="498.9" y2="297" stroke="#4ccdaa" stroke-width="1.65" />
<line x1="493.9" y1="255" x2="503.9" y2="255" stroke="#4ccdaa" stroke-width="1.65" />
<line x1="493.9" y1="297" x2="503.9" y2="297" stroke="#4ccdaa" stroke-width="1.65" />
<line x1="508.4" y1="242.2" x2="508.4" y2="289.5" stroke="#4ccdaa" stroke-width="1.65" />
<line x1="503.4" y1="242.2" x2="513.4" y2="242.2" stroke="#4ccdaa" stroke-width="1.65" />
<line x1="503.4" y1="289.5" x2="513.4" y2="289.5" stroke="#4ccdaa" stroke-width="1.65" />
<line x1="519" y1="222.5" x2="519" y2="267.9" stroke="#4ccdaa" stroke-width="1.65" />
<line x1="514" y1="222.5" x2="524" y2="222.5" stroke="#4ccdaa" stroke-width="1.65" />
<line x1="514" y1="267.9" x2="524" y2="267.9" stroke="#4ccdaa" stroke-width="1.65" />
<line x1="532.2" y1="213" x2="532.2" y2="259.9" stroke="#4ccdaa" stroke-width="1.65" />
<line x1="527.2" y1="213" x2="537.2" y2="213" stroke="#4ccdaa" stroke-width="1.65" />
<line x1="527.2" y1="259.9" x2="537.2" y2="259.9" stroke="#4ccdaa" stroke-width="1.65" />
<line x1="547" y1="201.8" x2="547" y2="249.7" stroke="#4ccdaa" stroke-width="1.65" />
<line x1="542" y1="201.8" x2="552" y2="201.8" stroke="#4ccdaa" stroke-width="1.65" />
<line x1="542" y1="249.7" x2="552" y2="249.7" stroke="#4ccdaa" stroke-width="1.65" />
<line x1="558.7" y1="193.3" x2="558.7" y2="238.1" stroke="#4ccdaa" stroke-width="1.65" />
<line x1="553.7" y1="193.3" x2="563.7" y2="193.3" stroke="#4ccdaa" stroke-width="1.65" />
<line x1="553.7" y1="238.1" x2="563.7" y2="238.1" stroke="#4ccdaa" stroke-width="1.65" />
<circle cx="498.9" cy="278.9" r="3.95" fill="#fff" stroke="#4ccdaa" stroke-width="1.8"/>
<circle cx="508.4" cy="264.9" r="3.95" fill="#fff" stroke="#4ccdaa" stroke-width="1.8"/>
<circle cx="519" cy="244.5" r="3.95" fill="#fff" stroke="#4ccdaa" stroke-width="1.8"/>
<circle cx="532.2" cy="235.7" r="3.95" fill="#fff" stroke="#4ccdaa" stroke-width="1.8"/>
<circle cx="547" cy="225.1" r="3.95" fill="#fff" stroke="#4ccdaa" stroke-width="1.8"/>
<circle cx="558.7" cy="214.8" r="3.95" fill="#fff" stroke="#4ccdaa" stroke-width="1.8"/>
<polyline points="487.6,273.2 488.18,272.95 488.95,272.61 489.86,272.21 490.88,271.77 491.95,271.3 493.04,270.82 494.11,270.34 495.1,269.9 496.05,269.48 496.99,269.06 497.94,268.65 498.89,268.23 499.85,267.8 500.8,267.36 501.75,266.89 502.7,266.4 503.65,265.88 504.6,265.34 505.55,264.78 506.51,264.21 507.46,263.62 508.41,263.02 509.35,262.41 510.3,261.8 511.14,261.25 511.97,260.7 512.8,260.14 513.63,259.58 514.47,259.01 515.3,258.42 516.13,257.83 516.96,257.22 517.8,256.6 518.64,255.97 519.48,255.35 520.33,254.71 521.18,254.07 522.02,253.41 522.87,252.73 523.72,252.02 524.56,251.28 525.4,250.5 526.09,249.83 526.77,249.12 527.45,248.4 528.13,247.64 528.81,246.88 529.49,246.1 530.17,245.31 530.85,244.52 531.53,243.74 532.21,242.96 532.9,242.2 533.59,241.45 534.28,240.69 534.97,239.94 535.66,239.19 536.35,238.43 537.04,237.68 537.73,236.93 538.42,236.17 539.12,235.42 539.81,234.66 540.5,233.9 541.2,233.13 541.93,232.34 542.66,231.54 543.41,230.74 544.15,229.94 544.88,229.14 545.59,228.36 546.27,227.6 546.93,226.86 547.54,226.16 548.1,225.5 548.87,224.56 549.52,223.73 550.09,222.96 550.61,222.23 551.13,221.48 551.68,220.69 552.3,219.8 552.84,219.04 553.41,218.22 554,217.37 554.61,216.5 555.22,215.62 555.82,214.74 556.41,213.89 556.97,213.07 557.5,212.3 558.12,211.41 558.68,210.62 559.2,209.87 559.72,209.13 560.26,208.36 560.84,207.49 561.5,206.5 562.01,205.72 562.54,204.9 563.11,204.03 563.69,203.12 564.29,202.19 564.89,201.23 565.5,200.26 566.11,199.27 566.71,198.28 567.3,197.3 567.84,196.38 568.39,195.43 568.95,194.44 569.52,193.44 570.09,192.43 570.65,191.42 571.19,190.44 571.71,189.48 572.21,188.56 572.67,187.7 573.1,186.9 573.67,185.8 574.14,184.88 574.54,184.05 574.91,183.26 575.28,182.45 575.7,181.55 576.2,180.5 576.59,179.67 577.01,178.79 577.44,177.87 577.88,176.92 578.34,175.93 578.81,174.92 579.29,173.9 579.79,172.87 580.29,171.83 580.8,170.8 581.24,169.94 581.69,169.06 582.15,168.18 582.61,167.29 583.09,166.39 583.58,165.49 584.06,164.57 584.55,163.65 585.04,162.72 585.53,161.79 586.02,160.85 586.5,159.9 586.94,159.02 587.39,158.14 587.83,157.24 588.28,156.35 588.72,155.45 589.17,154.54 589.62,153.62 590.06,152.7 590.51,151.78 590.96,150.84 591.41,149.9 591.85,148.95 592.3,148 592.71,147.11 593.13,146.2 593.54,145.29 593.96,144.37 594.38,143.44 594.79,142.51 595.21,141.58 595.62,140.64 596.04,139.7 596.45,138.75 596.86,137.81 597.28,136.87 597.69,135.93 598.1,135 598.51,134.07 598.91,133.16 599.3,132.25 599.69,131.35 600.08,130.45 600.47,129.55 600.86,128.64 601.26,127.73 601.66,126.8 602.07,125.86 602.48,124.91 602.91,123.93 603.35,122.93 603.8,121.9 604.2,121 604.62,120.04 605.07,119.03 605.54,117.98 606.03,116.89 606.52,115.79 607.02,114.68 607.51,113.58 608,112.49 608.47,111.43 608.93,110.41 609.36,109.45 609.77,108.54 610.14,107.72 610.47,106.98 610.76,106.33 611,105.8" fill="none" stroke="#4ccdaa" stroke-width="1.9" stroke-linejoin="round" stroke-linecap="round" />
<line x1="560.6" y1="266.9" x2="560.6" y2="293.1" stroke="#fc5a2d" stroke-width="1.65" />
<line x1="555.6" y1="266.9" x2="565.6" y2="266.9" stroke="#fc5a2d" stroke-width="1.65" />
<line x1="555.6" y1="293.1" x2="565.6" y2="293.1" stroke="#fc5a2d" stroke-width="1.65" />
<line x1="578.8" y1="249.7" x2="578.8" y2="276.4" stroke="#fc5a2d" stroke-width="1.65" />
<line x1="573.8" y1="249.7" x2="583.8" y2="249.7" stroke="#fc5a2d" stroke-width="1.65" />
<line x1="573.8" y1="276.4" x2="583.8" y2="276.4" stroke="#fc5a2d" stroke-width="1.65" />
<line x1="593.9" y1="177.6" x2="593.9" y2="217.8" stroke="#fc5a2d" stroke-width="1.65" />
<line x1="588.9" y1="177.6" x2="598.9" y2="177.6" stroke="#fc5a2d" stroke-width="1.65" />
<line x1="588.9" y1="217.8" x2="598.9" y2="217.8" stroke="#fc5a2d" stroke-width="1.65" />
<line x1="610.1" y1="133" x2="610.1" y2="172.9" stroke="#fc5a2d" stroke-width="1.65" />
<line x1="605.1" y1="133" x2="615.1" y2="133" stroke="#fc5a2d" stroke-width="1.65" />
<line x1="605.1" y1="172.9" x2="615.1" y2="172.9" stroke="#fc5a2d" stroke-width="1.65" />
<line x1="627.5" y1="96.9" x2="627.5" y2="136.8" stroke="#fc5a2d" stroke-width="1.65" />
<line x1="622.5" y1="96.9" x2="632.5" y2="96.9" stroke="#fc5a2d" stroke-width="1.65" />
<line x1="622.5" y1="136.8" x2="632.5" y2="136.8" stroke="#fc5a2d" stroke-width="1.65" />
<circle cx="560.6" cy="279.5" r="3.95" fill="#fff" stroke="#fc5a2d" stroke-width="1.8"/>
<circle cx="578.8" cy="262.1" r="3.95" fill="#fff" stroke="#fc5a2d" stroke-width="1.8"/>
<circle cx="593.9" cy="196.8" r="3.95" fill="#fff" stroke="#fc5a2d" stroke-width="1.8"/>
<circle cx="610.1" cy="152.3" r="3.95" fill="#fff" stroke="#fc5a2d" stroke-width="1.8"/>
<circle cx="627.5" cy="116.4" r="3.95" fill="#fff" stroke="#fc5a2d" stroke-width="1.8"/>
<polyline points="558.6,285.5 558.92,285.11 559.35,284.64 560.08,283.57 561.3,281.4 561.61,280.81 561.95,280.16 562.32,279.44 562.72,278.66 563.15,277.84 563.59,276.96 564.05,276.05 564.53,275.11 565.02,274.13 565.52,273.14 566.03,272.12 566.54,271.1 567.06,270.07 567.57,269.05 568.08,268.03 568.58,267.02 569.08,266.04 569.56,265.08 570.02,264.15 570.47,263.25 570.9,262.4 571.41,261.39 571.91,260.41 572.4,259.44 572.88,258.5 573.35,257.57 573.81,256.66 574.27,255.75 574.73,254.85 575.18,253.96 575.63,253.07 576.08,252.17 576.53,251.27 576.98,250.37 577.43,249.45 577.88,248.52 578.34,247.57 578.8,246.6 579.22,245.72 579.63,244.85 580.05,243.98 580.46,243.1 580.88,242.22 581.29,241.34 581.71,240.45 582.12,239.56 582.54,238.66 582.95,237.76 583.37,236.84 583.78,235.92 584.2,234.99 584.61,234.04 585.03,233.08 585.45,232.11 585.86,231.12 586.28,230.12 586.7,229.1 587.05,228.24 587.39,227.37 587.74,226.48 588.09,225.58 588.44,224.67 588.79,223.74 589.14,222.81 589.49,221.87 589.84,220.92 590.19,219.96 590.54,219 590.89,218.04 591.24,217.07 591.59,216.1 591.94,215.13 592.28,214.16 592.63,213.2 592.98,212.23 593.33,211.27 593.67,210.32 594.01,209.37 594.36,208.43 594.7,207.5 595.06,206.53 595.41,205.56 595.77,204.59 596.13,203.62 596.48,202.65 596.84,201.68 597.2,200.7 597.55,199.74 597.91,198.77 598.26,197.8 598.61,196.84 598.96,195.88 599.31,194.92 599.66,193.96 600.01,193.01 600.36,192.07 600.7,191.13 601.05,190.19 601.39,189.26 601.73,188.33 602.06,187.41 602.4,186.5 602.77,185.51 603.13,184.53 603.49,183.56 603.84,182.61 604.19,181.66 604.55,180.73 604.89,179.79 605.24,178.87 605.59,177.94 605.93,177.02 606.28,176.1 606.62,175.17 606.96,174.24 607.31,173.31 607.65,172.36 608,171.42 608.35,170.46 608.7,169.48 609.05,168.5 609.4,167.5 609.72,166.58 610.05,165.67 610.37,164.75 610.7,163.83 611.02,162.91 611.35,161.98 611.68,161.05 612,160.12 612.33,159.18 612.66,158.23 612.99,157.28 613.32,156.32 613.64,155.36 613.97,154.38 614.3,153.4 614.63,152.4 614.96,151.4 615.29,150.38 615.62,149.36 615.94,148.32 616.27,147.27 616.6,146.2 616.88,145.28 617.16,144.33 617.45,143.35 617.75,142.36 618.04,141.34 618.34,140.31 618.64,139.26 618.94,138.21 619.24,137.14 619.54,136.07 619.84,134.99 620.14,133.92 620.44,132.84 620.73,131.77 621.02,130.71 621.31,129.66 621.59,128.62 621.86,127.6 622.13,126.6 622.4,125.61 622.65,124.65 622.9,123.72 623.14,122.81 623.37,121.94 623.59,121.1 623.8,120.3 624.14,118.96 624.47,117.66 624.78,116.39 625.07,115.17 625.34,114 625.6,112.87 625.84,111.8 626.06,110.78 626.27,109.82 626.46,108.93 626.64,108.1 626.8,107.34 626.95,106.65 627.08,106.03 627.2,105.5" fill="none" stroke="#fc5a2d" stroke-width="1.9" stroke-linejoin="round" stroke-linecap="round" />
<line x1="420.9" y1="257.6" x2="420.9" y2="297" stroke="#0f88d5" stroke-width="1.65" />
<line x1="415.9" y1="257.6" x2="425.9" y2="257.6" stroke="#0f88d5" stroke-width="1.65" />
<line x1="415.9" y1="297" x2="425.9" y2="297" stroke="#0f88d5" stroke-width="1.65" />
<line x1="426.2" y1="241.8" x2="426.2" y2="293.1" stroke="#0f88d5" stroke-width="1.65" />
<line x1="421.2" y1="241.8" x2="431.2" y2="241.8" stroke="#0f88d5" stroke-width="1.65" />
<line x1="421.2" y1="293.1" x2="431.2" y2="293.1" stroke="#0f88d5" stroke-width="1.65" />
<line x1="433.1" y1="214.4" x2="433.1" y2="266.8" stroke="#0f88d5" stroke-width="1.65" />
<line x1="428.1" y1="214.4" x2="438.1" y2="214.4" stroke="#0f88d5" stroke-width="1.65" />
<line x1="428.1" y1="266.8" x2="438.1" y2="266.8" stroke="#0f88d5" stroke-width="1.65" />
<line x1="441.8" y1="188.8" x2="441.8" y2="238.9" stroke="#0f88d5" stroke-width="1.65" />
<line x1="436.8" y1="188.8" x2="446.8" y2="188.8" stroke="#0f88d5" stroke-width="1.65" />
<line x1="436.8" y1="238.9" x2="446.8" y2="238.9" stroke="#0f88d5" stroke-width="1.65" />
<line x1="450.4" y1="161.5" x2="450.4" y2="211.5" stroke="#0f88d5" stroke-width="1.65" />
<line x1="445.4" y1="161.5" x2="455.4" y2="161.5" stroke="#0f88d5" stroke-width="1.65" />
<line x1="445.4" y1="211.5" x2="455.4" y2="211.5" stroke="#0f88d5" stroke-width="1.65" />
<circle cx="420.9" cy="279.6" r="3.95" fill="#fff" stroke="#0f88d5" stroke-width="1.8"/>
<circle cx="426.2" cy="266.6" r="3.95" fill="#fff" stroke="#0f88d5" stroke-width="1.8"/>
<circle cx="433.1" cy="239.6" r="3.95" fill="#fff" stroke="#0f88d5" stroke-width="1.8"/>
<circle cx="441.8" cy="213" r="3.95" fill="#fff" stroke="#0f88d5" stroke-width="1.8"/>
<circle cx="450.4" cy="186.4" r="3.95" fill="#fff" stroke="#0f88d5" stroke-width="1.8"/>
<polyline points="408.2,273.6 408.93,273.47 409.95,273.29 411.15,273.06 412.41,272.8 413.6,272.5 414.57,272.21 415.59,271.89 416.61,271.54 417.61,271.17 418.56,270.79 419.4,270.4 420.45,269.85 421.34,269.31 422.15,268.66 423,267.8 423.6,267.07 424.2,266.25 424.8,265.34 425.4,264.39 426,263.4 426.6,262.4 427.11,261.54 427.63,260.66 428.14,259.76 428.66,258.84 429.17,257.89 429.69,256.91 430.2,255.9 430.65,254.99 431.1,254.06 431.55,253.11 432,252.14 432.45,251.14 432.9,250.12 433.35,249.07 433.8,248 434.16,247.11 434.52,246.19 434.88,245.25 435.24,244.29 435.59,243.32 435.95,242.34 436.31,241.36 436.67,240.39 437.04,239.44 437.4,238.5 437.8,237.53 438.21,236.65 438.61,235.81 439.02,234.99 439.42,234.12 439.83,233.19 440.25,232.13 440.67,230.91 441.1,229.5 441.32,228.71 441.54,227.89 441.76,227.02 441.99,226.11 442.22,225.17 442.45,224.2 442.68,223.2 442.92,222.18 443.15,221.12 443.38,220.05 443.62,218.96 443.85,217.85 444.08,216.73 444.31,215.6 444.54,214.45 444.76,213.31 444.98,212.15 445.2,211 445.37,210.09 445.54,209.16 445.7,208.22 445.87,207.27 446.03,206.3 446.2,205.32 446.36,204.33 446.52,203.33 446.68,202.33 446.84,201.31 447,200.29 447.16,199.27 447.32,198.24 447.48,197.21 447.64,196.18 447.79,195.14 447.95,194.11 448.11,193.08 448.27,192.06 448.43,191.03 448.58,190.02 448.74,189 448.9,188 449.06,187 449.22,186.01 449.37,185.02 449.53,184.04 449.69,183.06 449.84,182.08 450,181.1 450.15,180.12 450.31,179.14 450.46,178.16 450.62,177.18 450.77,176.2 450.93,175.21 451.08,174.22 451.24,173.22 451.39,172.22 451.55,171.21 451.71,170.2 451.86,169.18 452.02,168.15 452.18,167.11 452.34,166.06 452.5,165 452.64,164.06 452.79,163.12 452.93,162.18 453.07,161.24 453.22,160.29 453.36,159.35 453.5,158.4 453.65,157.45 453.79,156.5 453.94,155.54 454.08,154.57 454.23,153.6 454.38,152.62 454.52,151.64 454.67,150.65 454.81,149.65 454.96,148.64 455.11,147.61 455.26,146.58 455.41,145.54 455.55,144.48 455.7,143.42 455.85,142.33 456,141.24 456.15,140.13 456.3,139 456.42,138.09 456.54,137.13 456.67,136.14 456.8,135.11 456.93,134.06 457.07,132.98 457.21,131.88 457.34,130.75 457.48,129.61 457.63,128.46 457.77,127.3 457.91,126.13 458.05,124.95 458.19,123.78 458.33,122.61 458.47,121.45 458.61,120.3 458.74,119.16 458.87,118.04 459,116.94 459.13,115.86 459.26,114.81 459.38,113.8 459.49,112.81 459.6,111.86 459.71,110.95 459.81,110.09 459.91,109.27 460,108.5 460.09,107.79 460.16,107.13 460.24,106.53 460.3,106" fill="none" stroke="#0f88d5" stroke-width="1.9" stroke-linejoin="round" stroke-linecap="round" />
</g>
<line x1="404.5" y1="279.5" x2="409" y2="279.5" stroke="#000" stroke-width="1.0" />
<line x1="404.5" y1="266.18" x2="406.8" y2="266.18" stroke="#000" stroke-width="1.0" />
<line x1="404.5" y1="252.86" x2="406.8" y2="252.86" stroke="#000" stroke-width="1.0" />
<line x1="404.5" y1="239.54" x2="406.8" y2="239.54" stroke="#000" stroke-width="1.0" />
<line x1="404.5" y1="226.22" x2="406.8" y2="226.22" stroke="#000" stroke-width="1.0" />
<line x1="404.5" y1="212.9" x2="406.8" y2="212.9" stroke="#000" stroke-width="1.0" />
<line x1="404.5" y1="199.58" x2="406.8" y2="199.58" stroke="#000" stroke-width="1.0" />
<line x1="404.5" y1="186.26" x2="406.8" y2="186.26" stroke="#000" stroke-width="1.0" />
<line x1="404.5" y1="172.94" x2="406.8" y2="172.94" stroke="#000" stroke-width="1.0" />
<line x1="404.5" y1="159.62" x2="406.8" y2="159.62" stroke="#000" stroke-width="1.0" />
<line x1="404.5" y1="146.3" x2="409" y2="146.3" stroke="#000" stroke-width="1.0" />
<line x1="404.5" y1="132.98" x2="406.8" y2="132.98" stroke="#000" stroke-width="1.0" />
<line x1="404.5" y1="119.66" x2="406.8" y2="119.66" stroke="#000" stroke-width="1.0" />
<line x1="404.5" y1="106.34" x2="406.8" y2="106.34" stroke="#000" stroke-width="1.0" />
<line x1="404.5" y1="93.02" x2="406.8" y2="93.02" stroke="#000" stroke-width="1.0" />
<line x1="404.5" y1="79.7" x2="406.8" y2="79.7" stroke="#000" stroke-width="1.0" />
<line x1="404.5" y1="66.38" x2="406.8" y2="66.38" stroke="#000" stroke-width="1.0" />
<line x1="404.5" y1="53.06" x2="406.8" y2="53.06" stroke="#000" stroke-width="1.0" />
<text transform="translate(398.2 153.9) scale(1 1.03)" font-size="22" text-anchor="end" fill="#000" >1</text>
<text transform="translate(398.6 287.1) scale(1 1.03)" font-size="22" text-anchor="end" fill="#000" >0</text>
<line x1="563" y1="293.3" x2="563" y2="291" stroke="#000" stroke-width="1.0" />
<line x1="604.2" y1="293.3" x2="604.2" y2="288.3" stroke="#000" stroke-width="1.0" />
<line x1="633.09" y1="293.3" x2="633.09" y2="291" stroke="#000" stroke-width="1.0" />
<text transform="translate(405.3 316.9) scale(1 1.03)" font-size="22" text-anchor="middle" fill="#000" >0</text>
<text transform="translate(605.2 316.9) scale(1 1.03)" font-size="22" text-anchor="middle" fill="#000" >500</text>
<text transform="translate(657.6 316.9) scale(1 1.03)" font-size="22" text-anchor="middle" fill="#000" >1000</text>
<text transform="translate(483 344.2) scale(1 1.03)" font-size="22" text-anchor="start" fill="#000" >N<tspan font-size="15.5" dy="4.7">eff</tspan><tspan dy="-4.7" dx="4.4">(<tspan font-family="Liberation Serif">μ</tspan>m</tspan><tspan font-size="14.5" dy="-8.4">-2</tspan><tspan dy="8.4">)</tspan></text>
<text transform="translate(380.7 157.8) rotate(-90) scale(1 1.03)" font-size="22" text-anchor="middle" fill="#000" ><tspan font-family="Liberation Serif">Δ</tspan>E (meV)</text>
<circle cx="424" cy="55.2" r="3.8" fill="none" stroke="#0f88d5" stroke-width="1.9"/>
<text transform="translate(449.5 62.6) scale(1 1.03)" font-size="21" text-anchor="start" fill="#000" ><tspan font-family="Liberation Serif">Δ</tspan>E</text>
<text transform="translate(476.66 54) scale(1 1.03)" font-size="15.5" text-anchor="start" fill="#000" >sat-BB</text>
<text transform="translate(476.66 68.9) scale(1 1.03)" font-size="15.5" text-anchor="start" fill="#000" >2s-2s</text>
<circle cx="424" cy="89.9" r="3.8" fill="none" stroke="#fc5a2d" stroke-width="1.9"/>
<text transform="translate(449.5 97.3) scale(1 1.03)" font-size="21" text-anchor="start" fill="#000" ><tspan font-family="Liberation Serif">Δ</tspan>E</text>
<text transform="translate(476.66 88.7) scale(1 1.03)" font-size="15.5" text-anchor="start" fill="#000" >sat-BB</text>
<text transform="translate(476.66 103.6) scale(1 1.03)" font-size="15.5" text-anchor="start" fill="#000" >1s-1s</text>
<circle cx="553.7" cy="54.9" r="3.8" fill="none" stroke="#4ccdaa" stroke-width="1.9"/>
<text transform="translate(579.4 62.6) scale(1 1.03)" font-size="21" text-anchor="start" fill="#000" ><tspan font-family="Liberation Serif">Δ</tspan>E</text>
<text transform="translate(606.56 54) scale(1 1.03)" font-size="15.5" text-anchor="start" fill="#000" >sat-NB</text>
<text transform="translate(606.56 68.9) scale(1 1.03)" font-size="15.5" text-anchor="start" fill="#000" >1s-1s</text>
<text transform="translate(367 17.6) scale(1.08 1.03)" font-size="33" text-anchor="start" fill="#000" >c</text>
<clipPath id="clipd"><rect x="405.1" y="384.2" width="251.4" height="253.1"/></clipPath>
<g clip-path="url(#clipd)">
<polyline points="405,628 405.64,627.99 406.52,627.99 407.57,627.98 408.75,627.92 410,627.8 410.95,627.67 411.99,627.5 413.09,627.32 414.22,627.1 415.37,626.88 416.5,626.64 417.6,626.4 418.67,626.16 419.74,625.92 420.81,625.67 421.87,625.4 422.92,625.11 423.97,624.77 425,624.4 426.01,623.98 427,623.53 427.98,623.04 428.95,622.52 429.94,621.98 430.95,621.4 432,620.8 432.85,620.3 433.73,619.77 434.63,619.21 435.54,618.64 436.46,618.05 437.37,617.47 438.27,616.89 439.15,616.33 440,615.8 440.94,615.24 441.87,614.72 442.79,614.21 443.69,613.71 444.57,613.21 445.41,612.68 446.23,612.11 447,611.5 447.82,610.75 448.57,609.98 449.28,609.18 449.96,608.34 450.63,607.45 451.3,606.5 452,605.5 452.55,604.69 453.09,603.86 453.63,603 454.17,602.11 454.71,601.19 455.26,600.22 455.82,599.21 456.4,598.13 457,597 457.43,596.17 457.87,595.3 458.33,594.39 458.79,593.45 459.26,592.48 459.74,591.5 460.21,590.5 460.69,589.49 461.17,588.48 461.64,587.47 462.1,586.46 462.56,585.47 463,584.5 463.44,583.54 463.88,582.57 464.32,581.59 464.76,580.62 465.2,579.65 465.64,578.67 466.06,577.7 466.48,576.73 466.89,575.77 467.29,574.82 467.67,573.87 468.05,572.93 468.4,572 468.76,571.01 469.1,570.03 469.42,569.05 469.72,568.09 470.01,567.14 470.29,566.19 470.56,565.24 470.84,564.3 471.11,563.35 471.4,562.41 471.69,561.46 472,560.5 472.32,559.54 472.66,558.57 473,557.59 473.34,556.61 473.69,555.63 474.04,554.66 474.38,553.69 474.73,552.72 475.06,551.77 475.39,550.83 475.7,549.91 476,549 476.34,547.94 476.67,546.9 476.99,545.87 477.3,544.87 477.59,543.88 477.88,542.89 478.17,541.92 478.45,540.94 478.72,539.97 479,539 479.3,537.94 479.59,536.91 479.87,535.91 480.15,534.91 480.42,533.9 480.69,532.87 480.95,531.8 481.22,530.68 481.5,529.5 481.71,528.58 481.92,527.64 482.12,526.69 482.33,525.72 482.54,524.73 482.75,523.72 482.96,522.68 483.17,521.61 483.38,520.51 483.58,519.38 483.79,518.21 484,517 484.15,516.13 484.29,515.24 484.43,514.33 484.57,513.42 484.7,512.48 484.84,511.53 484.98,510.57 485.12,509.59 485.26,508.59 485.4,507.58 485.54,506.55 485.69,505.5 485.84,504.44 486,503.36 486.16,502.26 486.33,501.14 486.5,500 486.64,499.1 486.78,498.17 486.93,497.22 487.08,496.25 487.23,495.26 487.38,494.25 487.54,493.23 487.7,492.2 487.86,491.16 488.02,490.11 488.19,489.06 488.35,488.01 488.52,486.96 488.69,485.92 488.85,484.88 489.02,483.85 489.18,482.83 489.35,481.82 489.51,480.84 489.68,479.87 489.84,478.92 490,478 490.19,476.9 490.39,475.81 490.58,474.74 490.78,473.68 490.97,472.64 491.16,471.61 491.36,470.59 491.55,469.58 491.74,468.59 491.94,467.6 492.13,466.63 492.33,465.66 492.52,464.7 492.72,463.75 492.91,462.8 493.11,461.86 493.3,460.93 493.5,460 493.74,458.87 494,457.7 494.27,456.51 494.55,455.31 494.83,454.1 495.11,452.91 495.38,451.75 495.65,450.61 495.91,449.53 496.16,448.5 496.4,447.53 496.61,446.65 496.8,445.86 496.96,445.17 497.1,444.6" fill="none" stroke="#0f88d5" stroke-width="2.1" stroke-linejoin="round" stroke-linecap="round" />
<polyline points="405,627.6 405.64,627.6 406.52,627.61 407.57,627.6 408.75,627.55 410,627.4 410.95,627.23 411.99,627.03 413.09,626.79 414.23,626.52 415.37,626.23 416.51,625.92 417.6,625.6 418.66,625.27 419.71,624.91 420.75,624.54 421.79,624.15 422.82,623.75 423.86,623.33 424.9,622.9 425.82,622.51 426.76,622.12 427.7,621.71 428.64,621.29 429.57,620.86 430.48,620.42 431.36,619.97 432.2,619.5 433.11,618.96 433.96,618.42 434.78,617.87 435.58,617.29 436.37,616.68 437.17,616.02 438,615.3 438.75,614.61 439.53,613.87 440.32,613.08 441.11,612.26 441.89,611.43 442.64,610.6 443.34,609.79 444,609 444.68,608.15 445.29,607.34 445.85,606.54 446.39,605.73 446.92,604.89 447.45,603.99 448,603 448.44,602.18 448.89,601.33 449.33,600.44 449.78,599.53 450.22,598.59 450.67,597.61 451.11,596.6 451.56,595.57 452,594.5 452.36,593.59 452.73,592.63 453.09,591.64 453.45,590.62 453.82,589.58 454.18,588.54 454.55,587.49 454.91,586.46 455.27,585.44 455.64,584.45 456,583.5 456.4,582.49 456.8,581.52 457.2,580.57 457.6,579.64 458,578.72 458.4,577.8 458.8,576.88 459.2,575.94 459.6,574.98 460,574 460.36,573.09 460.73,572.19 461.09,571.28 461.45,570.36 461.82,569.44 462.18,568.5 462.55,567.54 462.91,566.57 463.27,565.57 463.64,564.55 464,563.5 464.31,562.59 464.62,561.66 464.92,560.72 465.23,559.77 465.54,558.8 465.85,557.81 466.15,556.81 466.46,555.8 466.77,554.77 467.08,553.72 467.38,552.66 467.69,551.59 468,550.5 468.25,549.6 468.5,548.68 468.75,547.75 469,546.8 469.25,545.84 469.5,544.87 469.75,543.89 470,542.91 470.25,541.92 470.5,540.92 470.75,539.93 471,538.93 471.25,537.94 471.5,536.95 471.75,535.97 472,535 472.25,534.04 472.5,533.09 472.75,532.15 473,531.22 473.25,530.29 473.5,529.36 473.75,528.43 474,527.5 474.25,526.56 474.5,525.61 474.75,524.64 475,523.66 475.25,522.65 475.5,521.63 475.75,520.58 476,519.5 476.21,518.57 476.42,517.64 476.63,516.69 476.84,515.74 477.05,514.77 477.26,513.79 477.47,512.8 477.68,511.8 477.89,510.79 478.11,509.77 478.32,508.73 478.53,507.69 478.74,506.63 478.95,505.56 479.16,504.47 479.37,503.37 479.58,502.26 479.79,501.14 480,500 480.17,499.09 480.33,498.18 480.5,497.27 480.66,496.35 480.82,495.42 480.99,494.49 481.15,493.55 481.31,492.61 481.47,491.65 481.64,490.69 481.8,489.72 481.96,488.74 482.13,487.75 482.29,486.75 482.46,485.74 482.62,484.71 482.79,483.68 482.96,482.63 483.13,481.56 483.3,480.48 483.47,479.38 483.65,478.27 483.82,477.15 484,476 484.14,475.08 484.29,474.12 484.44,473.12 484.6,472.08 484.76,471.01 484.92,469.91 485.09,468.79 485.26,467.65 485.43,466.49 485.6,465.31 485.77,464.13 485.95,462.94 486.12,461.75 486.29,460.57 486.47,459.39 486.63,458.22 486.8,457.06 486.97,455.93 487.13,454.81 487.28,453.72 487.44,452.67 487.58,451.64 487.72,450.66 487.86,449.71 487.99,448.81 488.11,447.96 488.23,447.17 488.33,446.43 488.43,445.75 488.52,445.14 488.6,444.6" fill="none" stroke="#0f88d5" stroke-width="2.1" stroke-linejoin="round" stroke-linecap="round" />
<polygon points="405.5,619.3 410.8,624.6 405.5,629.9 400.2,624.6" fill="none" stroke="#0f88d5" stroke-width="1.8" stroke-linejoin="miter"/>
<polygon points="438.3,610.7 443.6,616 438.3,621.3 433,616" fill="none" stroke="#0f88d5" stroke-width="1.8" stroke-linejoin="miter"/>
<polygon points="446.8,607.1 452.1,612.4 446.8,617.7 441.5,612.4" fill="none" stroke="#0f88d5" stroke-width="1.8" stroke-linejoin="miter"/>
<polygon points="456.6,591.7 461.9,597 456.6,602.3 451.3,597" fill="none" stroke="#0f88d5" stroke-width="1.8" stroke-linejoin="miter"/>
<polygon points="463.3,578.1 468.6,583.4 463.3,588.7 458,583.4" fill="none" stroke="#0f88d5" stroke-width="1.8" stroke-linejoin="miter"/>
<polygon points="468.4,566.4 473.7,571.7 468.4,577 463.1,571.7" fill="none" stroke="#0f88d5" stroke-width="1.8" stroke-linejoin="miter"/>
<polygon points="472.1,555 477.4,560.3 472.1,565.6 466.8,560.3" fill="none" stroke="#0f88d5" stroke-width="1.8" stroke-linejoin="miter"/>
<polygon points="475.9,543.8 481.2,549.1 475.9,554.4 470.6,549.1" fill="none" stroke="#0f88d5" stroke-width="1.8" stroke-linejoin="miter"/>
<polygon points="479,533.7 484.3,539 479,544.3 473.7,539" fill="none" stroke="#0f88d5" stroke-width="1.8" stroke-linejoin="miter"/>
<polygon points="480.9,524.7 486.2,530 480.9,535.3 475.6,530" fill="none" stroke="#0f88d5" stroke-width="1.8" stroke-linejoin="miter"/>
<circle cx="405.2" cy="624.5" r="4.2" fill="none" stroke="#0f88d5" stroke-width="1.8"/>
<circle cx="437.9" cy="615.2" r="4.2" fill="none" stroke="#0f88d5" stroke-width="1.8"/>
<circle cx="447.8" cy="603" r="4.2" fill="none" stroke="#0f88d5" stroke-width="1.8"/>
<circle cx="455.3" cy="583.4" r="4.2" fill="none" stroke="#0f88d5" stroke-width="1.8"/>
<circle cx="462.2" cy="568.9" r="4.2" fill="none" stroke="#0f88d5" stroke-width="1.8"/>
<circle cx="466.9" cy="554.3" r="4.2" fill="none" stroke="#0f88d5" stroke-width="1.8"/>
<circle cx="471.5" cy="533.7" r="4.2" fill="none" stroke="#0f88d5" stroke-width="1.8"/>
<circle cx="475.9" cy="519.7" r="4.2" fill="none" stroke="#0f88d5" stroke-width="1.8"/>
<polyline points="405,624.7 405.53,624.67 406.1,624.64 406.72,624.61 407.39,624.58 408.11,624.54 408.86,624.51 409.66,624.47 410.49,624.43 411.36,624.39 412.26,624.35 413.2,624.31 414.16,624.26 415.16,624.21 416.18,624.17 417.22,624.12 418.29,624.07 419.38,624.02 420.48,623.97 421.6,623.91 422.74,623.86 423.88,623.8 425.04,623.75 426.21,623.69 427.38,623.63 428.56,623.57 429.74,623.51 430.92,623.45 432.1,623.39 433.27,623.33 434.44,623.27 435.61,623.21 436.76,623.14 437.9,623.08 439.03,623.02 440.14,622.95 441.24,622.89 442.32,622.82 443.37,622.76 444.4,622.69 445.41,622.63 446.39,622.56 447.34,622.5 448.26,622.43 449.15,622.37 450,622.3 451.23,622.2 452.44,622.11 453.61,622.01 454.76,621.92 455.88,621.82 456.98,621.73 458.06,621.64 459.11,621.54 460.15,621.45 461.16,621.36 462.16,621.26 463.15,621.16 464.12,621.06 465.08,620.96 466.03,620.86 466.96,620.75 467.9,620.64 468.82,620.53 469.74,620.41 470.66,620.29 471.58,620.16 472.49,620.03 473.41,619.9 474.33,619.76 475.25,619.62 476.19,619.47 477.12,619.31 478.07,619.15 479.03,618.98 480,618.8 481.01,618.61 482.02,618.42 483.04,618.23 484.05,618.03 485.06,617.83 486.07,617.63 487.09,617.42 488.1,617.21 489.11,616.99 490.12,616.77 491.12,616.55 492.13,616.32 493.13,616.09 494.13,615.85 495.13,615.6 496.12,615.35 497.11,615.1 498.1,614.83 499.08,614.56 500.06,614.29 501.03,614.01 502,613.72 502.96,613.43 503.92,613.12 504.87,612.81 505.81,612.5 506.75,612.17 507.68,611.84 508.6,611.5 509.59,611.12 510.57,610.73 511.56,610.32 512.54,609.9 513.52,609.47 514.5,609.03 515.47,608.58 516.44,608.11 517.4,607.64 518.36,607.17 519.32,606.68 520.26,606.19 521.2,605.7 522.13,605.2 523.06,604.7 523.97,604.2 524.88,603.69 525.77,603.19 526.66,602.69 527.53,602.18 528.4,601.69 529.25,601.19 530.09,600.7 530.91,600.21 531.72,599.74 532.52,599.26 533.3,598.8 534.33,598.18 535.33,597.57 536.31,596.95 537.26,596.34 538.19,595.73 539.1,595.13 539.98,594.52 540.85,593.92 541.7,593.31 542.54,592.71 543.36,592.11 544.17,591.51 544.97,590.91 545.76,590.31 546.54,589.71 547.32,589.11 548.09,588.51 548.86,587.91 549.63,587.3 550.4,586.7 551.25,586.02 552.09,585.34 552.92,584.65 553.73,583.96 554.54,583.27 555.34,582.57 556.12,581.88 556.9,581.19 557.66,580.49 558.42,579.81 559.16,579.12 559.9,578.45 560.62,577.78 561.34,577.12 562.04,576.47 562.74,575.83 563.42,575.21 564.1,574.6 564.95,573.84 565.77,573.12 566.58,572.42 567.36,571.75 568.12,571.09 568.87,570.44 569.6,569.8 570.32,569.16 571.04,568.51 571.75,567.85 572.46,567.18 573.17,566.48 573.88,565.76 574.6,565 575.27,564.26 575.94,563.49 576.61,562.7 577.28,561.9 577.94,561.07 578.6,560.23 579.25,559.39 579.9,558.55 580.54,557.7 581.19,556.86 581.82,556.03 582.45,555.22 583.07,554.42 583.69,553.65 584.3,552.9 584.99,552.07 585.68,551.26 586.36,550.47 587.02,549.7 587.68,548.95 588.34,548.2 588.99,547.46 589.63,546.73 590.27,546 590.9,545.26 591.54,544.52 592.17,543.77 592.8,543 593.49,542.16 594.18,541.3 594.88,540.43 595.58,539.56 596.27,538.69 596.96,537.82 597.63,536.95 598.29,536.09 598.93,535.24 599.55,534.41 600.14,533.59 600.7,532.8 601.31,531.9 601.86,531.06 602.35,530.27 602.81,529.5 603.25,528.73 603.7,527.94 604.17,527.12 604.68,526.23 605.25,525.27 605.9,524.2 606.35,523.48 606.82,522.72 607.32,521.93 607.83,521.11 608.36,520.27 608.91,519.41 609.47,518.52 610.04,517.63 610.61,516.72 611.19,515.8 611.77,514.87 612.35,513.95 612.92,513.03 613.49,512.11 614.05,511.2 614.6,510.3 615.14,509.41 615.68,508.52 616.22,507.62 616.76,506.72 617.29,505.82 617.83,504.92 618.37,504.01 618.91,503.11 619.44,502.19 619.98,501.28 620.52,500.36 621.05,499.44 621.59,498.51 622.13,497.58 622.66,496.64 623.2,495.7 623.71,494.81 624.21,493.92 624.72,493.03 625.22,492.13 625.73,491.24 626.23,490.34 626.74,489.43 627.24,488.52 627.75,487.61 628.25,486.69 628.76,485.77 629.26,484.84 629.77,483.91 630.28,482.97 630.78,482.02 631.29,481.06 631.8,480.1 632.26,479.23 632.72,478.34 633.18,477.45 633.65,476.55 634.12,475.64 634.59,474.72 635.06,473.8 635.53,472.87 636,471.94 636.47,471.01 636.94,470.08 637.4,469.15 637.86,468.23 638.32,467.3 638.77,466.39 639.21,465.48 639.65,464.57 640.08,463.68 640.5,462.8 640.97,461.8 641.46,460.76 641.95,459.69 642.45,458.61 642.95,457.51 643.44,456.41 643.93,455.32 644.41,454.25 644.87,453.2 645.32,452.18 645.75,451.21 646.16,450.29 646.53,449.44 646.88,448.65 647.19,447.94 647.47,447.32 647.7,446.8" fill="none" stroke="#fc5a2d" stroke-width="2.2" stroke-linejoin="round" stroke-linecap="round" />
<polyline points="405,624.7 405.53,624.67 406.11,624.64 406.74,624.6 407.42,624.57 408.14,624.53 408.91,624.49 409.72,624.45 410.57,624.41 411.46,624.36 412.38,624.32 413.33,624.27 414.31,624.22 415.32,624.17 416.36,624.12 417.42,624.06 418.5,624.01 419.6,623.95 420.72,623.89 421.85,623.83 422.99,623.76 424.14,623.7 425.3,623.63 426.46,623.56 427.63,623.49 428.8,623.42 429.96,623.35 431.12,623.27 432.28,623.19 433.43,623.12 434.56,623.03 435.69,622.95 436.79,622.87 437.88,622.78 438.95,622.69 440,622.6 440.99,622.51 441.99,622.43 443,622.34 444.02,622.26 445.06,622.17 446.1,622.09 447.16,622 448.22,621.92 449.28,621.83 450.36,621.74 451.43,621.65 452.51,621.56 453.59,621.47 454.67,621.37 455.76,621.28 456.84,621.18 457.92,621.08 458.99,620.98 460.07,620.87 461.13,620.76 462.2,620.65 463.25,620.54 464.3,620.42 465.33,620.3 466.36,620.17 467.37,620.04 468.38,619.91 469.37,619.77 470.34,619.63 471.3,619.48 472.25,619.33 473.17,619.17 474.08,619.01 474.97,618.84 475.83,618.67 476.68,618.49 477.5,618.3 478.73,618 479.92,617.68 481.07,617.35 482.18,617 483.26,616.63 484.31,616.25 485.33,615.87 486.31,615.47 487.28,615.06 488.22,614.64 489.13,614.22 490.03,613.79 490.91,613.35 491.77,612.92 492.62,612.47 493.46,612.03 494.29,611.59 495.11,611.15 495.93,610.71 496.74,610.28 497.55,609.85 498.37,609.43 499.18,609.01 500,608.6 501.03,608.09 502.03,607.59 503.02,607.09 503.98,606.59 504.93,606.1 505.85,605.61 506.77,605.12 507.66,604.62 508.55,604.13 509.42,603.63 510.29,603.13 511.14,602.63 511.99,602.12 512.83,601.6 513.67,601.08 514.5,600.55 515.33,600.01 516.17,599.46 517,598.9 517.88,598.3 518.74,597.69 519.59,597.08 520.44,596.47 521.28,595.84 522.11,595.21 522.93,594.58 523.75,593.94 524.56,593.29 525.36,592.63 526.16,591.97 526.96,591.3 527.75,590.62 528.54,589.93 529.33,589.24 530.12,588.53 530.91,587.82 531.7,587.1 532.45,586.41 533.19,585.7 533.93,584.98 534.67,584.25 535.4,583.52 536.13,582.77 536.86,582.02 537.59,581.26 538.31,580.49 539.04,579.72 539.75,578.95 540.47,578.18 541.18,577.4 541.89,576.63 542.6,575.85 543.3,575.08 544,574.32 544.7,573.56 545.4,572.8 546.09,572.05 546.78,571.3 547.47,570.55 548.16,569.8 548.84,569.05 549.53,568.3 550.2,567.56 550.88,566.81 551.55,566.06 552.22,565.31 552.89,564.56 553.55,563.81 554.21,563.06 554.87,562.31 555.52,561.55 556.17,560.79 556.82,560.03 557.46,559.27 558.1,558.5 558.77,557.69 559.43,556.88 560.09,556.07 560.74,555.26 561.39,554.45 562.04,553.63 562.68,552.82 563.32,552 563.95,551.18 564.58,550.36 565.21,549.53 565.84,548.7 566.47,547.86 567.09,547.02 567.72,546.18 568.35,545.32 568.97,544.47 569.6,543.6 570.19,542.77 570.79,541.94 571.38,541.11 571.97,540.27 572.56,539.42 573.15,538.57 573.73,537.72 574.32,536.86 574.9,536 575.49,535.14 576.07,534.27 576.65,533.39 577.23,532.52 577.81,531.64 578.39,530.76 578.97,529.87 579.55,528.98 580.12,528.09 580.7,527.2 581.25,526.34 581.81,525.46 582.38,524.56 582.96,523.64 583.54,522.72 584.12,521.78 584.7,520.85 585.28,519.91 585.86,518.97 586.43,518.03 587,517.1 587.55,516.19 588.1,515.28 588.64,514.4 589.16,513.53 589.66,512.68 590.15,511.87 590.62,511.08 591.07,510.32 591.5,509.6 592.2,508.4 592.82,507.35 593.37,506.41 593.86,505.55 594.32,504.73 594.76,503.93 595.2,503.12 595.65,502.26 596.14,501.33 596.69,500.28 597.3,499.1 597.69,498.35 598.09,497.58 598.5,496.78 598.93,495.95 599.36,495.1 599.81,494.22 600.26,493.33 600.72,492.42 601.18,491.5 601.65,490.56 602.13,489.61 602.6,488.65 603.08,487.68 603.56,486.7 604.03,485.73 604.51,484.74 604.98,483.76 605.44,482.78 605.9,481.8 606.32,480.91 606.74,480 607.17,479.07 607.6,478.13 608.03,477.18 608.47,476.22 608.91,475.25 609.35,474.27 609.79,473.3 610.23,472.32 610.66,471.34 611.09,470.36 611.51,469.39 611.93,468.42 612.34,467.46 612.75,466.51 613.14,465.58 613.52,464.66 613.9,463.75 614.25,462.87 614.6,462 615.02,460.93 615.43,459.84 615.83,458.73 616.23,457.62 616.62,456.5 617,455.4 617.37,454.3 617.72,453.24 618.06,452.2 618.39,451.2 618.69,450.24 618.98,449.34 619.25,448.5 619.5,447.73 619.72,447.03 619.92,446.42 620.1,445.9" fill="none" stroke="#fc5a2d" stroke-width="2.2" stroke-linejoin="round" stroke-linecap="round" />
<polygon points="508.4,606.2 513.7,611.5 508.4,616.8 503.1,611.5" fill="none" stroke="#fc5a2d" stroke-width="1.8" stroke-linejoin="miter"/>
<polygon points="533.3,593.5 538.6,598.8 533.3,604.1 528,598.8" fill="none" stroke="#fc5a2d" stroke-width="1.8" stroke-linejoin="miter"/>
<polygon points="550.4,581.4 555.7,586.7 550.4,592 545.1,586.7" fill="none" stroke="#fc5a2d" stroke-width="1.8" stroke-linejoin="miter"/>
<polygon points="564.1,569.3 569.4,574.6 564.1,579.9 558.8,574.6" fill="none" stroke="#fc5a2d" stroke-width="1.8" stroke-linejoin="miter"/>
<polygon points="574.6,559.7 579.9,565 574.6,570.3 569.3,565" fill="none" stroke="#fc5a2d" stroke-width="1.8" stroke-linejoin="miter"/>
<polygon points="584.3,547.6 589.6,552.9 584.3,558.2 579,552.9" fill="none" stroke="#fc5a2d" stroke-width="1.8" stroke-linejoin="miter"/>
<polygon points="592.8,537.7 598.1,543 592.8,548.3 587.5,543" fill="none" stroke="#fc5a2d" stroke-width="1.8" stroke-linejoin="miter"/>
<polygon points="600.4,528.3 605.7,533.6 600.4,538.9 595.1,533.6" fill="none" stroke="#fc5a2d" stroke-width="1.8" stroke-linejoin="miter"/>
<circle cx="477.6" cy="618.3" r="4.2" fill="none" stroke="#fc5a2d" stroke-width="1.8"/>
<circle cx="499.8" cy="608.4" r="4.2" fill="none" stroke="#fc5a2d" stroke-width="1.8"/>
<circle cx="517.1" cy="598.8" r="4.2" fill="none" stroke="#fc5a2d" stroke-width="1.8"/>
<circle cx="531.7" cy="587.1" r="4.2" fill="none" stroke="#fc5a2d" stroke-width="1.8"/>
<circle cx="545.4" cy="572.6" r="4.2" fill="none" stroke="#fc5a2d" stroke-width="1.8"/>
<circle cx="558.1" cy="558.5" r="4.2" fill="none" stroke="#fc5a2d" stroke-width="1.8"/>
<circle cx="569.6" cy="543.8" r="4.2" fill="none" stroke="#fc5a2d" stroke-width="1.8"/>
<circle cx="580.7" cy="527.2" r="4.2" fill="none" stroke="#fc5a2d" stroke-width="1.8"/>
<circle cx="591.5" cy="509.6" r="4.2" fill="none" stroke="#fc5a2d" stroke-width="1.8"/>
</g>
<rect x="405.1" y="384.2" width="251.4" height="253.1" fill="none" stroke="#000" stroke-width="1.15"/>
<line x1="405.1" y1="624.7" x2="409.6" y2="624.7" stroke="#000" stroke-width="1.0" />
<line x1="405.1" y1="612.68" x2="407.4" y2="612.68" stroke="#000" stroke-width="1.0" />
<line x1="405.1" y1="600.66" x2="407.4" y2="600.66" stroke="#000" stroke-width="1.0" />
<line x1="405.1" y1="588.64" x2="407.4" y2="588.64" stroke="#000" stroke-width="1.0" />
<line x1="405.1" y1="576.62" x2="407.4" y2="576.62" stroke="#000" stroke-width="1.0" />
<line x1="405.1" y1="564.6" x2="407.4" y2="564.6" stroke="#000" stroke-width="1.0" />
<line x1="405.1" y1="552.58" x2="407.4" y2="552.58" stroke="#000" stroke-width="1.0" />
<line x1="405.1" y1="540.56" x2="407.4" y2="540.56" stroke="#000" stroke-width="1.0" />
<line x1="405.1" y1="528.54" x2="407.4" y2="528.54" stroke="#000" stroke-width="1.0" />
<line x1="405.1" y1="516.52" x2="407.4" y2="516.52" stroke="#000" stroke-width="1.0" />
<line x1="405.1" y1="504.5" x2="409.6" y2="504.5" stroke="#000" stroke-width="1.0" />
<line x1="405.1" y1="492.48" x2="407.4" y2="492.48" stroke="#000" stroke-width="1.0" />
<line x1="405.1" y1="480.46" x2="407.4" y2="480.46" stroke="#000" stroke-width="1.0" />
<line x1="405.1" y1="468.44" x2="407.4" y2="468.44" stroke="#000" stroke-width="1.0" />
<line x1="405.1" y1="456.42" x2="407.4" y2="456.42" stroke="#000" stroke-width="1.0" />
<line x1="405.1" y1="444.4" x2="407.4" y2="444.4" stroke="#000" stroke-width="1.0" />
<line x1="405.1" y1="432.38" x2="407.4" y2="432.38" stroke="#000" stroke-width="1.0" />
<line x1="405.1" y1="420.36" x2="407.4" y2="420.36" stroke="#000" stroke-width="1.0" />
<line x1="405.1" y1="408.34" x2="407.4" y2="408.34" stroke="#000" stroke-width="1.0" />
<line x1="405.1" y1="396.32" x2="407.4" y2="396.32" stroke="#000" stroke-width="1.0" />
<text transform="translate(399.2 391.9) scale(1 1.03)" font-size="22" text-anchor="end" fill="#000" >2</text>
<text transform="translate(398.2 512.1) scale(1 1.03)" font-size="22" text-anchor="end" fill="#000" >1</text>
<text transform="translate(399 632.3) scale(1 1.03)" font-size="22" text-anchor="end" fill="#000" >0</text>
<line x1="563.47" y1="637.3" x2="563.47" y2="635" stroke="#000" stroke-width="1.0" />
<line x1="604.64" y1="637.3" x2="604.64" y2="632.3" stroke="#000" stroke-width="1.0" />
<line x1="633.51" y1="637.3" x2="633.51" y2="635" stroke="#000" stroke-width="1.0" />
<text transform="translate(405.2 660.2) scale(1 1.03)" font-size="22" text-anchor="middle" fill="#000" >0</text>
<text transform="translate(605.6 660.2) scale(1 1.03)" font-size="22" text-anchor="middle" fill="#000" >500</text>
<text transform="translate(658.2 660.2) scale(1 1.03)" font-size="22" text-anchor="middle" fill="#000" >1000</text>
<text transform="translate(425.3 689) scale(1 1.03)" font-size="22" text-anchor="start" fill="#000" >Exciton density (<tspan font-family="Liberation Serif">μ</tspan>m<tspan font-size="14.5" dy="-8.4">-2</tspan><tspan dy="8.4">)</tspan></text>
<text transform="translate(381.3 500) rotate(-90) scale(1 1.03)" font-size="22" text-anchor="middle" fill="#000" ><tspan font-family="Liberation Serif">Δ</tspan>E (meV)</text>
<circle cx="415.8" cy="398.5" r="3.8" fill="none" stroke="#0f88d5" stroke-width="1.9"/>
<text transform="translate(439 405.5) scale(1 1.03)" font-size="18.5" text-anchor="start" fill="#000" ><tspan font-family="Liberation Serif">Δ</tspan>E</text>
<text transform="translate(464.26 397.5) scale(1 1.03)" font-size="14.0" text-anchor="start" fill="#000" >sat-PhC</text>
<text transform="translate(464.26 410.7) scale(1 1.03)" font-size="14.0" text-anchor="start" fill="#000" >2s-2s</text>
<polygon points="415.8,425.2 420.7,430.1 415.8,435 410.9,430.1" fill="none" stroke="#0f88d5" stroke-width="1.8" stroke-linejoin="miter"/>
<text transform="translate(439 436.9) scale(1 1.03)" font-size="18.5" text-anchor="start" fill="#000" ><tspan font-family="Liberation Serif">Δ</tspan>E</text>
<text transform="translate(464.26 428.9) scale(1 1.03)" font-size="14.0" text-anchor="start" fill="#000" >sat-DBR</text>
<text transform="translate(464.26 442.1) scale(1 1.03)" font-size="14.0" text-anchor="start" fill="#000" >2s-2s</text>
<circle cx="552.7" cy="398.4" r="3.8" fill="none" stroke="#fc5a2d" stroke-width="1.9"/>
<text transform="translate(576.4 405.5) scale(1 1.03)" font-size="18.5" text-anchor="start" fill="#000" ><tspan font-family="Liberation Serif">Δ</tspan>E</text>
<text transform="translate(601.66 397.5) scale(1 1.03)" font-size="14.0" text-anchor="start" fill="#000" >sat-PhC</text>
<text transform="translate(601.66 410.7) scale(1 1.03)" font-size="14.0" text-anchor="start" fill="#000" >1s-1s</text>
<polygon points="554.8,425.9 559.7,430.8 554.8,435.7 549.9,430.8" fill="none" stroke="#fc5a2d" stroke-width="1.8" stroke-linejoin="miter"/>
<text transform="translate(578.3 436.9) scale(1 1.03)" font-size="18.5" text-anchor="start" fill="#000" ><tspan font-family="Liberation Serif">Δ</tspan>E</text>
<text transform="translate(603.56 428.9) scale(1 1.03)" font-size="14.0" text-anchor="start" fill="#000" >sat-DBR</text>
<text transform="translate(603.56 442.1) scale(1 1.03)" font-size="14.0" text-anchor="start" fill="#000" >1s-1s</text>
<text transform="translate(369.6 366) scale(1.03 1.03)" font-size="33" text-anchor="start" fill="#000" >d</text>
</svg>
</body></html>
